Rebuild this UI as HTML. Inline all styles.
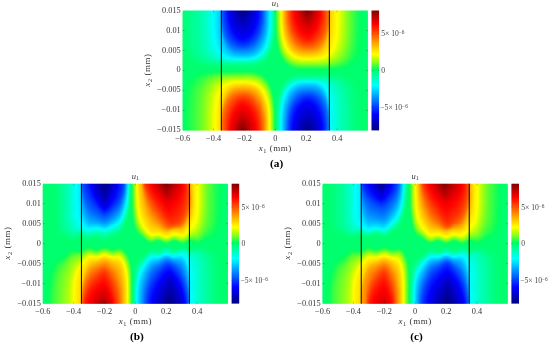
<!DOCTYPE html>
<html lang="en"><head><meta charset="utf-8"><title>u1 displacement field</title><style>
html,body{margin:0;padding:0;background:#fff}
body{width:550px;height:345px;position:relative;overflow:hidden;font-family:"Liberation Serif",serif;color:#333}
svg{position:absolute;left:0;top:0;display:block}
span{position:absolute;white-space:nowrap;line-height:10px}
.yt{width:40px;text-align:right;font-size:8.3px}
.xt{width:40px;text-align:center;font-size:8.3px}
.ti{width:40px;text-align:center;font-size:8.5px}
.xl{width:60px;text-align:center;font-size:9px;line-height:12px;letter-spacing:.55px}
.yl{width:60px;text-align:center;font-size:9px;line-height:12px;letter-spacing:.55px;transform:rotate(-90deg)}
.ct{font-size:7.6px;color:#444}
.cap{width:40px;text-align:center;font-size:11.3px;line-height:13px;font-weight:bold;color:#000}
sub{font-size:70%;vertical-align:-0.25em;line-height:0}
sup{font-size:70%;vertical-align:0.45em;line-height:0}
</style></head><body>
<svg width="550" height="345" viewBox="0 0 550 345"><defs><linearGradient id="cbg" x1="0" y1="0" x2="0" y2="1"><stop offset="0" stop-color="#800000"/><stop offset="0.115" stop-color="#f00"/><stop offset="0.36" stop-color="#ff0"/><stop offset="0.365" stop-color="#ff0"/><stop offset="0.39" stop-color="#d2ff00"/><stop offset="0.435" stop-color="#80ff1e"/><stop offset="0.49" stop-color="#00ff62"/><stop offset="0.5" stop-color="#00ff6e"/><stop offset="0.625" stop-color="#0ff"/><stop offset="0.865" stop-color="#00f"/><stop offset="1" stop-color="#000080"/></linearGradient></defs><defs><linearGradient id="a0"><stop offset="0" stop-color="#00ff76"/><stop offset=".046" stop-color="#00ff8c"/><stop offset=".1" stop-color="#00ffaf"/><stop offset=".132" stop-color="#00ffcf"/><stop offset=".165" stop-color="#00fffe"/><stop offset=".203" stop-color="#0cf"/><stop offset=".208" stop-color="#008fff"/><stop offset=".214" stop-color="#005cff"/><stop offset=".246" stop-color="#0003ff"/><stop offset=".268" stop-color="#0000d6"/><stop offset=".3" stop-color="#0000a4"/><stop offset=".316" stop-color="#00008d"/><stop offset=".327" stop-color="#000086"/><stop offset=".381" stop-color="#0000d2"/><stop offset=".408" stop-color="#0004ff"/><stop offset=".43" stop-color="#0047ff"/><stop offset=".468" stop-color="#00ebff"/><stop offset=".473" stop-color="#00fff9"/><stop offset=".5" stop-color="#00ff6e"/><stop offset=".505" stop-color="#21ff50"/><stop offset=".516" stop-color="#8eff19"/><stop offset=".527" stop-color="#e4ff00"/><stop offset=".532" stop-color="#fffb00"/><stop offset=".57" stop-color="#ff5a00"/><stop offset=".586" stop-color="#ff2600"/><stop offset=".603" stop-color="#ff0100"/><stop offset=".657" stop-color="#9e0000"/><stop offset=".673" stop-color="#870000"/><stop offset=".678" stop-color="#890000"/><stop offset=".695" stop-color="#a00000"/><stop offset=".743" stop-color="#fc0000"/><stop offset=".786" stop-color="#ff7000"/><stop offset=".797" stop-color="#ffd200"/><stop offset=".83" stop-color="#fffb00"/><stop offset=".841" stop-color="#f8ff00"/><stop offset=".857" stop-color="#cfff01"/><stop offset=".889" stop-color="#85ff1c"/><stop offset=".911" stop-color="#52ff36"/><stop offset=".943" stop-color="#15ff57"/><stop offset=".959" stop-color="#01ff61"/><stop offset="1" stop-color="#00ff6e"/></linearGradient><linearGradient id="a1"><stop offset="0" stop-color="#00ff76"/><stop offset=".046" stop-color="#00ff8c"/><stop offset=".1" stop-color="#00ffaf"/><stop offset=".132" stop-color="#00ffcf"/><stop offset=".165" stop-color="#00fffe"/><stop offset=".203" stop-color="#0cf"/><stop offset=".208" stop-color="#0090ff"/><stop offset=".214" stop-color="#005dff"/><stop offset=".246" stop-color="#0005ff"/><stop offset=".268" stop-color="#0000d8"/><stop offset=".3" stop-color="#0000ab"/><stop offset=".316" stop-color="#000095"/><stop offset=".327" stop-color="#00008f"/><stop offset=".381" stop-color="#0000d4"/><stop offset=".403" stop-color="#0000f9"/><stop offset=".408" stop-color="#0005ff"/><stop offset=".43" stop-color="#0048ff"/><stop offset=".468" stop-color="#00ecff"/><stop offset=".473" stop-color="#00fff9"/><stop offset=".5" stop-color="#00ff6e"/><stop offset=".505" stop-color="#21ff50"/><stop offset=".516" stop-color="#8eff19"/><stop offset=".527" stop-color="#e4ff00"/><stop offset=".532" stop-color="#fffc00"/><stop offset=".57" stop-color="#ff5b00"/><stop offset=".586" stop-color="#ff2800"/><stop offset=".603" stop-color="#ff0300"/><stop offset=".673" stop-color="#920000"/><stop offset=".678" stop-color="#930000"/><stop offset=".695" stop-color="#a90000"/><stop offset=".743" stop-color="#fe0000"/><stop offset=".786" stop-color="#ff7000"/><stop offset=".797" stop-color="#ffd200"/><stop offset=".83" stop-color="#fffb00"/><stop offset=".841" stop-color="#f8ff00"/><stop offset=".857" stop-color="#cfff01"/><stop offset=".889" stop-color="#85ff1c"/><stop offset=".911" stop-color="#52ff36"/><stop offset=".943" stop-color="#15ff57"/><stop offset=".959" stop-color="#01ff61"/><stop offset="1" stop-color="#00ff6e"/></linearGradient><linearGradient id="a2"><stop offset="0" stop-color="#00ff76"/><stop offset=".046" stop-color="#00ff8c"/><stop offset=".1" stop-color="#00ffaf"/><stop offset=".132" stop-color="#00ffcf"/><stop offset=".165" stop-color="#00fffd"/><stop offset=".203" stop-color="#0cf"/><stop offset=".214" stop-color="#005eff"/><stop offset=".246" stop-color="#0007ff"/><stop offset=".251" stop-color="#0000f9"/><stop offset=".268" stop-color="#0000dc"/><stop offset=".3" stop-color="#0000b2"/><stop offset=".316" stop-color="#00009e"/><stop offset=".327" stop-color="#000098"/><stop offset=".376" stop-color="#0000d1"/><stop offset=".403" stop-color="#0000fb"/><stop offset=".414" stop-color="#0015ff"/><stop offset=".43" stop-color="#0049ff"/><stop offset=".468" stop-color="#00ecff"/><stop offset=".473" stop-color="#00fff9"/><stop offset=".5" stop-color="#00ff6e"/><stop offset=".505" stop-color="#21ff50"/><stop offset=".516" stop-color="#8dff19"/><stop offset=".527" stop-color="#e3ff00"/><stop offset=".532" stop-color="#fffc00"/><stop offset=".57" stop-color="#ff5c00"/><stop offset=".586" stop-color="#ff2a00"/><stop offset=".603" stop-color="#ff0600"/><stop offset=".608" stop-color="#fa0000"/><stop offset=".673" stop-color="#9c0000"/><stop offset=".689" stop-color="#a00"/><stop offset=".738" stop-color="#f60000"/><stop offset=".743" stop-color="#ff0200"/><stop offset=".749" stop-color="#ff0f00"/><stop offset=".786" stop-color="#ff7100"/><stop offset=".797" stop-color="#ffd200"/><stop offset=".83" stop-color="#fffb00"/><stop offset=".841" stop-color="#f8ff00"/><stop offset=".857" stop-color="#cfff01"/><stop offset=".889" stop-color="#85ff1c"/><stop offset=".911" stop-color="#52ff36"/><stop offset=".943" stop-color="#15ff57"/><stop offset=".959" stop-color="#01ff61"/><stop offset="1" stop-color="#00ff6e"/></linearGradient><linearGradient id="a3"><stop offset="0" stop-color="#00ff76"/><stop offset=".046" stop-color="#00ff8c"/><stop offset=".1" stop-color="#00ffaf"/><stop offset=".132" stop-color="#00ffcf"/><stop offset=".165" stop-color="#00fffd"/><stop offset=".203" stop-color="#0cf"/><stop offset=".214" stop-color="#0060ff"/><stop offset=".224" stop-color="#0040ff"/><stop offset=".251" stop-color="#0000fd"/><stop offset=".273" stop-color="#0000d8"/><stop offset=".3" stop-color="#0000b9"/><stop offset=".327" stop-color="#0000a1"/><stop offset=".376" stop-color="#0000d5"/><stop offset=".403" stop-color="#0000fe"/><stop offset=".414" stop-color="#0018ff"/><stop offset=".43" stop-color="#004bff"/><stop offset=".468" stop-color="#00ecff"/><stop offset=".473" stop-color="#00fff8"/><stop offset=".5" stop-color="#00ff6e"/><stop offset=".505" stop-color="#21ff50"/><stop offset=".516" stop-color="#8dff19"/><stop offset=".527" stop-color="#e3ff00"/><stop offset=".532" stop-color="#fffc00"/><stop offset=".559" stop-color="#ff8900"/><stop offset=".576" stop-color="#ff4c00"/><stop offset=".592" stop-color="#ff1f00"/><stop offset=".608" stop-color="#fe0000"/><stop offset=".63" stop-color="#d00"/><stop offset=".673" stop-color="#a70000"/><stop offset=".689" stop-color="#b40000"/><stop offset=".738" stop-color="#fb0000"/><stop offset=".749" stop-color="#ff1200"/><stop offset=".786" stop-color="#ff7300"/><stop offset=".797" stop-color="#ffd200"/><stop offset=".83" stop-color="#fffb00"/><stop offset=".841" stop-color="#f8ff00"/><stop offset=".857" stop-color="#cfff01"/><stop offset=".889" stop-color="#85ff1c"/><stop offset=".911" stop-color="#52ff36"/><stop offset=".943" stop-color="#15ff57"/><stop offset=".959" stop-color="#01ff61"/><stop offset="1" stop-color="#00ff6e"/></linearGradient><linearGradient id="a4"><stop offset="0" stop-color="#00ff76"/><stop offset=".046" stop-color="#00ff8c"/><stop offset=".1" stop-color="#00ffaf"/><stop offset=".132" stop-color="#00ffcf"/><stop offset=".165" stop-color="#00fffd"/><stop offset=".203" stop-color="#0cf"/><stop offset=".208" stop-color="#009eff"/><stop offset=".214" stop-color="#0062ff"/><stop offset=".224" stop-color="#0042ff"/><stop offset=".251" stop-color="#0002ff"/><stop offset=".273" stop-color="#00d"/><stop offset=".3" stop-color="#0000c0"/><stop offset=".327" stop-color="#0000ab"/><stop offset=".37" stop-color="#0000d4"/><stop offset=".403" stop-color="#0003ff"/><stop offset=".419" stop-color="#002bff"/><stop offset=".43" stop-color="#004fff"/><stop offset=".468" stop-color="#00edff"/><stop offset=".473" stop-color="#00fff8"/><stop offset=".5" stop-color="#00ff6e"/><stop offset=".505" stop-color="#20ff51"/><stop offset=".516" stop-color="#8cff1a"/><stop offset=".527" stop-color="#e1ff00"/><stop offset=".532" stop-color="#fffd00"/><stop offset=".559" stop-color="#ff8b00"/><stop offset=".576" stop-color="#ff5000"/><stop offset=".592" stop-color="#ff2300"/><stop offset=".608" stop-color="#ff0400"/><stop offset=".673" stop-color="#b20000"/><stop offset=".689" stop-color="#be0000"/><stop offset=".732" stop-color="#f60000"/><stop offset=".738" stop-color="#ff0100"/><stop offset=".743" stop-color="#ff0b00"/><stop offset=".781" stop-color="#ff6400"/><stop offset=".786" stop-color="#ff7500"/><stop offset=".792" stop-color="#ffab00"/><stop offset=".797" stop-color="#ffd300"/><stop offset=".83" stop-color="#fffb00"/><stop offset=".841" stop-color="#f8ff00"/><stop offset=".857" stop-color="#cfff01"/><stop offset=".889" stop-color="#85ff1c"/><stop offset=".911" stop-color="#52ff36"/><stop offset=".943" stop-color="#15ff57"/><stop offset=".959" stop-color="#01ff61"/><stop offset="1" stop-color="#00ff6e"/></linearGradient><linearGradient id="a5"><stop offset="0" stop-color="#00ff76"/><stop offset=".046" stop-color="#00ff8c"/><stop offset=".1" stop-color="#00ffaf"/><stop offset=".132" stop-color="#00ffcf"/><stop offset=".165" stop-color="#00fffd"/><stop offset=".203" stop-color="#00cdff"/><stop offset=".208" stop-color="#00a5ff"/><stop offset=".214" stop-color="#06f"/><stop offset=".224" stop-color="#0045ff"/><stop offset=".251" stop-color="#0007ff"/><stop offset=".257" stop-color="#0000fb"/><stop offset=".278" stop-color="#0000dc"/><stop offset=".3" stop-color="#0000c7"/><stop offset=".327" stop-color="#0000b4"/><stop offset=".37" stop-color="#0000d9"/><stop offset=".397" stop-color="#0000fd"/><stop offset=".408" stop-color="#0014ff"/><stop offset=".424" stop-color="#0041ff"/><stop offset=".441" stop-color="#007cff"/><stop offset=".468" stop-color="#00efff"/><stop offset=".473" stop-color="#00fff6"/><stop offset=".5" stop-color="#00ff6e"/><stop offset=".505" stop-color="#1fff51"/><stop offset=".516" stop-color="#8bff1a"/><stop offset=".527" stop-color="#e0ff00"/><stop offset=".532" stop-color="#fffe00"/><stop offset=".559" stop-color="#ff8f00"/><stop offset=".576" stop-color="#ff5400"/><stop offset=".592" stop-color="#ff2800"/><stop offset=".614" stop-color="#f00"/><stop offset=".635" stop-color="#e20000"/><stop offset=".673" stop-color="#be0000"/><stop offset=".695" stop-color="#cd0000"/><stop offset=".732" stop-color="#fc0000"/><stop offset=".749" stop-color="#ff1c00"/><stop offset=".781" stop-color="#ff6700"/><stop offset=".786" stop-color="#ff7900"/><stop offset=".792" stop-color="#ffb100"/><stop offset=".797" stop-color="#ffd300"/><stop offset=".83" stop-color="#fffb00"/><stop offset=".841" stop-color="#f8ff00"/><stop offset=".857" stop-color="#cfff01"/><stop offset=".889" stop-color="#85ff1c"/><stop offset=".911" stop-color="#52ff36"/><stop offset=".943" stop-color="#15ff57"/><stop offset=".959" stop-color="#01ff61"/><stop offset="1" stop-color="#00ff6e"/></linearGradient><linearGradient id="a6"><stop offset="0" stop-color="#00ff76"/><stop offset=".046" stop-color="#00ff8c"/><stop offset=".1" stop-color="#00ffae"/><stop offset=".132" stop-color="#00ffcf"/><stop offset=".165" stop-color="#00fffd"/><stop offset=".203" stop-color="#00cdff"/><stop offset=".208" stop-color="#00adff"/><stop offset=".214" stop-color="#006bff"/><stop offset=".219" stop-color="#0057ff"/><stop offset=".257" stop-color="#0001ff"/><stop offset=".273" stop-color="#0000e8"/><stop offset=".3" stop-color="#0000cd"/><stop offset=".327" stop-color="#0000be"/><stop offset=".365" stop-color="#0000da"/><stop offset=".397" stop-color="#0003ff"/><stop offset=".414" stop-color="#0027ff"/><stop offset=".43" stop-color="#0058ff"/><stop offset=".468" stop-color="#00f0ff"/><stop offset=".473" stop-color="#00fff5"/><stop offset=".5" stop-color="#00ff6e"/><stop offset=".505" stop-color="#1eff52"/><stop offset=".516" stop-color="#89ff1b"/><stop offset=".527" stop-color="#df0"/><stop offset=".532" stop-color="#ff0"/><stop offset=".559" stop-color="#ff9300"/><stop offset=".576" stop-color="#ff5900"/><stop offset=".592" stop-color="#ff2e00"/><stop offset=".608" stop-color="#ff0e00"/><stop offset=".619" stop-color="#fd0000"/><stop offset=".651" stop-color="#d90000"/><stop offset=".678" stop-color="#c90000"/><stop offset=".705" stop-color="#e00000"/><stop offset=".732" stop-color="#ff0300"/><stop offset=".749" stop-color="#ff2100"/><stop offset=".781" stop-color="#ff6a00"/><stop offset=".786" stop-color="#ff7e00"/><stop offset=".792" stop-color="#ffb800"/><stop offset=".797" stop-color="#ffd400"/><stop offset=".835" stop-color="#ff0"/><stop offset=".841" stop-color="#f7ff00"/><stop offset=".857" stop-color="#cfff01"/><stop offset=".889" stop-color="#85ff1c"/><stop offset=".911" stop-color="#52ff36"/><stop offset=".943" stop-color="#15ff57"/><stop offset=".959" stop-color="#01ff61"/><stop offset="1" stop-color="#00ff6e"/></linearGradient><linearGradient id="a7"><stop offset="0" stop-color="#00ff76"/><stop offset=".046" stop-color="#00ff8c"/><stop offset=".1" stop-color="#00ffae"/><stop offset=".132" stop-color="#00ffcf"/><stop offset=".165" stop-color="#00fffc"/><stop offset=".203" stop-color="#00ceff"/><stop offset=".208" stop-color="#00b4ff"/><stop offset=".214" stop-color="#0074ff"/><stop offset=".219" stop-color="#005cff"/><stop offset=".257" stop-color="#0008ff"/><stop offset=".262" stop-color="#0000fd"/><stop offset=".278" stop-color="#0000e7"/><stop offset=".3" stop-color="#0000d4"/><stop offset=".322" stop-color="#0000c7"/><stop offset=".332" stop-color="#0000c9"/><stop offset=".365" stop-color="#0000e0"/><stop offset=".392" stop-color="#00f"/><stop offset=".408" stop-color="#0020ff"/><stop offset=".424" stop-color="#004cff"/><stop offset=".451" stop-color="#00afff"/><stop offset=".468" stop-color="#00f3ff"/><stop offset=".473" stop-color="#00fff2"/><stop offset=".5" stop-color="#00ff6e"/><stop offset=".505" stop-color="#1bff53"/><stop offset=".516" stop-color="#86ff1c"/><stop offset=".527" stop-color="#d9ff00"/><stop offset=".532" stop-color="#ff0"/><stop offset=".576" stop-color="#ff5f00"/><stop offset=".592" stop-color="#ff3400"/><stop offset=".608" stop-color="#ff1400"/><stop offset=".624" stop-color="#fc0000"/><stop offset=".657" stop-color="#d00"/><stop offset=".678" stop-color="#d40000"/><stop offset=".722" stop-color="#f90000"/><stop offset=".732" stop-color="#ff0900"/><stop offset=".77" stop-color="#ff5400"/><stop offset=".781" stop-color="#ff6f00"/><stop offset=".786" stop-color="#ff8600"/><stop offset=".792" stop-color="#ffbf00"/><stop offset=".797" stop-color="#ffd500"/><stop offset=".835" stop-color="#ff0"/><stop offset=".841" stop-color="#f7ff00"/><stop offset=".857" stop-color="#ceff01"/><stop offset=".889" stop-color="#85ff1c"/><stop offset=".911" stop-color="#52ff36"/><stop offset=".943" stop-color="#15ff57"/><stop offset=".959" stop-color="#01ff61"/><stop offset="1" stop-color="#00ff6e"/></linearGradient><linearGradient id="a8"><stop offset="0" stop-color="#00ff76"/><stop offset=".046" stop-color="#00ff8b"/><stop offset=".1" stop-color="#00ffae"/><stop offset=".132" stop-color="#00ffcf"/><stop offset=".165" stop-color="#00fffc"/><stop offset=".203" stop-color="#00cfff"/><stop offset=".208" stop-color="#0bf"/><stop offset=".214" stop-color="#007fff"/><stop offset=".219" stop-color="#0062ff"/><stop offset=".23" stop-color="#0046ff"/><stop offset=".262" stop-color="#0005ff"/><stop offset=".268" stop-color="#0000fb"/><stop offset=".3" stop-color="#0000db"/><stop offset=".322" stop-color="#0000cf"/><stop offset=".332" stop-color="#0000d1"/><stop offset=".365" stop-color="#0000e5"/><stop offset=".386" stop-color="#0000fd"/><stop offset=".392" stop-color="#0007ff"/><stop offset=".408" stop-color="#0027ff"/><stop offset=".424" stop-color="#0053ff"/><stop offset=".451" stop-color="#00b3ff"/><stop offset=".468" stop-color="#00f6ff"/><stop offset=".473" stop-color="#00ffef"/><stop offset=".5" stop-color="#00ff6e"/><stop offset=".505" stop-color="#18ff55"/><stop offset=".516" stop-color="#83ff1d"/><stop offset=".527" stop-color="#d5ff00"/><stop offset=".532" stop-color="#fdff00"/><stop offset=".538" stop-color="#ffef00"/><stop offset=".565" stop-color="#ff8a00"/><stop offset=".581" stop-color="#ff5700"/><stop offset=".597" stop-color="#ff2f00"/><stop offset=".619" stop-color="#ff0b00"/><stop offset=".63" stop-color="#fd0000"/><stop offset=".673" stop-color="#d00"/><stop offset=".689" stop-color="#e20000"/><stop offset=".716" stop-color="#fa0000"/><stop offset=".722" stop-color="#ff0100"/><stop offset=".732" stop-color="#ff1000"/><stop offset=".776" stop-color="#f60"/><stop offset=".781" stop-color="#ff7500"/><stop offset=".786" stop-color="#ff9100"/><stop offset=".792" stop-color="#ffc500"/><stop offset=".797" stop-color="#ffd600"/><stop offset=".83" stop-color="#fffd00"/><stop offset=".835" stop-color="#ff0"/><stop offset=".841" stop-color="#f6ff00"/><stop offset=".857" stop-color="#cdff02"/><stop offset=".889" stop-color="#84ff1c"/><stop offset=".911" stop-color="#52ff36"/><stop offset=".943" stop-color="#15ff57"/><stop offset=".959" stop-color="#01ff61"/><stop offset="1" stop-color="#00ff6e"/></linearGradient><linearGradient id="a9"><stop offset="0" stop-color="#00ff76"/><stop offset=".046" stop-color="#00ff8b"/><stop offset=".1" stop-color="#00ffae"/><stop offset=".127" stop-color="#00ffc8"/><stop offset=".17" stop-color="#00fbff"/><stop offset=".203" stop-color="#00d0ff"/><stop offset=".208" stop-color="#00c2ff"/><stop offset=".214" stop-color="#008eff"/><stop offset=".219" stop-color="#006aff"/><stop offset=".224" stop-color="#0059ff"/><stop offset=".241" stop-color="#0036ff"/><stop offset=".268" stop-color="#0003ff"/><stop offset=".3" stop-color="#0000e1"/><stop offset=".322" stop-color="#0000d7"/><stop offset=".332" stop-color="#0000d8"/><stop offset=".359" stop-color="#0000e7"/><stop offset=".381" stop-color="#0000fc"/><stop offset=".386" stop-color="#0005ff"/><stop offset=".408" stop-color="#002fff"/><stop offset=".424" stop-color="#005cff"/><stop offset=".451" stop-color="#00b8ff"/><stop offset=".468" stop-color="#00faff"/><stop offset=".473" stop-color="#00ffeb"/><stop offset=".495" stop-color="#00ff82"/><stop offset=".5" stop-color="#00ff6e"/><stop offset=".505" stop-color="#14ff57"/><stop offset=".516" stop-color="#7fff1f"/><stop offset=".527" stop-color="#cfff01"/><stop offset=".532" stop-color="#f6ff00"/><stop offset=".538" stop-color="#fff300"/><stop offset=".559" stop-color="#ffa400"/><stop offset=".581" stop-color="#ff5f00"/><stop offset=".597" stop-color="#ff3700"/><stop offset=".619" stop-color="#ff1200"/><stop offset=".635" stop-color="#fe0000"/><stop offset=".673" stop-color="#e60000"/><stop offset=".689" stop-color="#eb0000"/><stop offset=".711" stop-color="#fb0000"/><stop offset=".716" stop-color="#ff0200"/><stop offset=".732" stop-color="#ff1800"/><stop offset=".77" stop-color="#ff5f00"/><stop offset=".781" stop-color="#ff7d00"/><stop offset=".786" stop-color="#ff9e00"/><stop offset=".792" stop-color="#ffcb00"/><stop offset=".797" stop-color="#ffd700"/><stop offset=".83" stop-color="#fffd00"/><stop offset=".835" stop-color="#ff0"/><stop offset=".857" stop-color="#ccff02"/><stop offset=".889" stop-color="#84ff1d"/><stop offset=".916" stop-color="#46ff3d"/><stop offset=".943" stop-color="#15ff57"/><stop offset=".959" stop-color="#00ff61"/><stop offset="1" stop-color="#00ff6e"/></linearGradient><linearGradient id="a10"><stop offset="0" stop-color="#00ff76"/><stop offset=".041" stop-color="#0f8"/><stop offset=".1" stop-color="#00ffae"/><stop offset=".127" stop-color="#00ffc7"/><stop offset=".17" stop-color="#00fcff"/><stop offset=".208" stop-color="#00c7ff"/><stop offset=".219" stop-color="#0076ff"/><stop offset=".224" stop-color="#0061ff"/><stop offset=".241" stop-color="#003dff"/><stop offset=".273" stop-color="#0003ff"/><stop offset=".3" stop-color="#0000e8"/><stop offset=".332" stop-color="#0000df"/><stop offset=".359" stop-color="#0000ed"/><stop offset=".376" stop-color="#0000fd"/><stop offset=".381" stop-color="#0006ff"/><stop offset=".403" stop-color="#002cff"/><stop offset=".419" stop-color="#05f"/><stop offset=".446" stop-color="#00abff"/><stop offset=".468" stop-color="#0ff"/><stop offset=".495" stop-color="#00ff80"/><stop offset=".5" stop-color="#00ff6e"/><stop offset=".505" stop-color="#0fff59"/><stop offset=".516" stop-color="#78ff22"/><stop offset=".522" stop-color="#a1ff12"/><stop offset=".527" stop-color="#c9ff03"/><stop offset=".532" stop-color="#efff00"/><stop offset=".538" stop-color="#fff800"/><stop offset=".554" stop-color="#ffbd00"/><stop offset=".581" stop-color="#ff6800"/><stop offset=".597" stop-color="#ff4000"/><stop offset=".619" stop-color="#ff1a00"/><stop offset=".641" stop-color="#ff0100"/><stop offset=".673" stop-color="#ef0000"/><stop offset=".705" stop-color="#fe0000"/><stop offset=".727" stop-color="#ff1800"/><stop offset=".765" stop-color="#ff5b00"/><stop offset=".776" stop-color="#ff7400"/><stop offset=".781" stop-color="#f80"/><stop offset=".792" stop-color="#ffcf00"/><stop offset=".83" stop-color="#fffe00"/><stop offset=".835" stop-color="#ff0"/><stop offset=".857" stop-color="#cbff02"/><stop offset=".889" stop-color="#83ff1d"/><stop offset=".916" stop-color="#45ff3d"/><stop offset=".943" stop-color="#14ff57"/><stop offset=".959" stop-color="#00ff62"/><stop offset="1" stop-color="#00ff6e"/></linearGradient><linearGradient id="a11"><stop offset="0" stop-color="#00ff76"/><stop offset=".041" stop-color="#0f8"/><stop offset=".1" stop-color="#00ffad"/><stop offset=".127" stop-color="#00ffc7"/><stop offset=".17" stop-color="#00fdff"/><stop offset=".208" stop-color="#00caff"/><stop offset=".214" stop-color="#00acff"/><stop offset=".219" stop-color="#0084ff"/><stop offset=".224" stop-color="#006bff"/><stop offset=".241" stop-color="#04f"/><stop offset=".278" stop-color="#0005ff"/><stop offset=".3" stop-color="#00e"/><stop offset=".332" stop-color="#0000e7"/><stop offset=".354" stop-color="#0000f0"/><stop offset=".37" stop-color="#00f"/><stop offset=".381" stop-color="#000fff"/><stop offset=".403" stop-color="#0037ff"/><stop offset=".419" stop-color="#005fff"/><stop offset=".446" stop-color="#00b2ff"/><stop offset=".462" stop-color="#0ef"/><stop offset=".468" stop-color="#00fff9"/><stop offset=".495" stop-color="#00ff7c"/><stop offset=".5" stop-color="#00ff6e"/><stop offset=".505" stop-color="#0aff5d"/><stop offset=".516" stop-color="#70ff26"/><stop offset=".522" stop-color="#9aff14"/><stop offset=".532" stop-color="#e6ff00"/><stop offset=".538" stop-color="#fffd00"/><stop offset=".554" stop-color="#ffc400"/><stop offset=".581" stop-color="#ff7200"/><stop offset=".597" stop-color="#ff4a00"/><stop offset=".614" stop-color="#ff2c00"/><stop offset=".635" stop-color="#ff0f00"/><stop offset=".651" stop-color="#ff0100"/><stop offset=".673" stop-color="#f70000"/><stop offset=".695" stop-color="#fe0000"/><stop offset=".722" stop-color="#ff1a00"/><stop offset=".759" stop-color="#ff5800"/><stop offset=".776" stop-color="#ff7e00"/><stop offset=".781" stop-color="#ff9600"/><stop offset=".786" stop-color="#ffba00"/><stop offset=".792" stop-color="#ffd200"/><stop offset=".83" stop-color="#ff0"/><stop offset=".835" stop-color="#fdff00"/><stop offset=".857" stop-color="#c9ff03"/><stop offset=".889" stop-color="#82ff1d"/><stop offset=".916" stop-color="#45ff3d"/><stop offset=".943" stop-color="#14ff57"/><stop offset=".959" stop-color="#00ff62"/><stop offset="1" stop-color="#00ff6e"/></linearGradient><linearGradient id="a12"><stop offset="0" stop-color="#00ff76"/><stop offset=".046" stop-color="#00ff8b"/><stop offset=".105" stop-color="#00ffb1"/><stop offset=".132" stop-color="#0fc"/><stop offset=".17" stop-color="#0ff"/><stop offset=".208" stop-color="#00cdff"/><stop offset=".214" stop-color="#00b9ff"/><stop offset=".224" stop-color="#0079ff"/><stop offset=".23" stop-color="#0065ff"/><stop offset=".241" stop-color="#004dff"/><stop offset=".284" stop-color="#0008ff"/><stop offset=".3" stop-color="#0000f7"/><stop offset=".327" stop-color="#0000ed"/><stop offset=".359" stop-color="#0000fe"/><stop offset=".381" stop-color="#001aff"/><stop offset=".403" stop-color="#0042ff"/><stop offset=".419" stop-color="#006aff"/><stop offset=".446" stop-color="#00baff"/><stop offset=".462" stop-color="#00f5ff"/><stop offset=".468" stop-color="#00fff2"/><stop offset=".495" stop-color="#00ff78"/><stop offset=".505" stop-color="#03ff60"/><stop offset=".516" stop-color="#67ff2b"/><stop offset=".522" stop-color="#92ff17"/><stop offset=".532" stop-color="#dcff00"/><stop offset=".538" stop-color="#ff0"/><stop offset=".581" stop-color="#ff7d00"/><stop offset=".608" stop-color="#ff4000"/><stop offset=".641" stop-color="#ff1300"/><stop offset=".673" stop-color="#ff0100"/><stop offset=".689" stop-color="#ff0400"/><stop offset=".705" stop-color="#f10"/><stop offset=".749" stop-color="#ff4e00"/><stop offset=".77" stop-color="#ff7800"/><stop offset=".776" stop-color="#ff8b00"/><stop offset=".786" stop-color="#ffc500"/><stop offset=".792" stop-color="#ffd500"/><stop offset=".824" stop-color="#fffb00"/><stop offset=".835" stop-color="#faff00"/><stop offset=".857" stop-color="#c7ff04"/><stop offset=".889" stop-color="#81ff1e"/><stop offset=".916" stop-color="#44ff3e"/><stop offset=".943" stop-color="#13ff57"/><stop offset=".959" stop-color="#00ff62"/><stop offset="1" stop-color="#00ff6e"/></linearGradient><linearGradient id="a13"><stop offset="0" stop-color="#00ff75"/><stop offset=".046" stop-color="#00ff8a"/><stop offset=".105" stop-color="#00ffb0"/><stop offset=".132" stop-color="#00ffcb"/><stop offset=".17" stop-color="#00fffd"/><stop offset=".208" stop-color="#00d0ff"/><stop offset=".214" stop-color="#00c4ff"/><stop offset=".224" stop-color="#0089ff"/><stop offset=".23" stop-color="#0073ff"/><stop offset=".241" stop-color="#0057ff"/><stop offset=".257" stop-color="#003bff"/><stop offset=".3" stop-color="#0002ff"/><stop offset=".332" stop-color="#0000f7"/><stop offset=".349" stop-color="#00f"/><stop offset=".359" stop-color="#000aff"/><stop offset=".381" stop-color="#0026ff"/><stop offset=".397" stop-color="#0043ff"/><stop offset=".435" stop-color="#00a2ff"/><stop offset=".462" stop-color="#00fdff"/><stop offset=".495" stop-color="#00ff74"/><stop offset=".505" stop-color="#00ff65"/><stop offset=".522" stop-color="#89ff1b"/><stop offset=".532" stop-color="#d1ff00"/><stop offset=".538" stop-color="#f3ff00"/><stop offset=".543" stop-color="#fff800"/><stop offset=".576" stop-color="#ff9700"/><stop offset=".608" stop-color="#ff4c00"/><stop offset=".641" stop-color="#ff1f00"/><stop offset=".673" stop-color="#ff0b00"/><stop offset=".689" stop-color="#ff0f00"/><stop offset=".705" stop-color="#ff1c00"/><stop offset=".749" stop-color="#ff5800"/><stop offset=".77" stop-color="#ff8500"/><stop offset=".786" stop-color="#ffce00"/><stop offset=".824" stop-color="#fffd00"/><stop offset=".83" stop-color="#ff0"/><stop offset=".835" stop-color="#f7ff00"/><stop offset=".851" stop-color="#d1ff00"/><stop offset=".889" stop-color="#7fff1e"/><stop offset=".911" stop-color="#4eff38"/><stop offset=".943" stop-color="#13ff58"/><stop offset=".959" stop-color="#00ff62"/><stop offset="1" stop-color="#00ff6e"/></linearGradient><linearGradient id="a14"><stop offset="0" stop-color="#00ff75"/><stop offset=".046" stop-color="#00ff8a"/><stop offset=".105" stop-color="#00ffb0"/><stop offset=".132" stop-color="#00ffc9"/><stop offset=".176" stop-color="#00fcff"/><stop offset=".214" stop-color="#00cbff"/><stop offset=".23" stop-color="#0084ff"/><stop offset=".235" stop-color="#0072ff"/><stop offset=".251" stop-color="#004fff"/><stop offset=".295" stop-color="#0015ff"/><stop offset=".311" stop-color="#0008ff"/><stop offset=".327" stop-color="#0003ff"/><stop offset=".359" stop-color="#0018ff"/><stop offset=".392" stop-color="#0047ff"/><stop offset=".43" stop-color="#009eff"/><stop offset=".457" stop-color="#00f2ff"/><stop offset=".462" stop-color="#00fff8"/><stop offset=".495" stop-color="#00ff6f"/><stop offset=".505" stop-color="#00ff6a"/><stop offset=".511" stop-color="#21ff50"/><stop offset=".522" stop-color="#7eff1f"/><stop offset=".532" stop-color="#c4ff05"/><stop offset=".543" stop-color="#ff0"/><stop offset=".57" stop-color="#ffb000"/><stop offset=".608" stop-color="#ff5a00"/><stop offset=".641" stop-color="#ff2c00"/><stop offset=".673" stop-color="#ff1800"/><stop offset=".7" stop-color="#ff2400"/><stop offset=".743" stop-color="#ff5a00"/><stop offset=".765" stop-color="#ff8400"/><stop offset=".786" stop-color="#ffd300"/><stop offset=".824" stop-color="#ff0"/><stop offset=".83" stop-color="#feff00"/><stop offset=".851" stop-color="#cdff02"/><stop offset=".889" stop-color="#7dff20"/><stop offset=".916" stop-color="#41ff3f"/><stop offset=".943" stop-color="#12ff58"/><stop offset=".959" stop-color="#00ff62"/><stop offset="1" stop-color="#00ff6e"/></linearGradient><linearGradient id="a15"><stop offset="0" stop-color="#00ff75"/><stop offset=".046" stop-color="#00ff89"/><stop offset=".105" stop-color="#00ffae"/><stop offset=".138" stop-color="#00ffce"/><stop offset=".176" stop-color="#0ff"/><stop offset=".214" stop-color="#00cfff"/><stop offset=".219" stop-color="#00c3ff"/><stop offset=".235" stop-color="#0083ff"/><stop offset=".246" stop-color="#0067ff"/><stop offset=".257" stop-color="#0054ff"/><stop offset=".3" stop-color="#0020ff"/><stop offset=".327" stop-color="#0014ff"/><stop offset=".354" stop-color="#02f"/><stop offset=".386" stop-color="#004cff"/><stop offset=".43" stop-color="#0af"/><stop offset=".457" stop-color="#00fcff"/><stop offset=".489" stop-color="#00ff7e"/><stop offset=".495" stop-color="#00ff6e"/><stop offset=".505" stop-color="#00ff6e"/><stop offset=".511" stop-color="#15ff57"/><stop offset=".522" stop-color="#6fff27"/><stop offset=".527" stop-color="#95ff16"/><stop offset=".538" stop-color="#d6ff00"/><stop offset=".543" stop-color="#f6ff00"/><stop offset=".549" stop-color="#fff800"/><stop offset=".576" stop-color="#ffae00"/><stop offset=".614" stop-color="#ff6000"/><stop offset=".646" stop-color="#ff3700"/><stop offset=".673" stop-color="#ff2900"/><stop offset=".7" stop-color="#ff3400"/><stop offset=".738" stop-color="#ff5f00"/><stop offset=".759" stop-color="#ff8600"/><stop offset=".781" stop-color="#ffce00"/><stop offset=".824" stop-color="#ff0"/><stop offset=".83" stop-color="#f9ff00"/><stop offset=".851" stop-color="#c9ff03"/><stop offset=".884" stop-color="#86ff1c"/><stop offset=".916" stop-color="#3fff40"/><stop offset=".943" stop-color="#11ff59"/><stop offset=".959" stop-color="#00ff63"/><stop offset="1" stop-color="#00ff6e"/></linearGradient><linearGradient id="a16"><stop offset="0" stop-color="#00ff74"/><stop offset=".046" stop-color="#0f8"/><stop offset=".105" stop-color="#00ffad"/><stop offset=".138" stop-color="#00ffcb"/><stop offset=".176" stop-color="#00fffc"/><stop offset=".219" stop-color="#00cbff"/><stop offset=".241" stop-color="#0086ff"/><stop offset=".262" stop-color="#005bff"/><stop offset=".295" stop-color="#0036ff"/><stop offset=".327" stop-color="#0028ff"/><stop offset=".354" stop-color="#0035ff"/><stop offset=".386" stop-color="#005eff"/><stop offset=".424" stop-color="#00a9ff"/><stop offset=".451" stop-color="#00f5ff"/><stop offset=".457" stop-color="#00fff6"/><stop offset=".489" stop-color="#0f7"/><stop offset=".495" stop-color="#00ff6e"/><stop offset=".505" stop-color="#00ff6e"/><stop offset=".511" stop-color="#08ff5e"/><stop offset=".527" stop-color="#87ff1c"/><stop offset=".538" stop-color="#c6ff04"/><stop offset=".549" stop-color="#ff0"/><stop offset=".581" stop-color="#ffaf00"/><stop offset=".619" stop-color="#ff6800"/><stop offset=".646" stop-color="#ff4800"/><stop offset=".673" stop-color="#ff3c00"/><stop offset=".7" stop-color="#ff4600"/><stop offset=".732" stop-color="#f60"/><stop offset=".754" stop-color="#ff8a00"/><stop offset=".781" stop-color="#ffd400"/><stop offset=".819" stop-color="#ff0"/><stop offset=".824" stop-color="#feff00"/><stop offset=".846" stop-color="#d0ff01"/><stop offset=".884" stop-color="#82ff1d"/><stop offset=".916" stop-color="#3dff42"/><stop offset=".938" stop-color="#17ff55"/><stop offset=".959" stop-color="#00ff63"/><stop offset="1" stop-color="#00ff6e"/></linearGradient><linearGradient id="a17"><stop offset="0" stop-color="#00ff73"/><stop offset=".051" stop-color="#00ff8a"/><stop offset=".111" stop-color="#00ffaf"/><stop offset=".143" stop-color="#00ffce"/><stop offset=".181" stop-color="#0ff"/><stop offset=".224" stop-color="#00c9ff"/><stop offset=".246" stop-color="#008bff"/><stop offset=".268" stop-color="#0065ff"/><stop offset=".3" stop-color="#0045ff"/><stop offset=".327" stop-color="#003eff"/><stop offset=".354" stop-color="#0049ff"/><stop offset=".386" stop-color="#0070ff"/><stop offset=".424" stop-color="#00b7ff"/><stop offset=".451" stop-color="#00fffb"/><stop offset=".489" stop-color="#00ff70"/><stop offset=".505" stop-color="#00ff6e"/><stop offset=".511" stop-color="#00ff65"/><stop offset=".527" stop-color="#75ff24"/><stop offset=".532" stop-color="#96ff16"/><stop offset=".543" stop-color="#d1ff00"/><stop offset=".549" stop-color="#edff00"/><stop offset=".554" stop-color="#ff0"/><stop offset=".581" stop-color="#ffbd00"/><stop offset=".619" stop-color="#ff7b00"/><stop offset=".646" stop-color="#ff5c00"/><stop offset=".673" stop-color="#ff5200"/><stop offset=".7" stop-color="#ff5900"/><stop offset=".727" stop-color="#ff7100"/><stop offset=".749" stop-color="#ff9200"/><stop offset=".776" stop-color="#ffd300"/><stop offset=".819" stop-color="#ff0"/><stop offset=".846" stop-color="#caff03"/><stop offset=".884" stop-color="#7eff1f"/><stop offset=".916" stop-color="#3aff43"/><stop offset=".938" stop-color="#15ff56"/><stop offset=".954" stop-color="#01ff61"/><stop offset="1" stop-color="#00ff6e"/></linearGradient><linearGradient id="a18"><stop offset="0" stop-color="#00ff73"/><stop offset=".051" stop-color="#00ff89"/><stop offset=".111" stop-color="#00ffad"/><stop offset=".143" stop-color="#00ffca"/><stop offset=".186" stop-color="#00feff"/><stop offset=".224" stop-color="#00d1ff"/><stop offset=".251" stop-color="#0094ff"/><stop offset=".273" stop-color="#0073ff"/><stop offset=".3" stop-color="#005dff"/><stop offset=".327" stop-color="#0057ff"/><stop offset=".354" stop-color="#0061ff"/><stop offset=".386" stop-color="#0084ff"/><stop offset=".419" stop-color="#00baff"/><stop offset=".446" stop-color="#00fffe"/><stop offset=".484" stop-color="#00ff79"/><stop offset=".489" stop-color="#00ff6e"/><stop offset=".511" stop-color="#00ff6d"/><stop offset=".516" stop-color="#12ff58"/><stop offset=".532" stop-color="#85ff1c"/><stop offset=".549" stop-color="#d8ff00"/><stop offset=".554" stop-color="#f2ff00"/><stop offset=".559" stop-color="#fffd00"/><stop offset=".586" stop-color="#ffc100"/><stop offset=".619" stop-color="#ff8f00"/><stop offset=".646" stop-color="#ff7300"/><stop offset=".673" stop-color="#ff6a00"/><stop offset=".7" stop-color="#ff6f00"/><stop offset=".722" stop-color="#ff8000"/><stop offset=".743" stop-color="#ff9c00"/><stop offset=".77" stop-color="#ffd300"/><stop offset=".814" stop-color="#ff0"/><stop offset=".819" stop-color="#faff00"/><stop offset=".841" stop-color="#ceff01"/><stop offset=".878" stop-color="#84ff1d"/><stop offset=".916" stop-color="#36ff45"/><stop offset=".938" stop-color="#13ff58"/><stop offset=".954" stop-color="#00ff62"/><stop offset="1" stop-color="#00ff6e"/></linearGradient><linearGradient id="a19"><stop offset="0" stop-color="#00ff71"/><stop offset=".046" stop-color="#00ff84"/><stop offset=".111" stop-color="#0fa"/><stop offset=".143" stop-color="#00ffc6"/><stop offset=".192" stop-color="#00fdff"/><stop offset=".23" stop-color="#00d2ff"/><stop offset=".251" stop-color="#00a7ff"/><stop offset=".273" stop-color="#0089ff"/><stop offset=".295" stop-color="#0079ff"/><stop offset=".322" stop-color="#0072ff"/><stop offset=".349" stop-color="#07f"/><stop offset=".381" stop-color="#0091ff"/><stop offset=".408" stop-color="#00b6ff"/><stop offset=".435" stop-color="#00f2ff"/><stop offset=".441" stop-color="#00fffd"/><stop offset=".484" stop-color="#00ff70"/><stop offset=".511" stop-color="#00ff6e"/><stop offset=".516" stop-color="#00ff62"/><stop offset=".532" stop-color="#6eff27"/><stop offset=".538" stop-color="#8dff19"/><stop offset=".554" stop-color="#daff00"/><stop offset=".559" stop-color="#f2ff00"/><stop offset=".565" stop-color="#ff0"/><stop offset=".592" stop-color="#ffc800"/><stop offset=".619" stop-color="#ffa300"/><stop offset=".646" stop-color="#ff8c00"/><stop offset=".673" stop-color="#ff8500"/><stop offset=".7" stop-color="#f80"/><stop offset=".722" stop-color="#ff9600"/><stop offset=".743" stop-color="#ffb000"/><stop offset=".765" stop-color="#ffd500"/><stop offset=".808" stop-color="#ff0"/><stop offset=".814" stop-color="#faff00"/><stop offset=".835" stop-color="#d0ff01"/><stop offset=".878" stop-color="#7eff1f"/><stop offset=".916" stop-color="#32ff47"/><stop offset=".938" stop-color="#10ff59"/><stop offset=".954" stop-color="#00ff63"/><stop offset="1" stop-color="#00ff6e"/></linearGradient><linearGradient id="a20"><stop offset="0" stop-color="#00ff70"/><stop offset=".051" stop-color="#00ff85"/><stop offset=".116" stop-color="#00ffab"/><stop offset=".149" stop-color="#00ffc6"/><stop offset=".197" stop-color="#0ff"/><stop offset=".241" stop-color="#00ceff"/><stop offset=".273" stop-color="#009fff"/><stop offset=".295" stop-color="#0091ff"/><stop offset=".322" stop-color="#008dff"/><stop offset=".354" stop-color="#0092ff"/><stop offset=".381" stop-color="#00a5ff"/><stop offset=".408" stop-color="#00c9ff"/><stop offset=".43" stop-color="#00f7ff"/><stop offset=".435" stop-color="#00fff8"/><stop offset=".478" stop-color="#00ff76"/><stop offset=".484" stop-color="#00ff6e"/><stop offset=".516" stop-color="#00ff6c"/><stop offset=".522" stop-color="#10ff59"/><stop offset=".538" stop-color="#76ff23"/><stop offset=".543" stop-color="#91ff18"/><stop offset=".559" stop-color="#d7ff00"/><stop offset=".57" stop-color="#ff0"/><stop offset=".597" stop-color="#ffd100"/><stop offset=".619" stop-color="#ffb700"/><stop offset=".646" stop-color="#ffa400"/><stop offset=".673" stop-color="#ff9f00"/><stop offset=".7" stop-color="#ffa100"/><stop offset=".722" stop-color="#ffac00"/><stop offset=".765" stop-color="#ffdf00"/><stop offset=".803" stop-color="#ff0"/><stop offset=".83" stop-color="#d0ff01"/><stop offset=".873" stop-color="#81ff1e"/><stop offset=".911" stop-color="#36ff45"/><stop offset=".938" stop-color="#0dff5b"/><stop offset=".949" stop-color="#01ff61"/><stop offset="1" stop-color="#00ff6e"/></linearGradient><linearGradient id="a21"><stop offset="0" stop-color="#00ff6e"/><stop offset=".057" stop-color="#00ff85"/><stop offset=".122" stop-color="#0fa"/><stop offset=".154" stop-color="#00ffc5"/><stop offset=".203" stop-color="#00fffb"/><stop offset=".278" stop-color="#00b1ff"/><stop offset=".316" stop-color="#00a5ff"/><stop offset=".349" stop-color="#00a7ff"/><stop offset=".376" stop-color="#00b6ff"/><stop offset=".397" stop-color="#00ceff"/><stop offset=".419" stop-color="#00f5ff"/><stop offset=".424" stop-color="#00fffd"/><stop offset=".462" stop-color="#00ff92"/><stop offset=".478" stop-color="#00ff6e"/><stop offset=".516" stop-color="#00ff6e"/><stop offset=".522" stop-color="#00ff65"/><stop offset=".543" stop-color="#78ff22"/><stop offset=".549" stop-color="#91ff18"/><stop offset=".565" stop-color="#d0ff01"/><stop offset=".576" stop-color="#f6ff00"/><stop offset=".581" stop-color="#ff0"/><stop offset=".603" stop-color="#ffde00"/><stop offset=".624" stop-color="#ffc700"/><stop offset=".646" stop-color="#fb0"/><stop offset=".673" stop-color="#ffb700"/><stop offset=".716" stop-color="#ffbf00"/><stop offset=".792" stop-color="#ff0"/><stop offset=".797" stop-color="#fbff00"/><stop offset=".824" stop-color="#ccff02"/><stop offset=".868" stop-color="#82ff1d"/><stop offset=".911" stop-color="#30ff48"/><stop offset=".938" stop-color="#09ff5d"/><stop offset=".949" stop-color="#00ff63"/><stop offset="1" stop-color="#00ff6e"/></linearGradient><linearGradient id="a22"><stop offset="0" stop-color="#00ff6e"/><stop offset=".051" stop-color="#00ff80"/><stop offset=".127" stop-color="#00ffa8"/><stop offset=".165" stop-color="#00ffc6"/><stop offset=".219" stop-color="#00feff"/><stop offset=".278" stop-color="#00cbff"/><stop offset=".316" stop-color="#00c0ff"/><stop offset=".365" stop-color="#00c8ff"/><stop offset=".386" stop-color="#00daff"/><stop offset=".408" stop-color="#00f9ff"/><stop offset=".419" stop-color="#0fe"/><stop offset=".451" stop-color="#00ff9c"/><stop offset=".473" stop-color="#00ff6f"/><stop offset=".522" stop-color="#00ff6e"/><stop offset=".527" stop-color="#02ff61"/><stop offset=".543" stop-color="#59ff33"/><stop offset=".554" stop-color="#8cff1a"/><stop offset=".576" stop-color="#d5ff00"/><stop offset=".592" stop-color="#ff0"/><stop offset=".63" stop-color="#ffdb00"/><stop offset=".673" stop-color="#ffd000"/><stop offset=".716" stop-color="#ffd700"/><stop offset=".781" stop-color="#ff0"/><stop offset=".814" stop-color="#cfff01"/><stop offset=".862" stop-color="#81ff1e"/><stop offset=".905" stop-color="#31ff48"/><stop offset=".932" stop-color="#0bff5c"/><stop offset=".943" stop-color="#00ff62"/><stop offset=".981" stop-color="#00ff6e"/><stop offset="1" stop-color="#00ff6e"/></linearGradient><linearGradient id="a23"><stop offset="0" stop-color="#00ff6e"/><stop offset=".014" stop-color="#00ff6e"/><stop offset=".046" stop-color="#00ff7a"/><stop offset=".127" stop-color="#00ffa1"/><stop offset=".17" stop-color="#00ffbf"/><stop offset=".241" stop-color="#00feff"/><stop offset=".278" stop-color="#00e7ff"/><stop offset=".311" stop-color="#00e1ff"/><stop offset=".354" stop-color="#00e4ff"/><stop offset=".386" stop-color="#00f9ff"/><stop offset=".392" stop-color="#0ff"/><stop offset=".403" stop-color="#0fe"/><stop offset=".446" stop-color="#00ff94"/><stop offset=".468" stop-color="#00ff6f"/><stop offset=".527" stop-color="#00ff6c"/><stop offset=".532" stop-color="#04ff60"/><stop offset=".559" stop-color="#82ff1d"/><stop offset=".576" stop-color="#b3ff0b"/><stop offset=".592" stop-color="#dcff00"/><stop offset=".608" stop-color="#fcff00"/><stop offset=".614" stop-color="#ff0"/><stop offset=".646" stop-color="#fff000"/><stop offset=".678" stop-color="#ffed00"/><stop offset=".716" stop-color="#fff000"/><stop offset=".759" stop-color="#ff0"/><stop offset=".797" stop-color="#d3ff00"/><stop offset=".851" stop-color="#84ff1c"/><stop offset=".9" stop-color="#30ff48"/><stop offset=".932" stop-color="#05ff5f"/><stop offset=".938" stop-color="#00ff62"/><stop offset=".976" stop-color="#00ff6e"/><stop offset="1" stop-color="#00ff6e"/></linearGradient><linearGradient id="a24"><stop offset="0" stop-color="#00ff6e"/><stop offset=".024" stop-color="#00ff6f"/><stop offset=".122" stop-color="#00ff96"/><stop offset=".262" stop-color="#0fe"/><stop offset=".332" stop-color="#00fff5"/><stop offset=".359" stop-color="#00fff1"/><stop offset=".381" stop-color="#00ffe2"/><stop offset=".462" stop-color="#00ff6e"/><stop offset=".527" stop-color="#00ff6e"/><stop offset=".532" stop-color="#00ff6c"/><stop offset=".538" stop-color="#02ff61"/><stop offset=".554" stop-color="#47ff3c"/><stop offset=".57" stop-color="#83ff1d"/><stop offset=".597" stop-color="#c0ff06"/><stop offset=".614" stop-color="#d9ff00"/><stop offset=".635" stop-color="#edff00"/><stop offset=".678" stop-color="#f5ff00"/><stop offset=".732" stop-color="#ef0"/><stop offset=".776" stop-color="#d0ff01"/><stop offset=".841" stop-color="#83ff1d"/><stop offset=".9" stop-color="#25ff4e"/><stop offset=".932" stop-color="#00ff62"/><stop offset=".97" stop-color="#00ff6e"/><stop offset="1" stop-color="#00ff6e"/></linearGradient><linearGradient id="a25"><stop offset="0" stop-color="#00ff6e"/><stop offset=".041" stop-color="#00ff70"/><stop offset=".241" stop-color="#00ffbc"/><stop offset=".332" stop-color="#00ffc2"/><stop offset=".359" stop-color="#00ffbf"/><stop offset=".381" stop-color="#00ffb5"/><stop offset=".451" stop-color="#00ff70"/><stop offset=".532" stop-color="#00ff6e"/><stop offset=".543" stop-color="#00ff65"/><stop offset=".581" stop-color="#79ff22"/><stop offset=".603" stop-color="#a1ff12"/><stop offset=".635" stop-color="#bfff07"/><stop offset=".678" stop-color="#c5ff05"/><stop offset=".738" stop-color="#c0ff06"/><stop offset=".786" stop-color="#a6ff10"/><stop offset=".824" stop-color="#82ff1d"/><stop offset=".889" stop-color="#27ff4d"/><stop offset=".922" stop-color="#01ff61"/><stop offset=".959" stop-color="#00ff6d"/><stop offset="1" stop-color="#00ff6e"/></linearGradient><linearGradient id="a26"><stop offset="0" stop-color="#00ff6e"/><stop offset=".057" stop-color="#00ff70"/><stop offset=".214" stop-color="#00ff96"/><stop offset=".338" stop-color="#00ff9a"/><stop offset=".386" stop-color="#00ff91"/><stop offset=".446" stop-color="#00ff6e"/><stop offset=".543" stop-color="#00ff6e"/><stop offset=".554" stop-color="#00ff62"/><stop offset=".581" stop-color="#4cff39"/><stop offset=".608" stop-color="#7eff1f"/><stop offset=".635" stop-color="#92ff18"/><stop offset=".678" stop-color="#97ff16"/><stop offset=".743" stop-color="#94ff17"/><stop offset=".792" stop-color="#81ff1e"/><stop offset=".824" stop-color="#63ff2e"/><stop offset=".911" stop-color="#01ff61"/><stop offset=".954" stop-color="#00ff6e"/><stop offset="1" stop-color="#00ff6e"/></linearGradient><linearGradient id="a27"><stop offset="0" stop-color="#00ff6e"/><stop offset=".073" stop-color="#00ff6e"/><stop offset=".203" stop-color="#00ff80"/><stop offset=".343" stop-color="#00ff81"/><stop offset=".381" stop-color="#00ff7d"/><stop offset=".43" stop-color="#00ff6e"/><stop offset=".554" stop-color="#00ff6e"/><stop offset=".565" stop-color="#00ff64"/><stop offset=".592" stop-color="#34ff46"/><stop offset=".614" stop-color="#51ff37"/><stop offset=".641" stop-color="#61ff2f"/><stop offset=".678" stop-color="#64ff2d"/><stop offset=".743" stop-color="#62ff2e"/><stop offset=".786" stop-color="#57ff34"/><stop offset=".824" stop-color="#3fff40"/><stop offset=".895" stop-color="#01ff61"/><stop offset=".938" stop-color="#00ff6e"/><stop offset="1" stop-color="#00ff6e"/></linearGradient><linearGradient id="a28"><stop offset="0" stop-color="#00ff6e"/><stop offset=".354" stop-color="#00ff71"/><stop offset=".565" stop-color="#00ff6e"/><stop offset=".581" stop-color="#0f6"/><stop offset=".624" stop-color="#27ff4d"/><stop offset=".678" stop-color="#2fff49"/><stop offset=".786" stop-color="#28ff4c"/><stop offset=".873" stop-color="#00ff63"/><stop offset=".922" stop-color="#00ff6e"/><stop offset="1" stop-color="#00ff6e"/></linearGradient><linearGradient id="a29"><stop offset="0" stop-color="#00ff6e"/><stop offset=".592" stop-color="#00ff6e"/><stop offset=".635" stop-color="#00ff64"/><stop offset=".678" stop-color="#00ff62"/><stop offset=".786" stop-color="#00ff64"/><stop offset=".884" stop-color="#00ff6e"/><stop offset="1" stop-color="#00ff6e"/></linearGradient><linearGradient id="a30"><stop offset="0" stop-color="#00ff6e"/><stop offset=".322" stop-color="#00ff62"/><stop offset=".365" stop-color="#00ff64"/><stop offset=".408" stop-color="#00ff6e"/><stop offset="1" stop-color="#00ff6e"/></linearGradient><linearGradient id="a31"><stop offset="0" stop-color="#00ff6e"/><stop offset=".068" stop-color="#00ff6e"/><stop offset=".111" stop-color="#00ff62"/><stop offset=".203" stop-color="#28ff4d"/><stop offset=".322" stop-color="#2fff49"/><stop offset=".376" stop-color="#27ff4d"/><stop offset=".419" stop-color="#0f6"/><stop offset=".435" stop-color="#00ff6e"/><stop offset=".646" stop-color="#00ff71"/><stop offset="1" stop-color="#00ff6e"/></linearGradient><linearGradient id="a32"><stop offset="0" stop-color="#00ff6e"/><stop offset=".046" stop-color="#00ff6e"/><stop offset=".078" stop-color="#00ff63"/><stop offset=".17" stop-color="#40ff40"/><stop offset=".214" stop-color="#58ff33"/><stop offset=".257" stop-color="#62ff2e"/><stop offset=".322" stop-color="#64ff2d"/><stop offset=".359" stop-color="#61ff2f"/><stop offset=".386" stop-color="#51ff37"/><stop offset=".408" stop-color="#34ff46"/><stop offset=".435" stop-color="#00ff64"/><stop offset=".446" stop-color="#00ff6e"/><stop offset=".57" stop-color="#00ff6e"/><stop offset=".619" stop-color="#00ff7d"/><stop offset=".657" stop-color="#00ff81"/><stop offset=".781" stop-color="#00ff7f"/><stop offset=".889" stop-color="#00ff6e"/><stop offset="1" stop-color="#00ff6e"/></linearGradient><linearGradient id="a33"><stop offset="0" stop-color="#00ff6e"/><stop offset=".03" stop-color="#00ff6e"/><stop offset=".068" stop-color="#03ff60"/><stop offset=".197" stop-color="#77ff23"/><stop offset=".224" stop-color="#88ff1b"/><stop offset=".262" stop-color="#94ff17"/><stop offset=".322" stop-color="#97ff16"/><stop offset=".365" stop-color="#92ff18"/><stop offset=".392" stop-color="#7eff1f"/><stop offset=".419" stop-color="#4cff39"/><stop offset=".446" stop-color="#00ff62"/><stop offset=".457" stop-color="#00ff6e"/><stop offset=".559" stop-color="#00ff6e"/><stop offset=".614" stop-color="#00ff90"/><stop offset=".662" stop-color="#00ff9a"/><stop offset=".776" stop-color="#00ff95"/><stop offset=".911" stop-color="#00ff6e"/><stop offset="1" stop-color="#00ff6e"/></linearGradient><linearGradient id="a34"><stop offset="0" stop-color="#00ff6e"/><stop offset=".024" stop-color="#00ff6d"/><stop offset=".051" stop-color="#00ff62"/><stop offset=".122" stop-color="#41ff3f"/><stop offset=".176" stop-color="#7fff1f"/><stop offset=".241" stop-color="#b6ff0a"/><stop offset=".273" stop-color="#c2ff06"/><stop offset=".322" stop-color="#c5ff05"/><stop offset=".365" stop-color="#bfff07"/><stop offset=".397" stop-color="#a1ff12"/><stop offset=".419" stop-color="#79ff22"/><stop offset=".457" stop-color="#00ff65"/><stop offset=".468" stop-color="#00ff6e"/><stop offset=".549" stop-color="#00ff6e"/><stop offset=".619" stop-color="#00ffb4"/><stop offset=".641" stop-color="#00ffbf"/><stop offset=".668" stop-color="#00ffc2"/><stop offset=".749" stop-color="#0fb"/><stop offset=".884" stop-color="#00ff7a"/><stop offset=".916" stop-color="#00ff70"/><stop offset="1" stop-color="#00ff6e"/></linearGradient><linearGradient id="a35"><stop offset="0" stop-color="#00ff6e"/><stop offset=".014" stop-color="#00ff6e"/><stop offset=".041" stop-color="#00ff62"/><stop offset=".057" stop-color="#0dff5b"/><stop offset=".116" stop-color="#48ff3b"/><stop offset=".159" stop-color="#7fff1f"/><stop offset=".23" stop-color="#d0ff01"/><stop offset=".251" stop-color="#e3ff00"/><stop offset=".284" stop-color="#f2ff00"/><stop offset=".322" stop-color="#f5ff00"/><stop offset=".365" stop-color="#edff00"/><stop offset=".386" stop-color="#d9ff00"/><stop offset=".403" stop-color="#c0ff06"/><stop offset=".43" stop-color="#83ff1d"/><stop offset=".446" stop-color="#47ff3c"/><stop offset=".462" stop-color="#02ff61"/><stop offset=".468" stop-color="#00ff6c"/><stop offset=".473" stop-color="#00ff6e"/><stop offset=".543" stop-color="#00ff70"/><stop offset=".619" stop-color="#00ffe1"/><stop offset=".641" stop-color="#00fff1"/><stop offset=".668" stop-color="#00fff5"/><stop offset=".705" stop-color="#00fff4"/><stop offset=".732" stop-color="#00ffea"/><stop offset=".803" stop-color="#00ffb4"/><stop offset=".9" stop-color="#00ff78"/><stop offset=".932" stop-color="#00ff6e"/><stop offset="1" stop-color="#00ff6e"/></linearGradient><linearGradient id="a36"><stop offset="0" stop-color="#00ff6e"/><stop offset=".035" stop-color="#00ff62"/><stop offset=".078" stop-color="#29ff4c"/><stop offset=".122" stop-color="#5aff32"/><stop offset=".149" stop-color="#7fff1e"/><stop offset=".208" stop-color="#d0ff01"/><stop offset=".246" stop-color="#ff0"/><stop offset=".289" stop-color="#fff000"/><stop offset=".327" stop-color="#ffed00"/><stop offset=".359" stop-color="#fff100"/><stop offset=".386" stop-color="#ff0"/><stop offset=".392" stop-color="#fcff00"/><stop offset=".414" stop-color="#cfff01"/><stop offset=".441" stop-color="#82ff1d"/><stop offset=".468" stop-color="#04ff60"/><stop offset=".473" stop-color="#00ff6c"/><stop offset=".478" stop-color="#00ff6e"/><stop offset=".538" stop-color="#00ff71"/><stop offset=".559" stop-color="#0f9"/><stop offset=".597" stop-color="#00ffeb"/><stop offset=".608" stop-color="#00fffd"/><stop offset=".614" stop-color="#00faff"/><stop offset=".646" stop-color="#00e4ff"/><stop offset=".689" stop-color="#00e1ff"/><stop offset=".716" stop-color="#00e8ff"/><stop offset=".743" stop-color="#0ff"/><stop offset=".808" stop-color="#00ffbc"/><stop offset=".9" stop-color="#00ff7c"/><stop offset=".938" stop-color="#00ff6f"/><stop offset="1" stop-color="#00ff6e"/></linearGradient><linearGradient id="a37"><stop offset="0" stop-color="#00ff6e"/><stop offset=".03" stop-color="#00ff62"/><stop offset=".089" stop-color="#3bff42"/><stop offset=".127" stop-color="#6bff29"/><stop offset=".192" stop-color="#cbff02"/><stop offset=".224" stop-color="#feff00"/><stop offset=".23" stop-color="#ff0"/><stop offset=".284" stop-color="#ffd700"/><stop offset=".327" stop-color="#ffd000"/><stop offset=".37" stop-color="#ffdb00"/><stop offset=".408" stop-color="#ff0"/><stop offset=".424" stop-color="#d5ff00"/><stop offset=".441" stop-color="#9fff13"/><stop offset=".451" stop-color="#74ff24"/><stop offset=".473" stop-color="#02ff61"/><stop offset=".478" stop-color="#00ff6e"/><stop offset=".532" stop-color="#00ff72"/><stop offset=".554" stop-color="#00ffa1"/><stop offset=".581" stop-color="#00ffea"/><stop offset=".592" stop-color="#00fcff"/><stop offset=".608" stop-color="#00e2ff"/><stop offset=".63" stop-color="#0cf"/><stop offset=".651" stop-color="#00c2ff"/><stop offset=".678" stop-color="#00c0ff"/><stop offset=".705" stop-color="#00c3ff"/><stop offset=".722" stop-color="#0cf"/><stop offset=".759" stop-color="#00fffe"/><stop offset=".814" stop-color="#00ffc0"/><stop offset=".905" stop-color="#00ff7d"/><stop offset=".943" stop-color="#00ff6f"/><stop offset="1" stop-color="#00ff6e"/></linearGradient><linearGradient id="a38"><stop offset="0" stop-color="#00ff6c"/><stop offset=".03" stop-color="#04ff60"/><stop offset=".095" stop-color="#47ff3c"/><stop offset=".149" stop-color="#93ff17"/><stop offset=".186" stop-color="#d1ff00"/><stop offset=".214" stop-color="#ff0"/><stop offset=".219" stop-color="#fffe00"/><stop offset=".284" stop-color="#ffbf00"/><stop offset=".327" stop-color="#ffb700"/><stop offset=".354" stop-color="#fb0"/><stop offset=".376" stop-color="#ffc700"/><stop offset=".397" stop-color="#ffde00"/><stop offset=".419" stop-color="#ff0"/><stop offset=".424" stop-color="#f6ff00"/><stop offset=".435" stop-color="#d0ff01"/><stop offset=".457" stop-color="#78ff22"/><stop offset=".478" stop-color="#00ff65"/><stop offset=".484" stop-color="#00ff6e"/><stop offset=".527" stop-color="#00ff70"/><stop offset=".543" stop-color="#00ff97"/><stop offset=".576" stop-color="#00fff9"/><stop offset=".581" stop-color="#00f8ff"/><stop offset=".603" stop-color="#00d0ff"/><stop offset=".624" stop-color="#00b6ff"/><stop offset=".651" stop-color="#00a7ff"/><stop offset=".678" stop-color="#00a5ff"/><stop offset=".705" stop-color="#00a9ff"/><stop offset=".727" stop-color="#00b6ff"/><stop offset=".743" stop-color="#0cf"/><stop offset=".759" stop-color="#00f0ff"/><stop offset=".77" stop-color="#00fffd"/><stop offset=".824" stop-color="#00ffbd"/><stop offset=".911" stop-color="#00ff7d"/><stop offset=".949" stop-color="#00ff6e"/><stop offset="1" stop-color="#00ff6e"/></linearGradient><linearGradient id="a39"><stop offset="0" stop-color="#00ff6a"/><stop offset=".024" stop-color="#02ff61"/><stop offset=".089" stop-color="#46ff3d"/><stop offset=".143" stop-color="#93ff17"/><stop offset=".181" stop-color="#d3ff00"/><stop offset=".203" stop-color="#fcff00"/><stop offset=".208" stop-color="#ff0"/><stop offset=".235" stop-color="#ffe400"/><stop offset=".262" stop-color="#ffbd00"/><stop offset=".278" stop-color="#ffac00"/><stop offset=".3" stop-color="#ffa100"/><stop offset=".327" stop-color="#ff9f00"/><stop offset=".354" stop-color="#ffa400"/><stop offset=".381" stop-color="#ffb700"/><stop offset=".403" stop-color="#ffd100"/><stop offset=".43" stop-color="#ff0"/><stop offset=".441" stop-color="#d7ff00"/><stop offset=".462" stop-color="#76ff23"/><stop offset=".478" stop-color="#10ff59"/><stop offset=".484" stop-color="#00ff6c"/><stop offset=".522" stop-color="#00ff6e"/><stop offset=".538" stop-color="#00ff98"/><stop offset=".565" stop-color="#00fff2"/><stop offset=".57" stop-color="#00fcff"/><stop offset=".592" stop-color="#0cf"/><stop offset=".619" stop-color="#00a6ff"/><stop offset=".646" stop-color="#0092ff"/><stop offset=".678" stop-color="#008dff"/><stop offset=".705" stop-color="#0091ff"/><stop offset=".732" stop-color="#00a5ff"/><stop offset=".749" stop-color="#00beff"/><stop offset=".77" stop-color="#00f7ff"/><stop offset=".776" stop-color="#0ff"/><stop offset=".824" stop-color="#00ffc2"/><stop offset=".916" stop-color="#00ff7c"/><stop offset=".954" stop-color="#00ff6e"/><stop offset="1" stop-color="#00ff6e"/></linearGradient><linearGradient id="a40"><stop offset="0" stop-color="#00ff69"/><stop offset=".019" stop-color="#00ff62"/><stop offset=".089" stop-color="#4aff3b"/><stop offset=".138" stop-color="#91ff18"/><stop offset=".176" stop-color="#d3ff00"/><stop offset=".197" stop-color="#fdff00"/><stop offset=".203" stop-color="#ff0"/><stop offset=".23" stop-color="#ffe200"/><stop offset=".257" stop-color="#ffb000"/><stop offset=".273" stop-color="#ff9b00"/><stop offset=".3" stop-color="#f80"/><stop offset=".327" stop-color="#ff8500"/><stop offset=".354" stop-color="#ff8c00"/><stop offset=".381" stop-color="#ffa300"/><stop offset=".408" stop-color="#ffc800"/><stop offset=".435" stop-color="#ff0"/><stop offset=".441" stop-color="#f2ff00"/><stop offset=".446" stop-color="#daff00"/><stop offset=".462" stop-color="#8dff19"/><stop offset=".468" stop-color="#6eff27"/><stop offset=".484" stop-color="#00ff62"/><stop offset=".489" stop-color="#00ff6e"/><stop offset=".516" stop-color="#00ff6e"/><stop offset=".522" stop-color="#00ff75"/><stop offset=".538" stop-color="#00ffa7"/><stop offset=".559" stop-color="#00fff7"/><stop offset=".565" stop-color="#00f7ff"/><stop offset=".592" stop-color="#00b9ff"/><stop offset=".619" stop-color="#0092ff"/><stop offset=".651" stop-color="#07f"/><stop offset=".678" stop-color="#0072ff"/><stop offset=".711" stop-color="#007cff"/><stop offset=".738" stop-color="#0097ff"/><stop offset=".754" stop-color="#00b4ff"/><stop offset=".776" stop-color="#00f8ff"/><stop offset=".781" stop-color="#00fffe"/><stop offset=".83" stop-color="#00ffc1"/><stop offset=".922" stop-color="#00ff7b"/><stop offset=".954" stop-color="#00ff6f"/><stop offset="1" stop-color="#00ff6e"/></linearGradient><linearGradient id="a41"><stop offset="0" stop-color="#00ff68"/><stop offset=".019" stop-color="#01ff61"/><stop offset=".089" stop-color="#4dff39"/><stop offset=".138" stop-color="#96ff16"/><stop offset=".17" stop-color="#d1ff00"/><stop offset=".192" stop-color="#fdff00"/><stop offset=".197" stop-color="#ff0"/><stop offset=".224" stop-color="#ffe100"/><stop offset=".251" stop-color="#ffa500"/><stop offset=".273" stop-color="#ff8500"/><stop offset=".3" stop-color="#ff6f00"/><stop offset=".327" stop-color="#ff6a00"/><stop offset=".354" stop-color="#ff7300"/><stop offset=".381" stop-color="#ff8f00"/><stop offset=".414" stop-color="#ffc100"/><stop offset=".441" stop-color="#fffd00"/><stop offset=".446" stop-color="#f2ff00"/><stop offset=".451" stop-color="#d8ff00"/><stop offset=".468" stop-color="#85ff1c"/><stop offset=".484" stop-color="#12ff58"/><stop offset=".489" stop-color="#00ff6d"/><stop offset=".516" stop-color="#00ff6f"/><stop offset=".532" stop-color="#00ffa2"/><stop offset=".554" stop-color="#00fff7"/><stop offset=".559" stop-color="#00f6ff"/><stop offset=".586" stop-color="#00b3ff"/><stop offset=".619" stop-color="#007eff"/><stop offset=".651" stop-color="#005dff"/><stop offset=".678" stop-color="#0057ff"/><stop offset=".705" stop-color="#0061ff"/><stop offset=".738" stop-color="#0084ff"/><stop offset=".759" stop-color="#00aeff"/><stop offset=".776" stop-color="#00eaff"/><stop offset=".781" stop-color="#00faff"/><stop offset=".786" stop-color="#00fffc"/><stop offset=".835" stop-color="#00ffc0"/><stop offset=".922" stop-color="#00ff7c"/><stop offset=".959" stop-color="#00ff6e"/><stop offset="1" stop-color="#00ff6e"/></linearGradient><linearGradient id="a42"><stop offset="0" stop-color="#00ff68"/><stop offset=".019" stop-color="#03ff60"/><stop offset=".089" stop-color="#50ff37"/><stop offset=".132" stop-color="#92ff18"/><stop offset=".165" stop-color="#cdff02"/><stop offset=".186" stop-color="#faff00"/><stop offset=".192" stop-color="#ff0"/><stop offset=".224" stop-color="#ffd900"/><stop offset=".246" stop-color="#ff9d00"/><stop offset=".268" stop-color="#ff7800"/><stop offset=".3" stop-color="#ff5900"/><stop offset=".327" stop-color="#ff5200"/><stop offset=".354" stop-color="#ff5c00"/><stop offset=".381" stop-color="#ff7b00"/><stop offset=".419" stop-color="#ffbd00"/><stop offset=".446" stop-color="#ff0"/><stop offset=".451" stop-color="#edff00"/><stop offset=".457" stop-color="#d1ff00"/><stop offset=".473" stop-color="#75ff24"/><stop offset=".489" stop-color="#00ff65"/><stop offset=".495" stop-color="#00ff6e"/><stop offset=".511" stop-color="#00ff6e"/><stop offset=".516" stop-color="#00ff75"/><stop offset=".532" stop-color="#00ffb0"/><stop offset=".549" stop-color="#00fff3"/><stop offset=".554" stop-color="#00f7ff"/><stop offset=".581" stop-color="#00afff"/><stop offset=".619" stop-color="#006aff"/><stop offset=".651" stop-color="#0046ff"/><stop offset=".678" stop-color="#003eff"/><stop offset=".711" stop-color="#004fff"/><stop offset=".743" stop-color="#007aff"/><stop offset=".765" stop-color="#0af"/><stop offset=".781" stop-color="#00f2ff"/><stop offset=".786" stop-color="#00fdff"/><stop offset=".835" stop-color="#00ffc2"/><stop offset=".922" stop-color="#00ff7e"/><stop offset=".959" stop-color="#00ff6e"/><stop offset="1" stop-color="#00ff6e"/></linearGradient><linearGradient id="a43"><stop offset="0" stop-color="#00ff67"/><stop offset=".019" stop-color="#04ff5f"/><stop offset=".089" stop-color="#52ff36"/><stop offset=".132" stop-color="#95ff16"/><stop offset=".165" stop-color="#d2ff00"/><stop offset=".186" stop-color="#ff0"/><stop offset=".219" stop-color="#ffdc00"/><stop offset=".241" stop-color="#ff9800"/><stop offset=".262" stop-color="#ff6e00"/><stop offset=".295" stop-color="#ff4a00"/><stop offset=".327" stop-color="#ff3c00"/><stop offset=".354" stop-color="#ff4800"/><stop offset=".381" stop-color="#ff6800"/><stop offset=".419" stop-color="#ffaf00"/><stop offset=".451" stop-color="#ff0"/><stop offset=".462" stop-color="#c6ff04"/><stop offset=".473" stop-color="#87ff1c"/><stop offset=".489" stop-color="#08ff5e"/><stop offset=".495" stop-color="#00ff6e"/><stop offset=".511" stop-color="#00ff6e"/><stop offset=".516" stop-color="#00ff7c"/><stop offset=".543" stop-color="#00ffec"/><stop offset=".549" stop-color="#00fcff"/><stop offset=".576" stop-color="#00aeff"/><stop offset=".619" stop-color="#0056ff"/><stop offset=".646" stop-color="#0035ff"/><stop offset=".673" stop-color="#0028ff"/><stop offset=".705" stop-color="#0037ff"/><stop offset=".727" stop-color="#004fff"/><stop offset=".743" stop-color="#0068ff"/><stop offset=".765" stop-color="#09f"/><stop offset=".77" stop-color="#00abff"/><stop offset=".781" stop-color="#00e4ff"/><stop offset=".786" stop-color="#00f9ff"/><stop offset=".792" stop-color="#00fffd"/><stop offset=".841" stop-color="#00ffbf"/><stop offset=".927" stop-color="#00ff7b"/><stop offset=".959" stop-color="#00ff6e"/><stop offset="1" stop-color="#00ff6e"/></linearGradient><linearGradient id="a44"><stop offset="0" stop-color="#00ff67"/><stop offset=".014" stop-color="#00ff62"/><stop offset=".084" stop-color="#4dff39"/><stop offset=".127" stop-color="#8fff19"/><stop offset=".159" stop-color="#ccff02"/><stop offset=".181" stop-color="#fbff00"/><stop offset=".186" stop-color="#ff0"/><stop offset=".214" stop-color="#ffe000"/><stop offset=".219" stop-color="#ffd300"/><stop offset=".235" stop-color="#ff9500"/><stop offset=".246" stop-color="#ff7a00"/><stop offset=".257" stop-color="#ff6700"/><stop offset=".3" stop-color="#ff3400"/><stop offset=".327" stop-color="#ff2900"/><stop offset=".354" stop-color="#ff3700"/><stop offset=".381" stop-color="#ff5700"/><stop offset=".419" stop-color="#ffa200"/><stop offset=".451" stop-color="#fff800"/><stop offset=".457" stop-color="#f6ff00"/><stop offset=".462" stop-color="#d6ff00"/><stop offset=".478" stop-color="#6fff27"/><stop offset=".489" stop-color="#15ff57"/><stop offset=".495" stop-color="#00ff6e"/><stop offset=".511" stop-color="#00ff6f"/><stop offset=".522" stop-color="#0f9"/><stop offset=".543" stop-color="#00fff9"/><stop offset=".549" stop-color="#00f0ff"/><stop offset=".576" stop-color="#00a1ff"/><stop offset=".614" stop-color="#004eff"/><stop offset=".646" stop-color="#0023ff"/><stop offset=".673" stop-color="#0014ff"/><stop offset=".689" stop-color="#0018ff"/><stop offset=".705" stop-color="#0025ff"/><stop offset=".727" stop-color="#003fff"/><stop offset=".749" stop-color="#0063ff"/><stop offset=".759" stop-color="#007aff"/><stop offset=".77" stop-color="#009aff"/><stop offset=".776" stop-color="#00b1ff"/><stop offset=".786" stop-color="#00f3ff"/><stop offset=".792" stop-color="#00feff"/><stop offset=".841" stop-color="#00ffc1"/><stop offset=".927" stop-color="#00ff7c"/><stop offset=".965" stop-color="#00ff6e"/><stop offset="1" stop-color="#00ff6e"/></linearGradient><linearGradient id="a45"><stop offset="0" stop-color="#0f6"/><stop offset=".014" stop-color="#01ff61"/><stop offset=".089" stop-color="#55ff34"/><stop offset=".132" stop-color="#9aff14"/><stop offset=".159" stop-color="#d0ff01"/><stop offset=".181" stop-color="#ff0"/><stop offset=".214" stop-color="#ffdb00"/><stop offset=".23" stop-color="#ff9600"/><stop offset=".235" stop-color="#ff8400"/><stop offset=".251" stop-color="#ff6200"/><stop offset=".295" stop-color="#ff2a00"/><stop offset=".311" stop-color="#ff1d00"/><stop offset=".327" stop-color="#ff1800"/><stop offset=".359" stop-color="#ff2c00"/><stop offset=".392" stop-color="#ff5a00"/><stop offset=".43" stop-color="#ffb000"/><stop offset=".457" stop-color="#ff0"/><stop offset=".468" stop-color="#c4ff05"/><stop offset=".478" stop-color="#7eff1f"/><stop offset=".489" stop-color="#21ff50"/><stop offset=".495" stop-color="#00ff6a"/><stop offset=".511" stop-color="#00ff74"/><stop offset=".538" stop-color="#00ffed"/><stop offset=".543" stop-color="#00faff"/><stop offset=".57" stop-color="#00a4ff"/><stop offset=".597" stop-color="#005fff"/><stop offset=".614" stop-color="#003eff"/><stop offset=".646" stop-color="#0013ff"/><stop offset=".673" stop-color="#0003ff"/><stop offset=".689" stop-color="#0008ff"/><stop offset=".711" stop-color="#001bff"/><stop offset=".732" stop-color="#0039ff"/><stop offset=".754" stop-color="#0060ff"/><stop offset=".765" stop-color="#007aff"/><stop offset=".776" stop-color="#00a0ff"/><stop offset=".781" stop-color="#00c0ff"/><stop offset=".786" stop-color="#00e9ff"/><stop offset=".792" stop-color="#00fbff"/><stop offset=".841" stop-color="#00ffc2"/><stop offset=".927" stop-color="#00ff7c"/><stop offset=".965" stop-color="#00ff6e"/><stop offset="1" stop-color="#00ff6e"/></linearGradient><linearGradient id="a46"><stop offset="0" stop-color="#0f6"/><stop offset=".014" stop-color="#01ff61"/><stop offset=".084" stop-color="#4fff38"/><stop offset=".127" stop-color="#93ff17"/><stop offset=".159" stop-color="#d3ff00"/><stop offset=".181" stop-color="#ff0"/><stop offset=".208" stop-color="#ffe000"/><stop offset=".214" stop-color="#ffd500"/><stop offset=".224" stop-color="#ff9b00"/><stop offset=".23" stop-color="#ff8500"/><stop offset=".251" stop-color="#ff5700"/><stop offset=".295" stop-color="#ff1c00"/><stop offset=".311" stop-color="#ff0f00"/><stop offset=".327" stop-color="#ff0b00"/><stop offset=".354" stop-color="#ff1a00"/><stop offset=".386" stop-color="#ff4300"/><stop offset=".419" stop-color="#f80"/><stop offset=".441" stop-color="#ffc300"/><stop offset=".457" stop-color="#fff800"/><stop offset=".462" stop-color="#f3ff00"/><stop offset=".468" stop-color="#d1ff00"/><stop offset=".478" stop-color="#89ff1b"/><stop offset=".495" stop-color="#00ff65"/><stop offset=".5" stop-color="#00ff6e"/><stop offset=".505" stop-color="#00ff6e"/><stop offset=".511" stop-color="#00ff79"/><stop offset=".538" stop-color="#00fff7"/><stop offset=".543" stop-color="#00f1ff"/><stop offset=".57" stop-color="#09f"/><stop offset=".603" stop-color="#0045ff"/><stop offset=".63" stop-color="#0017ff"/><stop offset=".651" stop-color="#00f"/><stop offset=".657" stop-color="#0000fc"/><stop offset=".678" stop-color="#0000f6"/><stop offset=".7" stop-color="#0002ff"/><stop offset=".722" stop-color="#001cff"/><stop offset=".743" stop-color="#003fff"/><stop offset=".759" stop-color="#0060ff"/><stop offset=".77" stop-color="#007dff"/><stop offset=".776" stop-color="#0091ff"/><stop offset=".781" stop-color="#00aeff"/><stop offset=".786" stop-color="#00dcff"/><stop offset=".792" stop-color="#00f9ff"/><stop offset=".797" stop-color="#00fffc"/><stop offset=".841" stop-color="#00ffc3"/><stop offset=".927" stop-color="#00ff7d"/><stop offset=".965" stop-color="#00ff6e"/><stop offset="1" stop-color="#00ff6e"/></linearGradient><linearGradient id="a47"><stop offset="0" stop-color="#0f6"/><stop offset=".014" stop-color="#02ff61"/><stop offset=".084" stop-color="#50ff37"/><stop offset=".127" stop-color="#94ff17"/><stop offset=".154" stop-color="#c9ff03"/><stop offset=".176" stop-color="#fbff00"/><stop offset=".181" stop-color="#ff0"/><stop offset=".208" stop-color="#ffde00"/><stop offset=".214" stop-color="#ffca00"/><stop offset=".224" stop-color="#ff8b00"/><stop offset=".23" stop-color="#ff7800"/><stop offset=".246" stop-color="#ff5700"/><stop offset=".295" stop-color="#f10"/><stop offset=".311" stop-color="#ff0400"/><stop offset=".327" stop-color="#ff0100"/><stop offset=".359" stop-color="#ff1300"/><stop offset=".392" stop-color="#ff4000"/><stop offset=".419" stop-color="#ff7d00"/><stop offset=".462" stop-color="#ff0"/><stop offset=".468" stop-color="#dcff00"/><stop offset=".478" stop-color="#92ff17"/><stop offset=".484" stop-color="#67ff2b"/><stop offset=".495" stop-color="#03ff60"/><stop offset=".5" stop-color="#00ff6e"/><stop offset=".505" stop-color="#00ff6e"/><stop offset=".511" stop-color="#00ff7d"/><stop offset=".538" stop-color="#00feff"/><stop offset=".559" stop-color="#00b0ff"/><stop offset=".592" stop-color="#0051ff"/><stop offset=".614" stop-color="#0024ff"/><stop offset=".641" stop-color="#0000fe"/><stop offset=".673" stop-color="#0000ed"/><stop offset=".689" stop-color="#0000f0"/><stop offset=".711" stop-color="#0001ff"/><stop offset=".727" stop-color="#0017ff"/><stop offset=".754" stop-color="#0049ff"/><stop offset=".77" stop-color="#0071ff"/><stop offset=".781" stop-color="#009eff"/><stop offset=".792" stop-color="#00f7ff"/><stop offset=".797" stop-color="#00fffe"/><stop offset=".841" stop-color="#00ffc4"/><stop offset=".927" stop-color="#00ff7d"/><stop offset=".965" stop-color="#00ff6e"/><stop offset="1" stop-color="#00ff6e"/></linearGradient><linearGradient id="a48"><stop offset="0" stop-color="#0f6"/><stop offset=".014" stop-color="#02ff61"/><stop offset=".084" stop-color="#51ff37"/><stop offset=".127" stop-color="#95ff16"/><stop offset=".154" stop-color="#cbff02"/><stop offset=".176" stop-color="#feff00"/><stop offset=".181" stop-color="#fffe00"/><stop offset=".208" stop-color="#ffdb00"/><stop offset=".214" stop-color="#ffbd00"/><stop offset=".219" stop-color="#ff9700"/><stop offset=".224" stop-color="#ff7d00"/><stop offset=".235" stop-color="#ff6200"/><stop offset=".262" stop-color="#f30"/><stop offset=".284" stop-color="#ff1300"/><stop offset=".3" stop-color="#ff0300"/><stop offset=".332" stop-color="#f80000"/><stop offset=".349" stop-color="#ff0100"/><stop offset=".359" stop-color="#ff0900"/><stop offset=".381" stop-color="#ff2400"/><stop offset=".397" stop-color="#ff3f00"/><stop offset=".424" stop-color="#ff8100"/><stop offset=".446" stop-color="#ffc400"/><stop offset=".462" stop-color="#fffd00"/><stop offset=".468" stop-color="#e6ff00"/><stop offset=".473" stop-color="#c1ff06"/><stop offset=".484" stop-color="#70ff26"/><stop offset=".495" stop-color="#0aff5d"/><stop offset=".5" stop-color="#00ff6e"/><stop offset=".505" stop-color="#00ff6e"/><stop offset=".511" stop-color="#00ff82"/><stop offset=".532" stop-color="#0fe"/><stop offset=".538" stop-color="#00f7ff"/><stop offset=".554" stop-color="#00baff"/><stop offset=".586" stop-color="#0054ff"/><stop offset=".603" stop-color="#002dff"/><stop offset=".624" stop-color="#0008ff"/><stop offset=".63" stop-color="#0001ff"/><stop offset=".651" stop-color="#0000ed"/><stop offset=".673" stop-color="#0000e6"/><stop offset=".695" stop-color="#0000eb"/><stop offset=".716" stop-color="#0000fd"/><stop offset=".738" stop-color="#001fff"/><stop offset=".77" stop-color="#0067ff"/><stop offset=".781" stop-color="#0090ff"/><stop offset=".786" stop-color="#0bf"/><stop offset=".792" stop-color="#00f2ff"/><stop offset=".797" stop-color="#0ff"/><stop offset=".846" stop-color="#00ffbf"/><stop offset=".927" stop-color="#00ff7d"/><stop offset=".965" stop-color="#00ff6e"/><stop offset="1" stop-color="#00ff6e"/></linearGradient><linearGradient id="a49"><stop offset="0" stop-color="#0f6"/><stop offset=".014" stop-color="#02ff60"/><stop offset=".084" stop-color="#51ff37"/><stop offset=".127" stop-color="#96ff16"/><stop offset=".154" stop-color="#cdff02"/><stop offset=".176" stop-color="#ff0"/><stop offset=".181" stop-color="#fffc00"/><stop offset=".208" stop-color="#ffd800"/><stop offset=".219" stop-color="#f80"/><stop offset=".23" stop-color="#f60"/><stop offset=".273" stop-color="#ff1800"/><stop offset=".289" stop-color="#ff0400"/><stop offset=".3" stop-color="#fa0000"/><stop offset=".327" stop-color="#ef0000"/><stop offset=".359" stop-color="#ff0100"/><stop offset=".381" stop-color="#ff1a00"/><stop offset=".403" stop-color="#ff4000"/><stop offset=".419" stop-color="#ff6800"/><stop offset=".446" stop-color="#ffbd00"/><stop offset=".462" stop-color="#fff800"/><stop offset=".468" stop-color="#efff00"/><stop offset=".473" stop-color="#c9ff03"/><stop offset=".484" stop-color="#78ff22"/><stop offset=".495" stop-color="#0fff59"/><stop offset=".5" stop-color="#00ff6e"/><stop offset=".505" stop-color="#00ff6e"/><stop offset=".516" stop-color="#00ff9f"/><stop offset=".532" stop-color="#00fff4"/><stop offset=".538" stop-color="#00f2ff"/><stop offset=".554" stop-color="#00b4ff"/><stop offset=".581" stop-color="#0059ff"/><stop offset=".597" stop-color="#002eff"/><stop offset=".619" stop-color="#0006ff"/><stop offset=".624" stop-color="#0000fe"/><stop offset=".646" stop-color="#0000ea"/><stop offset=".673" stop-color="#0000de"/><stop offset=".7" stop-color="#0000e8"/><stop offset=".722" stop-color="#0000fb"/><stop offset=".727" stop-color="#0003ff"/><stop offset=".743" stop-color="#0020ff"/><stop offset=".765" stop-color="#0050ff"/><stop offset=".776" stop-color="#006fff"/><stop offset=".781" stop-color="#0085ff"/><stop offset=".786" stop-color="#0af"/><stop offset=".792" stop-color="#00ecff"/><stop offset=".797" stop-color="#00fdff"/><stop offset=".846" stop-color="#00ffc0"/><stop offset=".927" stop-color="#00ff7e"/><stop offset=".965" stop-color="#00ff6e"/><stop offset="1" stop-color="#00ff6e"/></linearGradient><linearGradient id="a50"><stop offset="0" stop-color="#00ff65"/><stop offset=".014" stop-color="#03ff60"/><stop offset=".084" stop-color="#51ff37"/><stop offset=".127" stop-color="#97ff16"/><stop offset=".154" stop-color="#ceff01"/><stop offset=".176" stop-color="#ff0"/><stop offset=".181" stop-color="#fffb00"/><stop offset=".203" stop-color="#ffe100"/><stop offset=".208" stop-color="#ffd300"/><stop offset=".214" stop-color="#ffa000"/><stop offset=".219" stop-color="#ff7d00"/><stop offset=".23" stop-color="#ff5f00"/><stop offset=".278" stop-color="#ff0800"/><stop offset=".284" stop-color="#ff0200"/><stop offset=".3" stop-color="#f20000"/><stop offset=".327" stop-color="#e60000"/><stop offset=".365" stop-color="#fe0000"/><stop offset=".381" stop-color="#ff1200"/><stop offset=".403" stop-color="#ff3700"/><stop offset=".419" stop-color="#ff5f00"/><stop offset=".441" stop-color="#ffa400"/><stop offset=".462" stop-color="#fff300"/><stop offset=".468" stop-color="#f6ff00"/><stop offset=".473" stop-color="#cfff01"/><stop offset=".484" stop-color="#7fff1f"/><stop offset=".495" stop-color="#14ff57"/><stop offset=".5" stop-color="#00ff6e"/><stop offset=".505" stop-color="#00ff6e"/><stop offset=".532" stop-color="#00fff9"/><stop offset=".538" stop-color="#00edff"/><stop offset=".554" stop-color="#00aeff"/><stop offset=".581" stop-color="#004fff"/><stop offset=".597" stop-color="#0025ff"/><stop offset=".614" stop-color="#0006ff"/><stop offset=".619" stop-color="#0000fd"/><stop offset=".646" stop-color="#0000e3"/><stop offset=".673" stop-color="#0000d7"/><stop offset=".7" stop-color="#0000e1"/><stop offset=".727" stop-color="#0000fa"/><stop offset=".732" stop-color="#0003ff"/><stop offset=".743" stop-color="#0017ff"/><stop offset=".765" stop-color="#0048ff"/><stop offset=".776" stop-color="#0067ff"/><stop offset=".781" stop-color="#007bff"/><stop offset=".786" stop-color="#009dff"/><stop offset=".792" stop-color="#00e6ff"/><stop offset=".797" stop-color="#00fdff"/><stop offset=".846" stop-color="#00ffc0"/><stop offset=".927" stop-color="#00ff7e"/><stop offset=".965" stop-color="#00ff6e"/><stop offset="1" stop-color="#00ff6e"/></linearGradient><linearGradient id="a51"><stop offset="0" stop-color="#00ff65"/><stop offset=".019" stop-color="#08ff5e"/><stop offset=".089" stop-color="#59ff32"/><stop offset=".127" stop-color="#97ff15"/><stop offset=".154" stop-color="#cfff01"/><stop offset=".176" stop-color="#ff0"/><stop offset=".203" stop-color="#ffe000"/><stop offset=".208" stop-color="#fc0"/><stop offset=".214" stop-color="#ff9200"/><stop offset=".219" stop-color="#ff7500"/><stop offset=".235" stop-color="#ff4e00"/><stop offset=".262" stop-color="#ff1900"/><stop offset=".278" stop-color="#ff0100"/><stop offset=".3" stop-color="#ea0000"/><stop offset=".327" stop-color="#d00"/><stop offset=".37" stop-color="#fd0000"/><stop offset=".386" stop-color="#ff1300"/><stop offset=".403" stop-color="#ff2f00"/><stop offset=".419" stop-color="#ff5700"/><stop offset=".435" stop-color="#ff8a00"/><stop offset=".468" stop-color="#fdff00"/><stop offset=".473" stop-color="#d5ff00"/><stop offset=".484" stop-color="#83ff1d"/><stop offset=".495" stop-color="#18ff55"/><stop offset=".5" stop-color="#00ff6e"/><stop offset=".505" stop-color="#00ff70"/><stop offset=".532" stop-color="#00fffd"/><stop offset=".538" stop-color="#00e9ff"/><stop offset=".565" stop-color="#007fff"/><stop offset=".581" stop-color="#0047ff"/><stop offset=".597" stop-color="#001dff"/><stop offset=".614" stop-color="#0000fd"/><stop offset=".641" stop-color="#0000e1"/><stop offset=".673" stop-color="#0000cf"/><stop offset=".7" stop-color="#0000db"/><stop offset=".732" stop-color="#0000fa"/><stop offset=".738" stop-color="#0004ff"/><stop offset=".754" stop-color="#0026ff"/><stop offset=".77" stop-color="#0050ff"/><stop offset=".781" stop-color="#0074ff"/><stop offset=".786" stop-color="#0091ff"/><stop offset=".792" stop-color="#00e0ff"/><stop offset=".797" stop-color="#00fcff"/><stop offset=".846" stop-color="#00ffc0"/><stop offset=".927" stop-color="#00ff7e"/><stop offset=".965" stop-color="#00ff6e"/><stop offset="1" stop-color="#00ff6e"/></linearGradient><linearGradient id="a52"><stop offset="0" stop-color="#00ff65"/><stop offset=".019" stop-color="#08ff5e"/><stop offset=".089" stop-color="#5aff32"/><stop offset=".127" stop-color="#98ff15"/><stop offset=".154" stop-color="#d0ff01"/><stop offset=".176" stop-color="#ff0"/><stop offset=".203" stop-color="#ffdf00"/><stop offset=".208" stop-color="#ffc500"/><stop offset=".214" stop-color="#ff8600"/><stop offset=".219" stop-color="#ff6f00"/><stop offset=".251" stop-color="#ff2700"/><stop offset=".273" stop-color="#ff0100"/><stop offset=".3" stop-color="#e30000"/><stop offset=".327" stop-color="#d30000"/><stop offset=".349" stop-color="#e10000"/><stop offset=".376" stop-color="#fc0000"/><stop offset=".386" stop-color="#ff0c00"/><stop offset=".408" stop-color="#ff3400"/><stop offset=".424" stop-color="#ff5f00"/><stop offset=".468" stop-color="#ff0"/><stop offset=".473" stop-color="#d9ff00"/><stop offset=".484" stop-color="#86ff1c"/><stop offset=".495" stop-color="#1bff53"/><stop offset=".5" stop-color="#00ff6e"/><stop offset=".505" stop-color="#00ff71"/><stop offset=".532" stop-color="#00feff"/><stop offset=".549" stop-color="#00b9ff"/><stop offset=".576" stop-color="#0051ff"/><stop offset=".592" stop-color="#02f"/><stop offset=".608" stop-color="#00f"/><stop offset=".641" stop-color="#0000db"/><stop offset=".673" stop-color="#0000c7"/><stop offset=".705" stop-color="#0000d8"/><stop offset=".738" stop-color="#0000fc"/><stop offset=".743" stop-color="#0007ff"/><stop offset=".759" stop-color="#002dff"/><stop offset=".781" stop-color="#006eff"/><stop offset=".786" stop-color="#0089ff"/><stop offset=".792" stop-color="#00d9ff"/><stop offset=".797" stop-color="#00fbff"/><stop offset=".846" stop-color="#00ffc0"/><stop offset=".932" stop-color="#00ff7a"/><stop offset=".965" stop-color="#00ff6e"/><stop offset="1" stop-color="#00ff6e"/></linearGradient><linearGradient id="a53"><stop offset="0" stop-color="#00ff65"/><stop offset=".014" stop-color="#03ff60"/><stop offset=".084" stop-color="#52ff36"/><stop offset=".127" stop-color="#98ff15"/><stop offset=".154" stop-color="#d0ff01"/><stop offset=".176" stop-color="#ff0"/><stop offset=".203" stop-color="#ffde00"/><stop offset=".208" stop-color="#ffbe00"/><stop offset=".214" stop-color="#ff7e00"/><stop offset=".219" stop-color="#ff6a00"/><stop offset=".257" stop-color="#ff1600"/><stop offset=".268" stop-color="#ff0300"/><stop offset=".273" stop-color="#fa0000"/><stop offset=".3" stop-color="#db0000"/><stop offset=".327" stop-color="#c90000"/><stop offset=".354" stop-color="#de0000"/><stop offset=".381" stop-color="#fd0000"/><stop offset=".386" stop-color="#ff0600"/><stop offset=".408" stop-color="#ff2e00"/><stop offset=".424" stop-color="#ff5900"/><stop offset=".441" stop-color="#ff9300"/><stop offset=".468" stop-color="#ff0"/><stop offset=".473" stop-color="#df0"/><stop offset=".484" stop-color="#89ff1b"/><stop offset=".495" stop-color="#1eff52"/><stop offset=".5" stop-color="#00ff6e"/><stop offset=".505" stop-color="#00ff72"/><stop offset=".532" stop-color="#00fbff"/><stop offset=".576" stop-color="#004aff"/><stop offset=".586" stop-color="#0029ff"/><stop offset=".603" stop-color="#0004ff"/><stop offset=".635" stop-color="#0000da"/><stop offset=".673" stop-color="#0000be"/><stop offset=".705" stop-color="#0000d2"/><stop offset=".738" stop-color="#0000f6"/><stop offset=".743" stop-color="#00f"/><stop offset=".754" stop-color="#0018ff"/><stop offset=".77" stop-color="#04f"/><stop offset=".781" stop-color="#0068ff"/><stop offset=".786" stop-color="#0082ff"/><stop offset=".792" stop-color="#00d2ff"/><stop offset=".797" stop-color="#00fbff"/><stop offset=".846" stop-color="#00ffc0"/><stop offset=".932" stop-color="#00ff7a"/><stop offset=".965" stop-color="#00ff6e"/><stop offset="1" stop-color="#00ff6e"/></linearGradient><linearGradient id="a54"><stop offset="0" stop-color="#00ff65"/><stop offset=".014" stop-color="#03ff60"/><stop offset=".084" stop-color="#52ff36"/><stop offset=".127" stop-color="#98ff15"/><stop offset=".154" stop-color="#d0ff00"/><stop offset=".17" stop-color="#f8ff00"/><stop offset=".176" stop-color="#ff0"/><stop offset=".203" stop-color="#fd0"/><stop offset=".208" stop-color="#ffb700"/><stop offset=".214" stop-color="#ff7900"/><stop offset=".224" stop-color="#ff5800"/><stop offset=".257" stop-color="#ff1000"/><stop offset=".268" stop-color="#fc0000"/><stop offset=".3" stop-color="#d30000"/><stop offset=".327" stop-color="#be0000"/><stop offset=".365" stop-color="#e20000"/><stop offset=".386" stop-color="#f00"/><stop offset=".408" stop-color="#ff2800"/><stop offset=".424" stop-color="#ff5400"/><stop offset=".441" stop-color="#ff8f00"/><stop offset=".468" stop-color="#fffe00"/><stop offset=".473" stop-color="#e0ff00"/><stop offset=".484" stop-color="#8bff1a"/><stop offset=".495" stop-color="#1fff51"/><stop offset=".5" stop-color="#00ff6e"/><stop offset=".505" stop-color="#00ff73"/><stop offset=".527" stop-color="#00ffe8"/><stop offset=".532" stop-color="#00f9ff"/><stop offset=".576" stop-color="#0045ff"/><stop offset=".592" stop-color="#0015ff"/><stop offset=".603" stop-color="#0000fd"/><stop offset=".63" stop-color="#0000d9"/><stop offset=".673" stop-color="#0000b4"/><stop offset=".716" stop-color="#0000d6"/><stop offset=".743" stop-color="#0000fa"/><stop offset=".754" stop-color="#0013ff"/><stop offset=".781" stop-color="#0064ff"/><stop offset=".786" stop-color="#007eff"/><stop offset=".792" stop-color="#00cbff"/><stop offset=".797" stop-color="#00fbff"/><stop offset=".846" stop-color="#00ffc0"/><stop offset=".932" stop-color="#00ff7a"/><stop offset=".965" stop-color="#00ff6e"/><stop offset="1" stop-color="#00ff6e"/></linearGradient><linearGradient id="a55"><stop offset="0" stop-color="#00ff65"/><stop offset=".014" stop-color="#03ff60"/><stop offset=".084" stop-color="#52ff36"/><stop offset=".127" stop-color="#98ff15"/><stop offset=".154" stop-color="#d1ff00"/><stop offset=".17" stop-color="#f8ff00"/><stop offset=".176" stop-color="#ff0"/><stop offset=".203" stop-color="#fd0"/><stop offset=".208" stop-color="#ffb000"/><stop offset=".214" stop-color="#ff7500"/><stop offset=".224" stop-color="#f50"/><stop offset=".257" stop-color="#ff0b00"/><stop offset=".262" stop-color="#ff0100"/><stop offset=".3" stop-color="#cb0000"/><stop offset=".322" stop-color="#b30000"/><stop offset=".327" stop-color="#b20000"/><stop offset=".392" stop-color="#ff0400"/><stop offset=".408" stop-color="#ff2300"/><stop offset=".424" stop-color="#ff5000"/><stop offset=".441" stop-color="#ff8b00"/><stop offset=".468" stop-color="#fffd00"/><stop offset=".473" stop-color="#e1ff00"/><stop offset=".484" stop-color="#8cff1a"/><stop offset=".495" stop-color="#20ff51"/><stop offset=".5" stop-color="#00ff6e"/><stop offset=".505" stop-color="#00ff74"/><stop offset=".527" stop-color="#00ffe9"/><stop offset=".532" stop-color="#00f8ff"/><stop offset=".57" stop-color="#0054ff"/><stop offset=".581" stop-color="#002eff"/><stop offset=".597" stop-color="#0004ff"/><stop offset=".63" stop-color="#0000d4"/><stop offset=".673" stop-color="#0000ab"/><stop offset=".684" stop-color="#0000b0"/><stop offset=".716" stop-color="#0000d1"/><stop offset=".743" stop-color="#0000f5"/><stop offset=".749" stop-color="#0001ff"/><stop offset=".754" stop-color="#000dff"/><stop offset=".781" stop-color="#0061ff"/><stop offset=".786" stop-color="#007aff"/><stop offset=".792" stop-color="#00c5ff"/><stop offset=".797" stop-color="#00fbff"/><stop offset=".846" stop-color="#00ffc0"/><stop offset=".932" stop-color="#00ff7a"/><stop offset=".965" stop-color="#00ff6e"/><stop offset="1" stop-color="#00ff6e"/></linearGradient><linearGradient id="a56"><stop offset="0" stop-color="#00ff65"/><stop offset=".014" stop-color="#03ff60"/><stop offset=".084" stop-color="#52ff36"/><stop offset=".127" stop-color="#98ff15"/><stop offset=".154" stop-color="#d1ff00"/><stop offset=".17" stop-color="#f8ff00"/><stop offset=".176" stop-color="#ff0"/><stop offset=".203" stop-color="#fd0"/><stop offset=".214" stop-color="#ff7200"/><stop offset=".224" stop-color="#ff5300"/><stop offset=".257" stop-color="#ff0600"/><stop offset=".262" stop-color="#fb0000"/><stop offset=".3" stop-color="#c30000"/><stop offset=".322" stop-color="#a80000"/><stop offset=".327" stop-color="#a70000"/><stop offset=".37" stop-color="#d00"/><stop offset=".392" stop-color="#fe0000"/><stop offset=".408" stop-color="#ff1f00"/><stop offset=".424" stop-color="#ff4c00"/><stop offset=".441" stop-color="#ff8900"/><stop offset=".468" stop-color="#fffc00"/><stop offset=".473" stop-color="#e3ff00"/><stop offset=".484" stop-color="#8dff19"/><stop offset=".495" stop-color="#21ff50"/><stop offset=".5" stop-color="#00ff6e"/><stop offset=".505" stop-color="#00ff74"/><stop offset=".527" stop-color="#00ffea"/><stop offset=".532" stop-color="#00f7ff"/><stop offset=".57" stop-color="#0051ff"/><stop offset=".581" stop-color="#002aff"/><stop offset=".597" stop-color="#00f"/><stop offset=".624" stop-color="#0000d5"/><stop offset=".673" stop-color="#0000a1"/><stop offset=".684" stop-color="#0000a7"/><stop offset=".722" stop-color="#0000d2"/><stop offset=".749" stop-color="#0000fc"/><stop offset=".754" stop-color="#0009ff"/><stop offset=".77" stop-color="#0039ff"/><stop offset=".781" stop-color="#005eff"/><stop offset=".786" stop-color="#0078ff"/><stop offset=".792" stop-color="#00c0ff"/><stop offset=".797" stop-color="#00faff"/><stop offset=".803" stop-color="#00fffa"/><stop offset=".846" stop-color="#00ffc1"/><stop offset=".932" stop-color="#00ff7a"/><stop offset=".965" stop-color="#00ff6e"/><stop offset="1" stop-color="#00ff6e"/></linearGradient><linearGradient id="a57"><stop offset="0" stop-color="#00ff65"/><stop offset=".014" stop-color="#03ff60"/><stop offset=".084" stop-color="#52ff36"/><stop offset=".127" stop-color="#98ff15"/><stop offset=".154" stop-color="#d1ff00"/><stop offset=".17" stop-color="#f8ff00"/><stop offset=".176" stop-color="#ff0"/><stop offset=".203" stop-color="#fd0"/><stop offset=".214" stop-color="#ff7100"/><stop offset=".257" stop-color="#ff0200"/><stop offset=".3" stop-color="#ba0000"/><stop offset=".316" stop-color="#a30000"/><stop offset=".327" stop-color="#9c0000"/><stop offset=".392" stop-color="#fa0000"/><stop offset=".397" stop-color="#ff0600"/><stop offset=".414" stop-color="#ff2a00"/><stop offset=".43" stop-color="#ff5c00"/><stop offset=".468" stop-color="#fffc00"/><stop offset=".473" stop-color="#e3ff00"/><stop offset=".484" stop-color="#8dff19"/><stop offset=".495" stop-color="#21ff50"/><stop offset=".5" stop-color="#00ff6e"/><stop offset=".505" stop-color="#00ff74"/><stop offset=".527" stop-color="#00ffeb"/><stop offset=".532" stop-color="#00f7ff"/><stop offset=".576" stop-color="#003aff"/><stop offset=".586" stop-color="#0017ff"/><stop offset=".597" stop-color="#0000fc"/><stop offset=".624" stop-color="#0000d1"/><stop offset=".673" stop-color="#000098"/><stop offset=".684" stop-color="#00009e"/><stop offset=".722" stop-color="#0000cd"/><stop offset=".749" stop-color="#0000f9"/><stop offset=".754" stop-color="#0006ff"/><stop offset=".765" stop-color="#0025ff"/><stop offset=".776" stop-color="#0049ff"/><stop offset=".786" stop-color="#0076ff"/><stop offset=".792" stop-color="#00bdff"/><stop offset=".797" stop-color="#00faff"/><stop offset=".803" stop-color="#00fffa"/><stop offset=".846" stop-color="#00ffc1"/><stop offset=".932" stop-color="#00ff7a"/><stop offset=".965" stop-color="#00ff6e"/><stop offset="1" stop-color="#00ff6e"/></linearGradient><linearGradient id="a58"><stop offset="0" stop-color="#00ff65"/><stop offset=".014" stop-color="#03ff60"/><stop offset=".084" stop-color="#52ff36"/><stop offset=".127" stop-color="#98ff15"/><stop offset=".154" stop-color="#d1ff00"/><stop offset=".17" stop-color="#f8ff00"/><stop offset=".176" stop-color="#ff0"/><stop offset=".203" stop-color="#fd0"/><stop offset=".208" stop-color="#ffa200"/><stop offset=".214" stop-color="#ff7000"/><stop offset=".257" stop-color="#fe0000"/><stop offset=".3" stop-color="#b20000"/><stop offset=".316" stop-color="#900"/><stop offset=".327" stop-color="#920000"/><stop offset=".397" stop-color="#ff0300"/><stop offset=".414" stop-color="#ff2800"/><stop offset=".43" stop-color="#ff5b00"/><stop offset=".468" stop-color="#fffc00"/><stop offset=".473" stop-color="#e4ff00"/><stop offset=".484" stop-color="#8eff19"/><stop offset=".495" stop-color="#21ff50"/><stop offset=".5" stop-color="#00ff6e"/><stop offset=".505" stop-color="#00ff74"/><stop offset=".527" stop-color="#00ffeb"/><stop offset=".532" stop-color="#00f7ff"/><stop offset=".576" stop-color="#0038ff"/><stop offset=".592" stop-color="#0007ff"/><stop offset=".597" stop-color="#0000fa"/><stop offset=".619" stop-color="#0000d4"/><stop offset=".673" stop-color="#00008f"/><stop offset=".695" stop-color="#0000a3"/><stop offset=".732" stop-color="#0000d8"/><stop offset=".749" stop-color="#0000f6"/><stop offset=".754" stop-color="#0003ff"/><stop offset=".759" stop-color="#0012ff"/><stop offset=".776" stop-color="#0047ff"/><stop offset=".786" stop-color="#0075ff"/><stop offset=".797" stop-color="#00faff"/><stop offset=".803" stop-color="#00fffa"/><stop offset=".846" stop-color="#00ffc1"/><stop offset=".932" stop-color="#00ff7a"/><stop offset=".965" stop-color="#00ff6e"/><stop offset="1" stop-color="#00ff6e"/></linearGradient><linearGradient id="a59"><stop offset="0" stop-color="#00ff65"/><stop offset=".014" stop-color="#03ff60"/><stop offset=".084" stop-color="#52ff36"/><stop offset=".127" stop-color="#98ff15"/><stop offset=".154" stop-color="#d1ff00"/><stop offset=".17" stop-color="#f8ff00"/><stop offset=".176" stop-color="#ff0"/><stop offset=".203" stop-color="#fd0"/><stop offset=".208" stop-color="#ffa100"/><stop offset=".214" stop-color="#ff6f00"/><stop offset=".251" stop-color="#ff0a00"/><stop offset=".257" stop-color="#fc0000"/><stop offset=".3" stop-color="#a00"/><stop offset=".316" stop-color="#8f0000"/><stop offset=".327" stop-color="#870000"/><stop offset=".343" stop-color="#9e0000"/><stop offset=".397" stop-color="#ff0100"/><stop offset=".414" stop-color="#ff2600"/><stop offset=".43" stop-color="#ff5a00"/><stop offset=".468" stop-color="#fffb00"/><stop offset=".473" stop-color="#e4ff00"/><stop offset=".484" stop-color="#8eff19"/><stop offset=".495" stop-color="#21ff50"/><stop offset=".5" stop-color="#00ff6e"/><stop offset=".505" stop-color="#00ff74"/><stop offset=".527" stop-color="#00ffeb"/><stop offset=".532" stop-color="#00f6ff"/><stop offset=".57" stop-color="#004dff"/><stop offset=".581" stop-color="#0025ff"/><stop offset=".592" stop-color="#0005ff"/><stop offset=".597" stop-color="#0000f8"/><stop offset=".619" stop-color="#0000d2"/><stop offset=".673" stop-color="#000086"/><stop offset=".678" stop-color="#000087"/><stop offset=".695" stop-color="#00009b"/><stop offset=".749" stop-color="#0000f5"/><stop offset=".754" stop-color="#0002ff"/><stop offset=".759" stop-color="#01f"/><stop offset=".776" stop-color="#0047ff"/><stop offset=".786" stop-color="#0075ff"/><stop offset=".797" stop-color="#00faff"/><stop offset=".803" stop-color="#00fffa"/><stop offset=".846" stop-color="#00ffc1"/><stop offset=".932" stop-color="#00ff7a"/><stop offset=".965" stop-color="#00ff6e"/><stop offset="1" stop-color="#00ff6e"/></linearGradient></defs><g transform="translate(182.70 10.50) scale(1.00054 0.99917)"><rect y="0" width="185" height="4" fill="url(#a0)"/><rect y="2" width="185" height="4" fill="url(#a1)"/><rect y="4" width="185" height="4" fill="url(#a2)"/><rect y="6" width="185" height="4" fill="url(#a3)"/><rect y="8" width="185" height="4" fill="url(#a4)"/><rect y="10" width="185" height="4" fill="url(#a5)"/><rect y="12" width="185" height="4" fill="url(#a6)"/><rect y="14" width="185" height="4" fill="url(#a7)"/><rect y="16" width="185" height="4" fill="url(#a8)"/><rect y="18" width="185" height="4" fill="url(#a9)"/><rect y="20" width="185" height="4" fill="url(#a10)"/><rect y="22" width="185" height="4" fill="url(#a11)"/><rect y="24" width="185" height="4" fill="url(#a12)"/><rect y="26" width="185" height="4" fill="url(#a13)"/><rect y="28" width="185" height="4" fill="url(#a14)"/><rect y="30" width="185" height="4" fill="url(#a15)"/><rect y="32" width="185" height="4" fill="url(#a16)"/><rect y="34" width="185" height="4" fill="url(#a17)"/><rect y="36" width="185" height="4" fill="url(#a18)"/><rect y="38" width="185" height="4" fill="url(#a19)"/><rect y="40" width="185" height="4" fill="url(#a20)"/><rect y="42" width="185" height="4" fill="url(#a21)"/><rect y="44" width="185" height="4" fill="url(#a22)"/><rect y="46" width="185" height="4" fill="url(#a23)"/><rect y="48" width="185" height="4" fill="url(#a24)"/><rect y="50" width="185" height="4" fill="url(#a25)"/><rect y="52" width="185" height="4" fill="url(#a26)"/><rect y="54" width="185" height="4" fill="url(#a27)"/><rect y="56" width="185" height="4" fill="url(#a28)"/><rect y="58" width="185" height="4" fill="url(#a29)"/><rect y="60" width="185" height="4" fill="url(#a30)"/><rect y="62" width="185" height="4" fill="url(#a31)"/><rect y="64" width="185" height="4" fill="url(#a32)"/><rect y="66" width="185" height="4" fill="url(#a33)"/><rect y="68" width="185" height="4" fill="url(#a34)"/><rect y="70" width="185" height="4" fill="url(#a35)"/><rect y="72" width="185" height="4" fill="url(#a36)"/><rect y="74" width="185" height="4" fill="url(#a37)"/><rect y="76" width="185" height="4" fill="url(#a38)"/><rect y="78" width="185" height="4" fill="url(#a39)"/><rect y="80" width="185" height="4" fill="url(#a40)"/><rect y="82" width="185" height="4" fill="url(#a41)"/><rect y="84" width="185" height="4" fill="url(#a42)"/><rect y="86" width="185" height="4" fill="url(#a43)"/><rect y="88" width="185" height="4" fill="url(#a44)"/><rect y="90" width="185" height="4" fill="url(#a45)"/><rect y="92" width="185" height="4" fill="url(#a46)"/><rect y="94" width="185" height="4" fill="url(#a47)"/><rect y="96" width="185" height="4" fill="url(#a48)"/><rect y="98" width="185" height="4" fill="url(#a49)"/><rect y="100" width="185" height="4" fill="url(#a50)"/><rect y="102" width="185" height="4" fill="url(#a51)"/><rect y="104" width="185" height="4" fill="url(#a52)"/><rect y="106" width="185" height="4" fill="url(#a53)"/><rect y="108" width="185" height="4" fill="url(#a54)"/><rect y="110" width="185" height="4" fill="url(#a55)"/><rect y="112" width="185" height="4" fill="url(#a56)"/><rect y="114" width="185" height="4" fill="url(#a57)"/><rect y="116" width="185" height="4" fill="url(#a58)"/><rect y="118" width="185" height="2" fill="url(#a59)"/><rect x="38.09" y="0" width="1.1" height="120" fill="#000" fill-opacity=".9"/><rect x="146.01" y="0" width="1.1" height="120" fill="#000" fill-opacity=".9"/></g><rect x="371.50" y="10.50" width="7.6" height="119.90" fill="url(#cbg)"/><path d="M182.70 30.48h1.8M367.80 30.48h-1.8M182.70 50.47h1.8M367.80 50.47h-1.8M182.70 70.45h1.8M367.80 70.45h-1.8M182.70 90.43h1.8M367.80 90.43h-1.8M182.70 110.42h1.8M367.80 110.42h-1.8M213.55 130.40v-1.8M213.55 10.50v1.8M244.40 130.40v-1.8M244.40 10.50v1.8M275.25 130.40v-1.8M275.25 10.50v1.8M306.10 130.40v-1.8M306.10 10.50v1.8M336.95 130.40v-1.8M336.95 10.50v1.8M371.50 107.14h1M379.10 107.14h-1M371.50 70.45h1M379.10 70.45h-1M371.50 33.76h1M379.10 33.76h-1" stroke="#262626" stroke-opacity=".55" stroke-width=".5" fill="none"/>
<defs><linearGradient id="b0"><stop offset="0" stop-color="#00ff6e"/><stop offset=".057" stop-color="#00ff6e"/><stop offset=".084" stop-color="#00ff7f"/><stop offset=".127" stop-color="#0fa"/><stop offset=".181" stop-color="#00fffc"/><stop offset=".186" stop-color="#00fbff"/><stop offset=".203" stop-color="#00eaff"/><stop offset=".208" stop-color="#008bff"/><stop offset=".214" stop-color="#0052ff"/><stop offset=".246" stop-color="#001dff"/><stop offset=".257" stop-color="#0003ff"/><stop offset=".273" stop-color="#00d"/><stop offset=".3" stop-color="#0000b4"/><stop offset=".327" stop-color="#00008b"/><stop offset=".338" stop-color="#000087"/><stop offset=".349" stop-color="#000095"/><stop offset=".403" stop-color="#0000fa"/><stop offset=".408" stop-color="#0007ff"/><stop offset=".435" stop-color="#0042ff"/><stop offset=".441" stop-color="#005cff"/><stop offset=".457" stop-color="#0df"/><stop offset=".462" stop-color="#00fff2"/><stop offset=".473" stop-color="#00ff86"/><stop offset=".478" stop-color="#01ff61"/><stop offset=".484" stop-color="#2bff4b"/><stop offset=".495" stop-color="#8eff19"/><stop offset=".5" stop-color="#c2ff06"/><stop offset=".505" stop-color="#f7ff00"/><stop offset=".511" stop-color="#fff400"/><stop offset=".532" stop-color="#ffb400"/><stop offset=".538" stop-color="#f90"/><stop offset=".543" stop-color="#ff6b00"/><stop offset=".549" stop-color="#ff4700"/><stop offset=".554" stop-color="#f30"/><stop offset=".581" stop-color="#ff0200"/><stop offset=".624" stop-color="#c60000"/><stop offset=".657" stop-color="#910000"/><stop offset=".668" stop-color="#860000"/><stop offset=".689" stop-color="#9d0000"/><stop offset=".743" stop-color="#e50000"/><stop offset=".754" stop-color="#f90000"/><stop offset=".759" stop-color="#ff0500"/><stop offset=".77" stop-color="#ff1c00"/><stop offset=".786" stop-color="#ff4b00"/><stop offset=".792" stop-color="#ff7100"/><stop offset=".797" stop-color="#ffb400"/><stop offset=".814" stop-color="#ffe300"/><stop offset=".83" stop-color="#fffc00"/><stop offset=".835" stop-color="#ff0"/><stop offset=".841" stop-color="#f2ff00"/><stop offset=".851" stop-color="#ceff01"/><stop offset=".868" stop-color="#9bff14"/><stop offset=".889" stop-color="#67ff2b"/><stop offset=".932" stop-color="#20ff51"/><stop offset=".959" stop-color="#00ff63"/><stop offset=".981" stop-color="#00ff6e"/><stop offset="1" stop-color="#00ff6e"/></linearGradient><linearGradient id="b1"><stop offset="0" stop-color="#00ff6e"/><stop offset=".057" stop-color="#00ff6e"/><stop offset=".084" stop-color="#00ff7f"/><stop offset=".127" stop-color="#0fa"/><stop offset=".181" stop-color="#00fffc"/><stop offset=".186" stop-color="#00fbff"/><stop offset=".203" stop-color="#00eaff"/><stop offset=".208" stop-color="#0090ff"/><stop offset=".214" stop-color="#05f"/><stop offset=".246" stop-color="#0021ff"/><stop offset=".262" stop-color="#0000fa"/><stop offset=".278" stop-color="#0000d9"/><stop offset=".3" stop-color="#0000ba"/><stop offset=".327" stop-color="#000092"/><stop offset=".338" stop-color="#00008e"/><stop offset=".349" stop-color="#00009c"/><stop offset=".403" stop-color="#0000fd"/><stop offset=".435" stop-color="#0045ff"/><stop offset=".441" stop-color="#0061ff"/><stop offset=".457" stop-color="#00dfff"/><stop offset=".462" stop-color="#00fff1"/><stop offset=".473" stop-color="#00ff86"/><stop offset=".478" stop-color="#01ff61"/><stop offset=".484" stop-color="#2bff4b"/><stop offset=".495" stop-color="#8dff19"/><stop offset=".5" stop-color="#c0ff06"/><stop offset=".505" stop-color="#f5ff00"/><stop offset=".511" stop-color="#fff500"/><stop offset=".532" stop-color="#ffb700"/><stop offset=".538" stop-color="#ffa000"/><stop offset=".549" stop-color="#ff5600"/><stop offset=".554" stop-color="#ff3f00"/><stop offset=".565" stop-color="#ff2300"/><stop offset=".586" stop-color="#ff0100"/><stop offset=".668" stop-color="#900000"/><stop offset=".738" stop-color="#e20000"/><stop offset=".754" stop-color="#fb0000"/><stop offset=".77" stop-color="#ff1b00"/><stop offset=".786" stop-color="#ff4600"/><stop offset=".792" stop-color="#ff6200"/><stop offset=".797" stop-color="#ffb100"/><stop offset=".814" stop-color="#ffe200"/><stop offset=".83" stop-color="#fffc00"/><stop offset=".835" stop-color="#ff0"/><stop offset=".841" stop-color="#f3ff00"/><stop offset=".851" stop-color="#cfff01"/><stop offset=".868" stop-color="#9cff14"/><stop offset=".889" stop-color="#67ff2b"/><stop offset=".932" stop-color="#20ff51"/><stop offset=".959" stop-color="#00ff63"/><stop offset=".981" stop-color="#00ff6e"/><stop offset="1" stop-color="#00ff6e"/></linearGradient><linearGradient id="b2"><stop offset="0" stop-color="#00ff6e"/><stop offset=".057" stop-color="#00ff6e"/><stop offset=".084" stop-color="#00ff7f"/><stop offset=".127" stop-color="#0fa"/><stop offset=".181" stop-color="#00fffc"/><stop offset=".186" stop-color="#00fbff"/><stop offset=".203" stop-color="#00eaff"/><stop offset=".208" stop-color="#0098ff"/><stop offset=".214" stop-color="#005aff"/><stop offset=".251" stop-color="#001cff"/><stop offset=".262" stop-color="#0003ff"/><stop offset=".278" stop-color="#0000df"/><stop offset=".3" stop-color="#0000c0"/><stop offset=".327" stop-color="#009"/><stop offset=".338" stop-color="#000095"/><stop offset=".403" stop-color="#0003ff"/><stop offset=".43" stop-color="#003aff"/><stop offset=".435" stop-color="#004cff"/><stop offset=".441" stop-color="#0068ff"/><stop offset=".457" stop-color="#00e1ff"/><stop offset=".462" stop-color="#0fe"/><stop offset=".473" stop-color="#00ff85"/><stop offset=".478" stop-color="#01ff61"/><stop offset=".484" stop-color="#2aff4b"/><stop offset=".495" stop-color="#8cff1a"/><stop offset=".5" stop-color="#beff07"/><stop offset=".505" stop-color="#f3ff00"/><stop offset=".511" stop-color="#fff600"/><stop offset=".538" stop-color="#ffa600"/><stop offset=".549" stop-color="#ff6500"/><stop offset=".559" stop-color="#ff3b00"/><stop offset=".57" stop-color="#f20"/><stop offset=".592" stop-color="#ff0200"/><stop offset=".668" stop-color="#9a0000"/><stop offset=".732" stop-color="#e00000"/><stop offset=".754" stop-color="#f00"/><stop offset=".77" stop-color="#ff1c00"/><stop offset=".786" stop-color="#f40"/><stop offset=".792" stop-color="#ff5c00"/><stop offset=".797" stop-color="#ffad00"/><stop offset=".814" stop-color="#ffe100"/><stop offset=".83" stop-color="#fffc00"/><stop offset=".835" stop-color="#ff0"/><stop offset=".841" stop-color="#f4ff00"/><stop offset=".851" stop-color="#cfff01"/><stop offset=".868" stop-color="#9cff14"/><stop offset=".889" stop-color="#67ff2b"/><stop offset=".932" stop-color="#20ff51"/><stop offset=".959" stop-color="#00ff63"/><stop offset=".981" stop-color="#00ff6e"/><stop offset="1" stop-color="#00ff6e"/></linearGradient><linearGradient id="b3"><stop offset="0" stop-color="#00ff6e"/><stop offset=".057" stop-color="#00ff6e"/><stop offset=".084" stop-color="#00ff7f"/><stop offset=".127" stop-color="#0fa"/><stop offset=".181" stop-color="#00fffc"/><stop offset=".186" stop-color="#00fbff"/><stop offset=".203" stop-color="#00eaff"/><stop offset=".208" stop-color="#009fff"/><stop offset=".214" stop-color="#0062ff"/><stop offset=".219" stop-color="#0053ff"/><stop offset=".251" stop-color="#02f"/><stop offset=".268" stop-color="#0000fe"/><stop offset=".284" stop-color="#00d"/><stop offset=".3" stop-color="#0000c6"/><stop offset=".327" stop-color="#0000a1"/><stop offset=".338" stop-color="#00009d"/><stop offset=".397" stop-color="#0000fd"/><stop offset=".424" stop-color="#0034ff"/><stop offset=".43" stop-color="#0040ff"/><stop offset=".435" stop-color="#05f"/><stop offset=".441" stop-color="#0071ff"/><stop offset=".457" stop-color="#00e6ff"/><stop offset=".462" stop-color="#00ffea"/><stop offset=".473" stop-color="#00ff83"/><stop offset=".478" stop-color="#00ff61"/><stop offset=".484" stop-color="#2aff4c"/><stop offset=".495" stop-color="#8bff1a"/><stop offset=".5" stop-color="#bcff08"/><stop offset=".505" stop-color="#f1ff00"/><stop offset=".511" stop-color="#fff700"/><stop offset=".538" stop-color="#ffab00"/><stop offset=".554" stop-color="#ff5a00"/><stop offset=".565" stop-color="#ff3900"/><stop offset=".576" stop-color="#ff2100"/><stop offset=".597" stop-color="#ff0300"/><stop offset=".624" stop-color="#e20000"/><stop offset=".668" stop-color="#a50000"/><stop offset=".749" stop-color="#fb0000"/><stop offset=".765" stop-color="#ff1400"/><stop offset=".786" stop-color="#f40"/><stop offset=".792" stop-color="#ff5800"/><stop offset=".797" stop-color="#ffa500"/><stop offset=".803" stop-color="#ffbd00"/><stop offset=".819" stop-color="#ffec00"/><stop offset=".83" stop-color="#fffc00"/><stop offset=".835" stop-color="#ff0"/><stop offset=".841" stop-color="#f4ff00"/><stop offset=".851" stop-color="#d0ff01"/><stop offset=".868" stop-color="#9cff14"/><stop offset=".889" stop-color="#67ff2b"/><stop offset=".905" stop-color="#49ff3b"/><stop offset=".938" stop-color="#18ff55"/><stop offset=".959" stop-color="#00ff63"/><stop offset=".981" stop-color="#00ff6e"/><stop offset="1" stop-color="#00ff6e"/></linearGradient><linearGradient id="b4"><stop offset="0" stop-color="#00ff6e"/><stop offset=".057" stop-color="#00ff6e"/><stop offset=".084" stop-color="#00ff7f"/><stop offset=".127" stop-color="#0fa"/><stop offset=".181" stop-color="#00fffc"/><stop offset=".186" stop-color="#00fbff"/><stop offset=".203" stop-color="#00eaff"/><stop offset=".208" stop-color="#00a7ff"/><stop offset=".214" stop-color="#006dff"/><stop offset=".219" stop-color="#0059ff"/><stop offset=".257" stop-color="#0020ff"/><stop offset=".273" stop-color="#0000fc"/><stop offset=".3" stop-color="#0000cd"/><stop offset=".332" stop-color="#0000a3"/><stop offset=".338" stop-color="#0000a5"/><stop offset=".392" stop-color="#0000fa"/><stop offset=".397" stop-color="#0005ff"/><stop offset=".43" stop-color="#0049ff"/><stop offset=".441" stop-color="#007cff"/><stop offset=".457" stop-color="#00ebff"/><stop offset=".462" stop-color="#00ffe4"/><stop offset=".473" stop-color="#00ff81"/><stop offset=".478" stop-color="#00ff62"/><stop offset=".484" stop-color="#29ff4c"/><stop offset=".495" stop-color="#8aff1a"/><stop offset=".5" stop-color="#baff09"/><stop offset=".505" stop-color="#efff00"/><stop offset=".511" stop-color="#fff800"/><stop offset=".538" stop-color="#ffb000"/><stop offset=".554" stop-color="#ff6800"/><stop offset=".57" stop-color="#ff3700"/><stop offset=".581" stop-color="#ff2100"/><stop offset=".603" stop-color="#ff0500"/><stop offset=".624" stop-color="#ec0000"/><stop offset=".668" stop-color="#b00000"/><stop offset=".743" stop-color="#f90000"/><stop offset=".749" stop-color="#ff0100"/><stop offset=".765" stop-color="#ff1700"/><stop offset=".786" stop-color="#f40"/><stop offset=".792" stop-color="#ff5700"/><stop offset=".797" stop-color="#ff9c00"/><stop offset=".803" stop-color="#fb0"/><stop offset=".819" stop-color="#ffec00"/><stop offset=".83" stop-color="#fffb00"/><stop offset=".835" stop-color="#ff0"/><stop offset=".841" stop-color="#f5ff00"/><stop offset=".851" stop-color="#d0ff00"/><stop offset=".868" stop-color="#9dff13"/><stop offset=".889" stop-color="#67ff2b"/><stop offset=".905" stop-color="#49ff3b"/><stop offset=".938" stop-color="#18ff55"/><stop offset=".959" stop-color="#00ff63"/><stop offset=".981" stop-color="#00ff6e"/><stop offset="1" stop-color="#00ff6e"/></linearGradient><linearGradient id="b5"><stop offset="0" stop-color="#00ff6e"/><stop offset=".057" stop-color="#00ff6e"/><stop offset=".084" stop-color="#00ff7f"/><stop offset=".127" stop-color="#0fa"/><stop offset=".181" stop-color="#00fffc"/><stop offset=".186" stop-color="#00fbff"/><stop offset=".203" stop-color="#00eaff"/><stop offset=".214" stop-color="#0079ff"/><stop offset=".219" stop-color="#0061ff"/><stop offset=".224" stop-color="#05f"/><stop offset=".257" stop-color="#0027ff"/><stop offset=".273" stop-color="#0008ff"/><stop offset=".278" stop-color="#0000fb"/><stop offset=".3" stop-color="#0000d4"/><stop offset=".332" stop-color="#0000ab"/><stop offset=".338" stop-color="#0000ad"/><stop offset=".392" stop-color="#0003ff"/><stop offset=".419" stop-color="#0036ff"/><stop offset=".43" stop-color="#0054ff"/><stop offset=".441" stop-color="#08f"/><stop offset=".457" stop-color="#00f3ff"/><stop offset=".462" stop-color="#0fd"/><stop offset=".473" stop-color="#00ff7e"/><stop offset=".478" stop-color="#00ff62"/><stop offset=".484" stop-color="#28ff4c"/><stop offset=".495" stop-color="#88ff1b"/><stop offset=".5" stop-color="#b8ff0a"/><stop offset=".505" stop-color="#ecff00"/><stop offset=".511" stop-color="#fff900"/><stop offset=".538" stop-color="#ffb500"/><stop offset=".559" stop-color="#ff6100"/><stop offset=".565" stop-color="#ff5100"/><stop offset=".581" stop-color="#ff2a00"/><stop offset=".603" stop-color="#ff0c00"/><stop offset=".614" stop-color="#ff0100"/><stop offset=".624" stop-color="#f60000"/><stop offset=".668" stop-color="#bd0000"/><stop offset=".684" stop-color="#c60000"/><stop offset=".743" stop-color="#fe0000"/><stop offset=".765" stop-color="#ff1b00"/><stop offset=".786" stop-color="#ff4600"/><stop offset=".792" stop-color="#ff5800"/><stop offset=".797" stop-color="#ff9100"/><stop offset=".803" stop-color="#ffba00"/><stop offset=".819" stop-color="#ffeb00"/><stop offset=".83" stop-color="#fffb00"/><stop offset=".835" stop-color="#ff0"/><stop offset=".841" stop-color="#f5ff00"/><stop offset=".851" stop-color="#d1ff00"/><stop offset=".868" stop-color="#9dff13"/><stop offset=".889" stop-color="#68ff2b"/><stop offset=".905" stop-color="#49ff3b"/><stop offset=".938" stop-color="#18ff55"/><stop offset=".959" stop-color="#00ff63"/><stop offset=".981" stop-color="#00ff6e"/><stop offset="1" stop-color="#00ff6e"/></linearGradient><linearGradient id="b6"><stop offset="0" stop-color="#00ff6e"/><stop offset=".057" stop-color="#00ff6e"/><stop offset=".084" stop-color="#00ff7f"/><stop offset=".127" stop-color="#0fa"/><stop offset=".181" stop-color="#00fffc"/><stop offset=".186" stop-color="#00fbff"/><stop offset=".203" stop-color="#00eaff"/><stop offset=".214" stop-color="#0085ff"/><stop offset=".219" stop-color="#006bff"/><stop offset=".224" stop-color="#005cff"/><stop offset=".262" stop-color="#0027ff"/><stop offset=".278" stop-color="#0008ff"/><stop offset=".284" stop-color="#0000fb"/><stop offset=".3" stop-color="#00d"/><stop offset=".327" stop-color="#0000b9"/><stop offset=".338" stop-color="#0000b5"/><stop offset=".386" stop-color="#0001ff"/><stop offset=".419" stop-color="#003eff"/><stop offset=".43" stop-color="#0060ff"/><stop offset=".441" stop-color="#0095ff"/><stop offset=".457" stop-color="#00fbff"/><stop offset=".473" stop-color="#00ff7a"/><stop offset=".478" stop-color="#00ff62"/><stop offset=".484" stop-color="#27ff4d"/><stop offset=".495" stop-color="#86ff1c"/><stop offset=".5" stop-color="#b5ff0b"/><stop offset=".505" stop-color="#e9ff00"/><stop offset=".511" stop-color="#fffb00"/><stop offset=".543" stop-color="#fa0"/><stop offset=".559" stop-color="#ff6d00"/><stop offset=".57" stop-color="#ff4f00"/><stop offset=".586" stop-color="#ff2b00"/><stop offset=".608" stop-color="#ff0f00"/><stop offset=".624" stop-color="#fe0000"/><stop offset=".668" stop-color="#c90000"/><stop offset=".673" stop-color="#c80000"/><stop offset=".738" stop-color="#fe0000"/><stop offset=".765" stop-color="#ff1e00"/><stop offset=".786" stop-color="#ff4800"/><stop offset=".792" stop-color="#ff5900"/><stop offset=".803" stop-color="#ffb900"/><stop offset=".819" stop-color="#ffeb00"/><stop offset=".83" stop-color="#fffb00"/><stop offset=".835" stop-color="#ff0"/><stop offset=".841" stop-color="#f6ff00"/><stop offset=".851" stop-color="#d1ff00"/><stop offset=".868" stop-color="#9dff13"/><stop offset=".889" stop-color="#68ff2b"/><stop offset=".905" stop-color="#49ff3b"/><stop offset=".938" stop-color="#18ff55"/><stop offset=".959" stop-color="#00ff63"/><stop offset=".981" stop-color="#00ff6e"/><stop offset="1" stop-color="#00ff6e"/></linearGradient><linearGradient id="b7"><stop offset="0" stop-color="#00ff6e"/><stop offset=".057" stop-color="#00ff6e"/><stop offset=".084" stop-color="#00ff7f"/><stop offset=".127" stop-color="#0fa"/><stop offset=".181" stop-color="#00fffc"/><stop offset=".186" stop-color="#00fbff"/><stop offset=".203" stop-color="#00ebff"/><stop offset=".214" stop-color="#0091ff"/><stop offset=".219" stop-color="#0076ff"/><stop offset=".224" stop-color="#0065ff"/><stop offset=".235" stop-color="#0052ff"/><stop offset=".268" stop-color="#0028ff"/><stop offset=".284" stop-color="#000aff"/><stop offset=".289" stop-color="#0000fd"/><stop offset=".3" stop-color="#0000e7"/><stop offset=".332" stop-color="#0000bc"/><stop offset=".349" stop-color="#0000ca"/><stop offset=".381" stop-color="#0001ff"/><stop offset=".414" stop-color="#003cff"/><stop offset=".424" stop-color="#0059ff"/><stop offset=".435" stop-color="#0085ff"/><stop offset=".451" stop-color="#00e1ff"/><stop offset=".457" stop-color="#00fff9"/><stop offset=".473" stop-color="#00ff75"/><stop offset=".478" stop-color="#00ff63"/><stop offset=".484" stop-color="#26ff4e"/><stop offset=".495" stop-color="#84ff1c"/><stop offset=".5" stop-color="#b2ff0c"/><stop offset=".505" stop-color="#e5ff00"/><stop offset=".511" stop-color="#fffc00"/><stop offset=".543" stop-color="#ffb000"/><stop offset=".57" stop-color="#ff5900"/><stop offset=".592" stop-color="#ff2d00"/><stop offset=".608" stop-color="#ff1700"/><stop offset=".635" stop-color="#fc0000"/><stop offset=".673" stop-color="#d30000"/><stop offset=".732" stop-color="#f00"/><stop offset=".765" stop-color="#f20"/><stop offset=".786" stop-color="#ff4b00"/><stop offset=".792" stop-color="#ff5c00"/><stop offset=".803" stop-color="#ffb800"/><stop offset=".819" stop-color="#ffeb00"/><stop offset=".83" stop-color="#fffb00"/><stop offset=".835" stop-color="#ff0"/><stop offset=".841" stop-color="#f6ff00"/><stop offset=".851" stop-color="#d2ff00"/><stop offset=".868" stop-color="#9eff13"/><stop offset=".889" stop-color="#68ff2b"/><stop offset=".905" stop-color="#49ff3b"/><stop offset=".938" stop-color="#18ff55"/><stop offset=".959" stop-color="#00ff63"/><stop offset=".981" stop-color="#00ff6e"/><stop offset="1" stop-color="#00ff6e"/></linearGradient><linearGradient id="b8"><stop offset="0" stop-color="#00ff6e"/><stop offset=".057" stop-color="#00ff6e"/><stop offset=".084" stop-color="#00ff7f"/><stop offset=".127" stop-color="#0fa"/><stop offset=".181" stop-color="#00fffb"/><stop offset=".186" stop-color="#00fbff"/><stop offset=".203" stop-color="#00ebff"/><stop offset=".214" stop-color="#009aff"/><stop offset=".219" stop-color="#0081ff"/><stop offset=".23" stop-color="#0062ff"/><stop offset=".273" stop-color="#002aff"/><stop offset=".295" stop-color="#00f"/><stop offset=".3" stop-color="#0000f4"/><stop offset=".316" stop-color="#0000d7"/><stop offset=".332" stop-color="#0000c4"/><stop offset=".349" stop-color="#0000d3"/><stop offset=".376" stop-color="#0003ff"/><stop offset=".408" stop-color="#003cff"/><stop offset=".419" stop-color="#0056ff"/><stop offset=".43" stop-color="#007bff"/><stop offset=".435" stop-color="#0094ff"/><stop offset=".451" stop-color="#00ecff"/><stop offset=".457" stop-color="#00ffec"/><stop offset=".473" stop-color="#00ff6f"/><stop offset=".478" stop-color="#00ff63"/><stop offset=".484" stop-color="#25ff4e"/><stop offset=".495" stop-color="#82ff1d"/><stop offset=".505" stop-color="#e1ff00"/><stop offset=".511" stop-color="#fffe00"/><stop offset=".549" stop-color="#ffa800"/><stop offset=".565" stop-color="#ff7400"/><stop offset=".576" stop-color="#ff5800"/><stop offset=".608" stop-color="#ff2000"/><stop offset=".641" stop-color="#fe0000"/><stop offset=".673" stop-color="#e10000"/><stop offset=".722" stop-color="#fd0000"/><stop offset=".754" stop-color="#ff1800"/><stop offset=".781" stop-color="#ff4200"/><stop offset=".792" stop-color="#ff6000"/><stop offset=".797" stop-color="#ff9100"/><stop offset=".803" stop-color="#ffb900"/><stop offset=".819" stop-color="#ffeb00"/><stop offset=".83" stop-color="#fffb00"/><stop offset=".835" stop-color="#ff0"/><stop offset=".841" stop-color="#f6ff00"/><stop offset=".851" stop-color="#d2ff00"/><stop offset=".868" stop-color="#9eff13"/><stop offset=".889" stop-color="#68ff2b"/><stop offset=".905" stop-color="#49ff3b"/><stop offset=".938" stop-color="#18ff55"/><stop offset=".959" stop-color="#00ff63"/><stop offset=".981" stop-color="#00ff6e"/><stop offset="1" stop-color="#00ff6e"/></linearGradient><linearGradient id="b9"><stop offset="0" stop-color="#00ff6e"/><stop offset=".057" stop-color="#00ff6e"/><stop offset=".084" stop-color="#00ff7f"/><stop offset=".127" stop-color="#0fa"/><stop offset=".186" stop-color="#00fcff"/><stop offset=".203" stop-color="#00ebff"/><stop offset=".214" stop-color="#00a1ff"/><stop offset=".224" stop-color="#007aff"/><stop offset=".235" stop-color="#0061ff"/><stop offset=".278" stop-color="#002dff"/><stop offset=".3" stop-color="#0003ff"/><stop offset=".322" stop-color="#0000d9"/><stop offset=".332" stop-color="#0000ce"/><stop offset=".343" stop-color="#0000d5"/><stop offset=".365" stop-color="#0000fa"/><stop offset=".37" stop-color="#0005ff"/><stop offset=".408" stop-color="#0048ff"/><stop offset=".419" stop-color="#0063ff"/><stop offset=".43" stop-color="#0089ff"/><stop offset=".441" stop-color="#00bdff"/><stop offset=".451" stop-color="#00f9ff"/><stop offset=".457" stop-color="#00ffdf"/><stop offset=".468" stop-color="#00ff8e"/><stop offset=".473" stop-color="#00ff6e"/><stop offset=".478" stop-color="#00ff64"/><stop offset=".484" stop-color="#23ff4f"/><stop offset=".495" stop-color="#7fff1e"/><stop offset=".505" stop-color="#dcff00"/><stop offset=".511" stop-color="#ff0"/><stop offset=".549" stop-color="#ffae00"/><stop offset=".576" stop-color="#ff6200"/><stop offset=".608" stop-color="#ff2a00"/><stop offset=".646" stop-color="#ff0100"/><stop offset=".673" stop-color="#ed0000"/><stop offset=".705" stop-color="#f90000"/><stop offset=".716" stop-color="#f00"/><stop offset=".738" stop-color="#ff0d00"/><stop offset=".759" stop-color="#f20"/><stop offset=".776" stop-color="#ff3b00"/><stop offset=".786" stop-color="#ff5300"/><stop offset=".792" stop-color="#f60"/><stop offset=".797" stop-color="#f90"/><stop offset=".803" stop-color="#ffb900"/><stop offset=".819" stop-color="#ffeb00"/><stop offset=".83" stop-color="#fffb00"/><stop offset=".835" stop-color="#ff0"/><stop offset=".841" stop-color="#f5ff00"/><stop offset=".851" stop-color="#d1ff00"/><stop offset=".868" stop-color="#9dff13"/><stop offset=".889" stop-color="#68ff2b"/><stop offset=".905" stop-color="#49ff3b"/><stop offset=".938" stop-color="#18ff55"/><stop offset=".959" stop-color="#00ff63"/><stop offset=".981" stop-color="#00ff6e"/><stop offset="1" stop-color="#00ff6e"/></linearGradient><linearGradient id="b10"><stop offset="0" stop-color="#00ff6e"/><stop offset=".057" stop-color="#00ff6e"/><stop offset=".084" stop-color="#00ff7f"/><stop offset=".127" stop-color="#0fa"/><stop offset=".186" stop-color="#00fcff"/><stop offset=".203" stop-color="#00ebff"/><stop offset=".208" stop-color="#00cfff"/><stop offset=".214" stop-color="#00a9ff"/><stop offset=".23" stop-color="#0076ff"/><stop offset=".241" stop-color="#0061ff"/><stop offset=".284" stop-color="#0032ff"/><stop offset=".305" stop-color="#0008ff"/><stop offset=".311" stop-color="#0000fb"/><stop offset=".332" stop-color="#0000d8"/><stop offset=".343" stop-color="#0000e1"/><stop offset=".359" stop-color="#0000fd"/><stop offset=".403" stop-color="#004bff"/><stop offset=".414" stop-color="#0063ff"/><stop offset=".424" stop-color="#0083ff"/><stop offset=".446" stop-color="#00e7ff"/><stop offset=".451" stop-color="#00fff7"/><stop offset=".468" stop-color="#00ff85"/><stop offset=".473" stop-color="#00ff6e"/><stop offset=".478" stop-color="#00ff65"/><stop offset=".484" stop-color="#20ff51"/><stop offset=".495" stop-color="#7bff21"/><stop offset=".505" stop-color="#d5ff00"/><stop offset=".511" stop-color="#ff0"/><stop offset=".554" stop-color="#ffa800"/><stop offset=".581" stop-color="#ff6200"/><stop offset=".619" stop-color="#ff2600"/><stop offset=".657" stop-color="#f00"/><stop offset=".678" stop-color="#f40000"/><stop offset=".705" stop-color="#f00"/><stop offset=".749" stop-color="#ff1b00"/><stop offset=".765" stop-color="#ff2d00"/><stop offset=".781" stop-color="#ff4a00"/><stop offset=".792" stop-color="#ff6e00"/><stop offset=".797" stop-color="#ffa100"/><stop offset=".803" stop-color="#fb0"/><stop offset=".819" stop-color="#ffec00"/><stop offset=".83" stop-color="#fffb00"/><stop offset=".835" stop-color="#ff0"/><stop offset=".841" stop-color="#f5ff00"/><stop offset=".851" stop-color="#d1ff00"/><stop offset=".868" stop-color="#9dff13"/><stop offset=".889" stop-color="#67ff2b"/><stop offset=".905" stop-color="#49ff3b"/><stop offset=".938" stop-color="#18ff55"/><stop offset=".959" stop-color="#00ff63"/><stop offset=".981" stop-color="#00ff6e"/><stop offset="1" stop-color="#00ff6e"/></linearGradient><linearGradient id="b11"><stop offset="0" stop-color="#00ff6e"/><stop offset=".057" stop-color="#00ff6e"/><stop offset=".084" stop-color="#00ff7f"/><stop offset=".127" stop-color="#0fa"/><stop offset=".186" stop-color="#00fcff"/><stop offset=".203" stop-color="#00ecff"/><stop offset=".208" stop-color="#00d5ff"/><stop offset=".214" stop-color="#00b2ff"/><stop offset=".219" stop-color="#009fff"/><stop offset=".241" stop-color="#006bff"/><stop offset=".289" stop-color="#0038ff"/><stop offset=".316" stop-color="#0001ff"/><stop offset=".332" stop-color="#0000e6"/><stop offset=".338" stop-color="#0000e8"/><stop offset=".354" stop-color="#0003ff"/><stop offset=".37" stop-color="#0024ff"/><stop offset=".408" stop-color="#0065ff"/><stop offset=".424" stop-color="#0093ff"/><stop offset=".435" stop-color="#00c0ff"/><stop offset=".446" stop-color="#00f5ff"/><stop offset=".451" stop-color="#00ffe7"/><stop offset=".468" stop-color="#00ff7c"/><stop offset=".478" stop-color="#0f6"/><stop offset=".484" stop-color="#1dff52"/><stop offset=".495" stop-color="#76ff23"/><stop offset=".505" stop-color="#ceff01"/><stop offset=".511" stop-color="#f9ff00"/><stop offset=".516" stop-color="#fff700"/><stop offset=".554" stop-color="#ffaf00"/><stop offset=".586" stop-color="#ff6200"/><stop offset=".624" stop-color="#ff2900"/><stop offset=".662" stop-color="#ff0300"/><stop offset=".678" stop-color="#fa0000"/><stop offset=".695" stop-color="#f00"/><stop offset=".738" stop-color="#ff1600"/><stop offset=".77" stop-color="#ff3a00"/><stop offset=".786" stop-color="#ff5f00"/><stop offset=".792" stop-color="#ff7800"/><stop offset=".797" stop-color="#fa0"/><stop offset=".803" stop-color="#ffbd00"/><stop offset=".819" stop-color="#ffed00"/><stop offset=".83" stop-color="#fffc00"/><stop offset=".835" stop-color="#ff0"/><stop offset=".841" stop-color="#f4ff00"/><stop offset=".851" stop-color="#d0ff01"/><stop offset=".868" stop-color="#9cff14"/><stop offset=".889" stop-color="#67ff2b"/><stop offset=".905" stop-color="#48ff3b"/><stop offset=".938" stop-color="#17ff55"/><stop offset=".959" stop-color="#00ff63"/><stop offset=".981" stop-color="#00ff6e"/><stop offset="1" stop-color="#00ff6e"/></linearGradient><linearGradient id="b12"><stop offset="0" stop-color="#00ff6e"/><stop offset=".057" stop-color="#00ff6e"/><stop offset=".084" stop-color="#00ff7f"/><stop offset=".127" stop-color="#0fa"/><stop offset=".186" stop-color="#00fdff"/><stop offset=".203" stop-color="#00edff"/><stop offset=".208" stop-color="#00dcff"/><stop offset=".214" stop-color="#0bf"/><stop offset=".219" stop-color="#00a7ff"/><stop offset=".241" stop-color="#0075ff"/><stop offset=".257" stop-color="#005fff"/><stop offset=".295" stop-color="#003fff"/><stop offset=".327" stop-color="#00f"/><stop offset=".332" stop-color="#0000f8"/><stop offset=".343" stop-color="#0002ff"/><stop offset=".365" stop-color="#002cff"/><stop offset=".408" stop-color="#0074ff"/><stop offset=".424" stop-color="#00a3ff"/><stop offset=".441" stop-color="#00e9ff"/><stop offset=".446" stop-color="#00fff8"/><stop offset=".468" stop-color="#00ff73"/><stop offset=".478" stop-color="#00ff68"/><stop offset=".484" stop-color="#19ff55"/><stop offset=".495" stop-color="#70ff27"/><stop offset=".505" stop-color="#c6ff04"/><stop offset=".511" stop-color="#f1ff00"/><stop offset=".516" stop-color="#fffa00"/><stop offset=".559" stop-color="#ffab00"/><stop offset=".592" stop-color="#ff6400"/><stop offset=".641" stop-color="#ff1e00"/><stop offset=".662" stop-color="#ff0900"/><stop offset=".678" stop-color="#ff0100"/><stop offset=".732" stop-color="#ff1700"/><stop offset=".765" stop-color="#ff3600"/><stop offset=".776" stop-color="#ff4a00"/><stop offset=".786" stop-color="#ff6700"/><stop offset=".792" stop-color="#ff8700"/><stop offset=".797" stop-color="#ffb100"/><stop offset=".808" stop-color="#ffd200"/><stop offset=".819" stop-color="#fe0"/><stop offset=".83" stop-color="#fffd00"/><stop offset=".835" stop-color="#ff0"/><stop offset=".841" stop-color="#f2ff00"/><stop offset=".851" stop-color="#ceff01"/><stop offset=".868" stop-color="#9bff14"/><stop offset=".889" stop-color="#66ff2c"/><stop offset=".938" stop-color="#17ff56"/><stop offset=".959" stop-color="#00ff63"/><stop offset=".981" stop-color="#00ff6e"/><stop offset="1" stop-color="#00ff6e"/></linearGradient><linearGradient id="b13"><stop offset="0" stop-color="#00ff6e"/><stop offset=".057" stop-color="#00ff6e"/><stop offset=".084" stop-color="#00ff7f"/><stop offset=".127" stop-color="#0fa"/><stop offset=".186" stop-color="#00fdff"/><stop offset=".203" stop-color="#00edff"/><stop offset=".208" stop-color="#00e2ff"/><stop offset=".214" stop-color="#00c4ff"/><stop offset=".219" stop-color="#00afff"/><stop offset=".246" stop-color="#07f"/><stop offset=".3" stop-color="#0046ff"/><stop offset=".332" stop-color="#0010ff"/><stop offset=".343" stop-color="#0019ff"/><stop offset=".408" stop-color="#0083ff"/><stop offset=".424" stop-color="#00b4ff"/><stop offset=".441" stop-color="#00f9ff"/><stop offset=".446" stop-color="#00ffe6"/><stop offset=".462" stop-color="#00ff86"/><stop offset=".468" stop-color="#00ff6e"/><stop offset=".478" stop-color="#00ff6a"/><stop offset=".484" stop-color="#14ff57"/><stop offset=".495" stop-color="#69ff2a"/><stop offset=".505" stop-color="#bdff08"/><stop offset=".511" stop-color="#e7ff00"/><stop offset=".516" stop-color="#fffe00"/><stop offset=".559" stop-color="#ffb200"/><stop offset=".597" stop-color="#f60"/><stop offset=".651" stop-color="#ff1a00"/><stop offset=".668" stop-color="#ff0c00"/><stop offset=".684" stop-color="#ff0600"/><stop offset=".738" stop-color="#ff2000"/><stop offset=".765" stop-color="#ff3c00"/><stop offset=".781" stop-color="#ff5e00"/><stop offset=".786" stop-color="#ff7300"/><stop offset=".797" stop-color="#ffb600"/><stop offset=".814" stop-color="#ffe500"/><stop offset=".83" stop-color="#fffe00"/><stop offset=".835" stop-color="#feff00"/><stop offset=".851" stop-color="#ccff02"/><stop offset=".868" stop-color="#99ff15"/><stop offset=".884" stop-color="#71ff26"/><stop offset=".9" stop-color="#50ff37"/><stop offset=".932" stop-color="#1eff52"/><stop offset=".954" stop-color="#02ff61"/><stop offset=".981" stop-color="#00ff6e"/><stop offset="1" stop-color="#00ff6e"/></linearGradient><linearGradient id="b14"><stop offset="0" stop-color="#00ff6e"/><stop offset=".057" stop-color="#00ff6e"/><stop offset=".084" stop-color="#00ff7f"/><stop offset=".132" stop-color="#00ffb0"/><stop offset=".186" stop-color="#00feff"/><stop offset=".208" stop-color="#00e7ff"/><stop offset=".219" stop-color="#00b9ff"/><stop offset=".224" stop-color="#0af"/><stop offset=".246" stop-color="#0082ff"/><stop offset=".262" stop-color="#006fff"/><stop offset=".305" stop-color="#004dff"/><stop offset=".332" stop-color="#002aff"/><stop offset=".349" stop-color="#0038ff"/><stop offset=".403" stop-color="#0089ff"/><stop offset=".419" stop-color="#00b3ff"/><stop offset=".435" stop-color="#00f1ff"/><stop offset=".441" stop-color="#00fff2"/><stop offset=".462" stop-color="#00ff7a"/><stop offset=".468" stop-color="#00ff6e"/><stop offset=".478" stop-color="#00ff6d"/><stop offset=".484" stop-color="#0fff5a"/><stop offset=".5" stop-color="#8cff1a"/><stop offset=".511" stop-color="#dcff00"/><stop offset=".516" stop-color="#ff0"/><stop offset=".559" stop-color="#ffb900"/><stop offset=".592" stop-color="#ff7a00"/><stop offset=".63" stop-color="#ff4600"/><stop offset=".646" stop-color="#ff2a00"/><stop offset=".668" stop-color="#ff1400"/><stop offset=".684" stop-color="#ff0c00"/><stop offset=".738" stop-color="#ff2400"/><stop offset=".765" stop-color="#ff4200"/><stop offset=".781" stop-color="#ff6900"/><stop offset=".786" stop-color="#ff8300"/><stop offset=".792" stop-color="#ffa900"/><stop offset=".797" stop-color="#fb0"/><stop offset=".814" stop-color="#ffe800"/><stop offset=".83" stop-color="#ff0"/><stop offset=".835" stop-color="#fcff00"/><stop offset=".851" stop-color="#c9ff03"/><stop offset=".868" stop-color="#97ff15"/><stop offset=".884" stop-color="#6fff27"/><stop offset=".9" stop-color="#4fff38"/><stop offset=".932" stop-color="#1eff52"/><stop offset=".954" stop-color="#01ff61"/><stop offset=".981" stop-color="#00ff6e"/><stop offset="1" stop-color="#00ff6e"/></linearGradient><linearGradient id="b15"><stop offset="0" stop-color="#00ff6e"/><stop offset=".057" stop-color="#00ff6e"/><stop offset=".084" stop-color="#00ff7f"/><stop offset=".132" stop-color="#00ffb0"/><stop offset=".186" stop-color="#00fffe"/><stop offset=".208" stop-color="#00eaff"/><stop offset=".224" stop-color="#00b4ff"/><stop offset=".251" stop-color="#0087ff"/><stop offset=".332" stop-color="#0042ff"/><stop offset=".349" stop-color="#004dff"/><stop offset=".397" stop-color="#0091ff"/><stop offset=".414" stop-color="#00b5ff"/><stop offset=".43" stop-color="#00ecff"/><stop offset=".435" stop-color="#00fffb"/><stop offset=".451" stop-color="#00ffa3"/><stop offset=".462" stop-color="#00ff70"/><stop offset=".478" stop-color="#00ff6e"/><stop offset=".484" stop-color="#08ff5d"/><stop offset=".5" stop-color="#83ff1d"/><stop offset=".511" stop-color="#cfff01"/><stop offset=".516" stop-color="#f3ff00"/><stop offset=".522" stop-color="#fffb00"/><stop offset=".592" stop-color="#ff8600"/><stop offset=".641" stop-color="#ff4200"/><stop offset=".651" stop-color="#ff2d00"/><stop offset=".668" stop-color="#ff1c00"/><stop offset=".689" stop-color="#ff1300"/><stop offset=".738" stop-color="#ff2900"/><stop offset=".759" stop-color="#ff4000"/><stop offset=".776" stop-color="#ff6200"/><stop offset=".781" stop-color="#f70"/><stop offset=".792" stop-color="#ffb400"/><stop offset=".803" stop-color="#ffd200"/><stop offset=".814" stop-color="#ffec00"/><stop offset=".83" stop-color="#ff0"/><stop offset=".835" stop-color="#f9ff00"/><stop offset=".846" stop-color="#d8ff00"/><stop offset=".868" stop-color="#95ff16"/><stop offset=".884" stop-color="#6dff28"/><stop offset=".9" stop-color="#4dff39"/><stop offset=".932" stop-color="#1dff53"/><stop offset=".954" stop-color="#01ff61"/><stop offset=".981" stop-color="#00ff6e"/><stop offset="1" stop-color="#00ff6e"/></linearGradient><linearGradient id="b16"><stop offset="0" stop-color="#00ff6e"/><stop offset=".057" stop-color="#00ff6e"/><stop offset=".084" stop-color="#00ff7e"/><stop offset=".127" stop-color="#00ffa8"/><stop offset=".186" stop-color="#00fffc"/><stop offset=".208" stop-color="#00edff"/><stop offset=".23" stop-color="#00b2ff"/><stop offset=".246" stop-color="#009aff"/><stop offset=".262" stop-color="#0089ff"/><stop offset=".332" stop-color="#0056ff"/><stop offset=".354" stop-color="#06f"/><stop offset=".397" stop-color="#00a5ff"/><stop offset=".414" stop-color="#00c8ff"/><stop offset=".43" stop-color="#0ff"/><stop offset=".457" stop-color="#00ff7b"/><stop offset=".462" stop-color="#00ff6e"/><stop offset=".478" stop-color="#00ff6e"/><stop offset=".484" stop-color="#01ff61"/><stop offset=".5" stop-color="#78ff22"/><stop offset=".505" stop-color="#9bff14"/><stop offset=".511" stop-color="#c0ff06"/><stop offset=".516" stop-color="#e5ff00"/><stop offset=".522" stop-color="#ff0"/><stop offset=".657" stop-color="#ff3000"/><stop offset=".673" stop-color="#ff2000"/><stop offset=".689" stop-color="#ff1a00"/><stop offset=".738" stop-color="#ff2f00"/><stop offset=".759" stop-color="#ff4800"/><stop offset=".77" stop-color="#ff5f00"/><stop offset=".776" stop-color="#ff7100"/><stop offset=".786" stop-color="#ffab00"/><stop offset=".792" stop-color="#ffbc00"/><stop offset=".808" stop-color="#ffe600"/><stop offset=".824" stop-color="#fffd00"/><stop offset=".83" stop-color="#ff0"/><stop offset=".835" stop-color="#f4ff00"/><stop offset=".846" stop-color="#d3ff00"/><stop offset=".868" stop-color="#91ff18"/><stop offset=".884" stop-color="#6aff2a"/><stop offset=".9" stop-color="#4cff3a"/><stop offset=".938" stop-color="#14ff57"/><stop offset=".954" stop-color="#00ff62"/><stop offset=".981" stop-color="#00ff6e"/><stop offset="1" stop-color="#00ff6e"/></linearGradient><linearGradient id="b17"><stop offset="0" stop-color="#00ff6e"/><stop offset=".057" stop-color="#00ff6e"/><stop offset=".089" stop-color="#00ff82"/><stop offset=".132" stop-color="#00ffae"/><stop offset=".192" stop-color="#0ff"/><stop offset=".214" stop-color="#00eaff"/><stop offset=".23" stop-color="#00bdff"/><stop offset=".246" stop-color="#00a3ff"/><stop offset=".332" stop-color="#0069ff"/><stop offset=".354" stop-color="#0078ff"/><stop offset=".392" stop-color="#00b1ff"/><stop offset=".408" stop-color="#00cfff"/><stop offset=".424" stop-color="#00feff"/><stop offset=".457" stop-color="#00ff70"/><stop offset=".478" stop-color="#00ff6e"/><stop offset=".484" stop-color="#00ff65"/><stop offset=".489" stop-color="#1bff53"/><stop offset=".505" stop-color="#8fff19"/><stop offset=".516" stop-color="#d3ff00"/><stop offset=".522" stop-color="#f3ff00"/><stop offset=".527" stop-color="#fffd00"/><stop offset=".619" stop-color="#ff7900"/><stop offset=".662" stop-color="#ff3500"/><stop offset=".673" stop-color="#ff2900"/><stop offset=".689" stop-color="#ff2100"/><stop offset=".732" stop-color="#ff3100"/><stop offset=".754" stop-color="#ff4800"/><stop offset=".77" stop-color="#ff6e00"/><stop offset=".781" stop-color="#ffa300"/><stop offset=".786" stop-color="#ffb800"/><stop offset=".797" stop-color="#ffd400"/><stop offset=".808" stop-color="#ffec00"/><stop offset=".824" stop-color="#ff0"/><stop offset=".83" stop-color="#fcff00"/><stop offset=".846" stop-color="#cdff02"/><stop offset=".862" stop-color="#9cff14"/><stop offset=".884" stop-color="#67ff2b"/><stop offset=".932" stop-color="#1aff54"/><stop offset=".954" stop-color="#00ff63"/><stop offset=".976" stop-color="#00ff6d"/><stop offset="1" stop-color="#00ff6e"/></linearGradient><linearGradient id="b18"><stop offset="0" stop-color="#00ff6e"/><stop offset=".057" stop-color="#00ff6e"/><stop offset=".084" stop-color="#00ff7e"/><stop offset=".127" stop-color="#00ffa6"/><stop offset=".197" stop-color="#00fdff"/><stop offset=".219" stop-color="#00e6ff"/><stop offset=".235" stop-color="#00bfff"/><stop offset=".251" stop-color="#0af"/><stop offset=".289" stop-color="#009aff"/><stop offset=".332" stop-color="#007cff"/><stop offset=".343" stop-color="#0080ff"/><stop offset=".354" stop-color="#008cff"/><stop offset=".403" stop-color="#00daff"/><stop offset=".414" stop-color="#00f2ff"/><stop offset=".419" stop-color="#00fffd"/><stop offset=".451" stop-color="#0f7"/><stop offset=".457" stop-color="#00ff6e"/><stop offset=".484" stop-color="#00ff6a"/><stop offset=".489" stop-color="#10ff59"/><stop offset=".505" stop-color="#82ff1d"/><stop offset=".516" stop-color="#c0ff06"/><stop offset=".527" stop-color="#fbff00"/><stop offset=".532" stop-color="#fffa00"/><stop offset=".576" stop-color="#ffbd00"/><stop offset=".619" stop-color="#f80"/><stop offset=".673" stop-color="#ff3400"/><stop offset=".695" stop-color="#ff2800"/><stop offset=".732" stop-color="#ff3900"/><stop offset=".754" stop-color="#ff5300"/><stop offset=".765" stop-color="#ff6d00"/><stop offset=".781" stop-color="#ffb500"/><stop offset=".803" stop-color="#ffe900"/><stop offset=".819" stop-color="#fffd00"/><stop offset=".824" stop-color="#ff0"/><stop offset=".83" stop-color="#f6ff00"/><stop offset=".846" stop-color="#c7ff04"/><stop offset=".862" stop-color="#97ff16"/><stop offset=".884" stop-color="#63ff2d"/><stop offset=".938" stop-color="#10ff59"/><stop offset=".954" stop-color="#00ff63"/><stop offset=".976" stop-color="#00ff6e"/><stop offset="1" stop-color="#00ff6e"/></linearGradient><linearGradient id="b19"><stop offset="0" stop-color="#00ff6e"/><stop offset=".062" stop-color="#00ff6f"/><stop offset=".089" stop-color="#00ff81"/><stop offset=".127" stop-color="#00ffa4"/><stop offset=".203" stop-color="#00feff"/><stop offset=".219" stop-color="#0ef"/><stop offset=".241" stop-color="#00c5ff"/><stop offset=".251" stop-color="#00b8ff"/><stop offset=".295" stop-color="#00acff"/><stop offset=".332" stop-color="#0092ff"/><stop offset=".349" stop-color="#009cff"/><stop offset=".408" stop-color="#00fcff"/><stop offset=".419" stop-color="#00ffe5"/><stop offset=".446" stop-color="#00ff7e"/><stop offset=".451" stop-color="#00ff6e"/><stop offset=".484" stop-color="#00ff6e"/><stop offset=".489" stop-color="#04ff5f"/><stop offset=".511" stop-color="#8fff19"/><stop offset=".522" stop-color="#c9ff03"/><stop offset=".532" stop-color="#ff0"/><stop offset=".538" stop-color="#fff900"/><stop offset=".581" stop-color="#ffbf00"/><stop offset=".619" stop-color="#f90"/><stop offset=".662" stop-color="#ff5000"/><stop offset=".689" stop-color="#ff3500"/><stop offset=".7" stop-color="#ff3200"/><stop offset=".727" stop-color="#ff4000"/><stop offset=".749" stop-color="#ff5800"/><stop offset=".759" stop-color="#ff7100"/><stop offset=".776" stop-color="#ffb400"/><stop offset=".781" stop-color="#ffc300"/><stop offset=".797" stop-color="#ffe700"/><stop offset=".814" stop-color="#fffc00"/><stop offset=".824" stop-color="#faff00"/><stop offset=".83" stop-color="#ef0"/><stop offset=".841" stop-color="#cfff01"/><stop offset=".862" stop-color="#91ff18"/><stop offset=".884" stop-color="#5eff30"/><stop offset=".938" stop-color="#0eff5a"/><stop offset=".949" stop-color="#01ff61"/><stop offset=".976" stop-color="#00ff6e"/><stop offset="1" stop-color="#00ff6e"/></linearGradient><linearGradient id="b20"><stop offset="0" stop-color="#00ff6e"/><stop offset=".062" stop-color="#00ff6e"/><stop offset=".089" stop-color="#00ff80"/><stop offset=".122" stop-color="#00ff9b"/><stop offset=".208" stop-color="#00fffd"/><stop offset=".224" stop-color="#00f0ff"/><stop offset=".251" stop-color="#00caff"/><stop offset=".295" stop-color="#00c9ff"/><stop offset=".332" stop-color="#00acff"/><stop offset=".349" stop-color="#00b8ff"/><stop offset=".376" stop-color="#00e7ff"/><stop offset=".392" stop-color="#00fcff"/><stop offset=".403" stop-color="#00fff2"/><stop offset=".414" stop-color="#00ffdb"/><stop offset=".446" stop-color="#00ff70"/><stop offset=".484" stop-color="#00ff6e"/><stop offset=".489" stop-color="#0f6"/><stop offset=".495" stop-color="#17ff55"/><stop offset=".511" stop-color="#7cff20"/><stop offset=".527" stop-color="#ccff02"/><stop offset=".538" stop-color="#ff0"/><stop offset=".543" stop-color="#fff900"/><stop offset=".581" stop-color="#ffc800"/><stop offset=".624" stop-color="#ffa400"/><stop offset=".668" stop-color="#ff5800"/><stop offset=".7" stop-color="#ff4200"/><stop offset=".743" stop-color="#ff6400"/><stop offset=".754" stop-color="#ff7b00"/><stop offset=".77" stop-color="#ffb600"/><stop offset=".781" stop-color="#ffd100"/><stop offset=".792" stop-color="#ffe800"/><stop offset=".808" stop-color="#fffc00"/><stop offset=".819" stop-color="#fbff00"/><stop offset=".824" stop-color="#f0ff00"/><stop offset=".841" stop-color="#c5ff04"/><stop offset=".862" stop-color="#89ff1b"/><stop offset=".884" stop-color="#58ff33"/><stop offset=".938" stop-color="#0bff5c"/><stop offset=".949" stop-color="#00ff63"/><stop offset=".97" stop-color="#00ff6e"/><stop offset="1" stop-color="#00ff6e"/></linearGradient><linearGradient id="b21"><stop offset="0" stop-color="#00ff6e"/><stop offset=".062" stop-color="#00ff6e"/><stop offset=".089" stop-color="#00ff7f"/><stop offset=".122" stop-color="#00ff98"/><stop offset=".165" stop-color="#00ffc9"/><stop offset=".203" stop-color="#00ffea"/><stop offset=".219" stop-color="#00fffd"/><stop offset=".251" stop-color="#00dfff"/><stop offset=".295" stop-color="#00eaff"/><stop offset=".332" stop-color="#00cbff"/><stop offset=".349" stop-color="#00d7ff"/><stop offset=".37" stop-color="#00fdff"/><stop offset=".408" stop-color="#00ffcd"/><stop offset=".419" stop-color="#00ffb4"/><stop offset=".441" stop-color="#00ff73"/><stop offset=".446" stop-color="#00ff6e"/><stop offset=".489" stop-color="#00ff6d"/><stop offset=".495" stop-color="#07ff5e"/><stop offset=".516" stop-color="#81ff1e"/><stop offset=".532" stop-color="#c9ff03"/><stop offset=".543" stop-color="#fbff00"/><stop offset=".549" stop-color="#fffb00"/><stop offset=".581" stop-color="#ffd200"/><stop offset=".624" stop-color="#ffb600"/><stop offset=".635" stop-color="#ffa800"/><stop offset=".668" stop-color="#ff6b00"/><stop offset=".689" stop-color="#ff5e00"/><stop offset=".743" stop-color="#ff8600"/><stop offset=".781" stop-color="#ffe000"/><stop offset=".803" stop-color="#fffe00"/><stop offset=".814" stop-color="#f8ff00"/><stop offset=".835" stop-color="#c9ff03"/><stop offset=".868" stop-color="#73ff25"/><stop offset=".884" stop-color="#51ff37"/><stop offset=".932" stop-color="#0eff5a"/><stop offset=".949" stop-color="#00ff64"/><stop offset=".97" stop-color="#00ff6e"/><stop offset="1" stop-color="#00ff6e"/></linearGradient><linearGradient id="b22"><stop offset="0" stop-color="#00ff6e"/><stop offset=".062" stop-color="#00ff6e"/><stop offset=".095" stop-color="#00ff80"/><stop offset=".122" stop-color="#00ff93"/><stop offset=".17" stop-color="#00ffc6"/><stop offset=".208" stop-color="#00ffdc"/><stop offset=".235" stop-color="#0ff"/><stop offset=".251" stop-color="#00f6ff"/><stop offset=".268" stop-color="#00feff"/><stop offset=".289" stop-color="#00fff1"/><stop offset=".311" stop-color="#00fdff"/><stop offset=".332" stop-color="#00ecff"/><stop offset=".349" stop-color="#00f7ff"/><stop offset=".354" stop-color="#00fffe"/><stop offset=".376" stop-color="#00ffd8"/><stop offset=".408" stop-color="#00ffb4"/><stop offset=".419" stop-color="#00ff9f"/><stop offset=".435" stop-color="#00ff75"/><stop offset=".441" stop-color="#00ff6e"/><stop offset=".489" stop-color="#00ff6e"/><stop offset=".495" stop-color="#0f6"/><stop offset=".5" stop-color="#14ff57"/><stop offset=".522" stop-color="#7eff1f"/><stop offset=".538" stop-color="#c2ff06"/><stop offset=".549" stop-color="#f5ff00"/><stop offset=".554" stop-color="#fffd00"/><stop offset=".581" stop-color="#ffdc00"/><stop offset=".63" stop-color="#ffc300"/><stop offset=".662" stop-color="#ff8e00"/><stop offset=".678" stop-color="#ff8100"/><stop offset=".684" stop-color="#ff8500"/><stop offset=".7" stop-color="#ffa300"/><stop offset=".711" stop-color="#ffae00"/><stop offset=".743" stop-color="#ffaf00"/><stop offset=".759" stop-color="#ffc500"/><stop offset=".781" stop-color="#fe0"/><stop offset=".797" stop-color="#ff0"/><stop offset=".824" stop-color="#d3ff00"/><stop offset=".857" stop-color="#85ff1c"/><stop offset=".878" stop-color="#52ff36"/><stop offset=".932" stop-color="#0aff5c"/><stop offset=".943" stop-color="#00ff63"/><stop offset=".965" stop-color="#00ff6e"/><stop offset="1" stop-color="#00ff6e"/></linearGradient><linearGradient id="b23"><stop offset="0" stop-color="#00ff6e"/><stop offset=".068" stop-color="#00ff6e"/><stop offset=".116" stop-color="#00ff8a"/><stop offset=".165" stop-color="#00ffb8"/><stop offset=".208" stop-color="#00ffc4"/><stop offset=".235" stop-color="#00ffe5"/><stop offset=".246" stop-color="#00ffed"/><stop offset=".257" stop-color="#00ffea"/><stop offset=".278" stop-color="#00ffd2"/><stop offset=".289" stop-color="#00ffcd"/><stop offset=".3" stop-color="#00ffd2"/><stop offset=".322" stop-color="#00ffeb"/><stop offset=".332" stop-color="#00fff1"/><stop offset=".349" stop-color="#00ffe5"/><stop offset=".376" stop-color="#00ffb9"/><stop offset=".408" stop-color="#00ff9e"/><stop offset=".435" stop-color="#00ff6e"/><stop offset=".495" stop-color="#00ff6e"/><stop offset=".5" stop-color="#00ff62"/><stop offset=".532" stop-color="#89ff1b"/><stop offset=".549" stop-color="#d1ff00"/><stop offset=".559" stop-color="#ff0"/><stop offset=".586" stop-color="#ffe300"/><stop offset=".63" stop-color="#ffd800"/><stop offset=".662" stop-color="#ffb200"/><stop offset=".673" stop-color="#ffae00"/><stop offset=".705" stop-color="#ffd000"/><stop offset=".749" stop-color="#ffce00"/><stop offset=".786" stop-color="#ff0"/><stop offset=".814" stop-color="#d1ff00"/><stop offset=".83" stop-color="#b6ff0a"/><stop offset=".851" stop-color="#86ff1c"/><stop offset=".873" stop-color="#52ff36"/><stop offset=".895" stop-color="#30ff48"/><stop offset=".938" stop-color="#00ff62"/><stop offset=".959" stop-color="#00ff6e"/><stop offset="1" stop-color="#00ff6e"/></linearGradient><linearGradient id="b24"><stop offset="0" stop-color="#00ff6e"/><stop offset=".073" stop-color="#00ff6f"/><stop offset=".116" stop-color="#00ff83"/><stop offset=".165" stop-color="#00ffac"/><stop offset=".208" stop-color="#00ffab"/><stop offset=".246" stop-color="#00ffcd"/><stop offset=".289" stop-color="#00ffad"/><stop offset=".3" stop-color="#00ffb1"/><stop offset=".332" stop-color="#00ffcf"/><stop offset=".343" stop-color="#00ffca"/><stop offset=".376" stop-color="#00ff9e"/><stop offset=".408" stop-color="#00ff8b"/><stop offset=".43" stop-color="#00ff6e"/><stop offset=".495" stop-color="#00ff6e"/><stop offset=".505" stop-color="#00ff62"/><stop offset=".527" stop-color="#4aff3b"/><stop offset=".554" stop-color="#c3ff05"/><stop offset=".565" stop-color="#f5ff00"/><stop offset=".57" stop-color="#ff0"/><stop offset=".592" stop-color="#ffef00"/><stop offset=".624" stop-color="#ffef00"/><stop offset=".668" stop-color="#ffcf00"/><stop offset=".711" stop-color="#ffec00"/><stop offset=".749" stop-color="#ffe300"/><stop offset=".776" stop-color="#ff0"/><stop offset=".803" stop-color="#c6ff04"/><stop offset=".835" stop-color="#9aff14"/><stop offset=".873" stop-color="#45ff3d"/><stop offset=".895" stop-color="#25ff4e"/><stop offset=".932" stop-color="#00ff62"/><stop offset=".954" stop-color="#00ff6e"/><stop offset="1" stop-color="#00ff6e"/></linearGradient><linearGradient id="b25"><stop offset="0" stop-color="#00ff6e"/><stop offset=".078" stop-color="#00ff6f"/><stop offset=".122" stop-color="#00ff7e"/><stop offset=".159" stop-color="#00ff9c"/><stop offset=".17" stop-color="#00ff9d"/><stop offset=".203" stop-color="#00ff92"/><stop offset=".246" stop-color="#00ffaf"/><stop offset=".278" stop-color="#00ff97"/><stop offset=".295" stop-color="#00ff94"/><stop offset=".332" stop-color="#00ffaf"/><stop offset=".343" stop-color="#00ffab"/><stop offset=".376" stop-color="#00ff89"/><stop offset=".403" stop-color="#00ff7d"/><stop offset=".419" stop-color="#00ff6f"/><stop offset=".5" stop-color="#00ff6e"/><stop offset=".511" stop-color="#0f6"/><stop offset=".516" stop-color="#04ff5f"/><stop offset=".532" stop-color="#32ff47"/><stop offset=".538" stop-color="#48ff3c"/><stop offset=".549" stop-color="#7fff1f"/><stop offset=".565" stop-color="#caff03"/><stop offset=".576" stop-color="#f0ff00"/><stop offset=".581" stop-color="#fcff00"/><stop offset=".586" stop-color="#ff0"/><stop offset=".603" stop-color="#feff00"/><stop offset=".619" stop-color="#f1ff00"/><stop offset=".635" stop-color="#ff0"/><stop offset=".657" stop-color="#ffeb00"/><stop offset=".668" stop-color="#ffe800"/><stop offset=".7" stop-color="#ff0"/><stop offset=".711" stop-color="#f7ff00"/><stop offset=".722" stop-color="#feff00"/><stop offset=".743" stop-color="#fff700"/><stop offset=".765" stop-color="#ff0"/><stop offset=".781" stop-color="#d3ff00"/><stop offset=".797" stop-color="#abff0e"/><stop offset=".835" stop-color="#87ff1c"/><stop offset=".873" stop-color="#35ff46"/><stop offset=".889" stop-color="#1cff53"/><stop offset=".927" stop-color="#00ff63"/><stop offset=".949" stop-color="#00ff6e"/><stop offset="1" stop-color="#00ff6e"/></linearGradient><linearGradient id="b26"><stop offset="0" stop-color="#00ff6e"/><stop offset=".116" stop-color="#00ff71"/><stop offset=".165" stop-color="#00ff8e"/><stop offset=".203" stop-color="#00ff7d"/><stop offset=".246" stop-color="#00ff96"/><stop offset=".289" stop-color="#00ff7e"/><stop offset=".332" stop-color="#00ff97"/><stop offset=".343" stop-color="#00ff93"/><stop offset=".381" stop-color="#00ff72"/><stop offset=".511" stop-color="#00ff6e"/><stop offset=".527" stop-color="#00ff64"/><stop offset=".538" stop-color="#17ff55"/><stop offset=".543" stop-color="#2cff4b"/><stop offset=".559" stop-color="#83ff1d"/><stop offset=".565" stop-color="#9aff14"/><stop offset=".576" stop-color="#c0ff06"/><stop offset=".581" stop-color="#ccff02"/><stop offset=".592" stop-color="#d2ff00"/><stop offset=".614" stop-color="#b6ff0a"/><stop offset=".624" stop-color="#b3ff0b"/><stop offset=".63" stop-color="#b9ff09"/><stop offset=".641" stop-color="#d1ff00"/><stop offset=".651" stop-color="#ef0"/><stop offset=".662" stop-color="#ff0"/><stop offset=".673" stop-color="#feff00"/><stop offset=".678" stop-color="#f6ff00"/><stop offset=".7" stop-color="#c2ff06"/><stop offset=".711" stop-color="#b7ff0a"/><stop offset=".722" stop-color="#c1ff06"/><stop offset=".743" stop-color="#e9ff00"/><stop offset=".754" stop-color="#eaff00"/><stop offset=".765" stop-color="#d7ff00"/><stop offset=".792" stop-color="#8bff1a"/><stop offset=".803" stop-color="#7dff1f"/><stop offset=".824" stop-color="#78ff22"/><stop offset=".835" stop-color="#6eff27"/><stop offset=".873" stop-color="#21ff50"/><stop offset=".889" stop-color="#0aff5c"/><stop offset=".911" stop-color="#00ff62"/><stop offset=".943" stop-color="#00ff6e"/><stop offset="1" stop-color="#00ff6e"/></linearGradient><linearGradient id="b27"><stop offset="0" stop-color="#00ff6e"/><stop offset=".127" stop-color="#00ff6e"/><stop offset=".159" stop-color="#00ff7d"/><stop offset=".203" stop-color="#00ff6e"/><stop offset=".246" stop-color="#00ff82"/><stop offset=".289" stop-color="#00ff6e"/><stop offset=".332" stop-color="#00ff82"/><stop offset=".365" stop-color="#00ff6f"/><stop offset=".527" stop-color="#00ff6e"/><stop offset=".543" stop-color="#00ff63"/><stop offset=".554" stop-color="#28ff4c"/><stop offset=".57" stop-color="#7cff20"/><stop offset=".581" stop-color="#96ff16"/><stop offset=".592" stop-color="#98ff15"/><stop offset=".614" stop-color="#70ff26"/><stop offset=".624" stop-color="#69ff2a"/><stop offset=".63" stop-color="#71ff26"/><stop offset=".657" stop-color="#baff09"/><stop offset=".668" stop-color="#c4ff05"/><stop offset=".678" stop-color="#b6ff0a"/><stop offset=".7" stop-color="#7bff20"/><stop offset=".711" stop-color="#6cff28"/><stop offset=".716" stop-color="#71ff26"/><stop offset=".743" stop-color="#b0ff0c"/><stop offset=".754" stop-color="#b5ff0b"/><stop offset=".765" stop-color="#a3ff11"/><stop offset=".786" stop-color="#5fff30"/><stop offset=".797" stop-color="#49ff3b"/><stop offset=".808" stop-color="#48ff3c"/><stop offset=".824" stop-color="#53ff36"/><stop offset=".835" stop-color="#50ff37"/><stop offset=".846" stop-color="#42ff3f"/><stop offset=".878" stop-color="#01ff61"/><stop offset=".938" stop-color="#00ff6e"/><stop offset="1" stop-color="#00ff6e"/></linearGradient><linearGradient id="b28"><stop offset="0" stop-color="#00ff6e"/><stop offset=".543" stop-color="#00ff6e"/><stop offset=".554" stop-color="#0f6"/><stop offset=".559" stop-color="#0bff5c"/><stop offset=".576" stop-color="#49ff3b"/><stop offset=".581" stop-color="#54ff35"/><stop offset=".586" stop-color="#56ff34"/><stop offset=".592" stop-color="#50ff37"/><stop offset=".614" stop-color="#1bff54"/><stop offset=".624" stop-color="#14ff57"/><stop offset=".63" stop-color="#19ff54"/><stop offset=".641" stop-color="#37ff45"/><stop offset=".657" stop-color="#74ff24"/><stop offset=".662" stop-color="#7fff1f"/><stop offset=".668" stop-color="#81ff1d"/><stop offset=".673" stop-color="#7cff20"/><stop offset=".678" stop-color="#6fff27"/><stop offset=".7" stop-color="#21ff50"/><stop offset=".711" stop-color="#15ff56"/><stop offset=".722" stop-color="#23ff4f"/><stop offset=".743" stop-color="#6cff28"/><stop offset=".749" stop-color="#76ff23"/><stop offset=".754" stop-color="#78ff22"/><stop offset=".765" stop-color="#64ff2d"/><stop offset=".786" stop-color="#1aff54"/><stop offset=".797" stop-color="#0cff5c"/><stop offset=".808" stop-color="#10ff59"/><stop offset=".824" stop-color="#27ff4d"/><stop offset=".835" stop-color="#2cff4a"/><stop offset=".846" stop-color="#23ff4f"/><stop offset=".862" stop-color="#03ff60"/><stop offset=".868" stop-color="#00ff65"/><stop offset=".889" stop-color="#00ff6e"/><stop offset="1" stop-color="#00ff6e"/></linearGradient><linearGradient id="b29"><stop offset="0" stop-color="#00ff6e"/><stop offset=".554" stop-color="#00ff6e"/><stop offset=".57" stop-color="#00ff63"/><stop offset=".581" stop-color="#0fff5a"/><stop offset=".586" stop-color="#0fff5a"/><stop offset=".597" stop-color="#01ff61"/><stop offset=".619" stop-color="#00ff6d"/><stop offset=".641" stop-color="#00ff68"/><stop offset=".646" stop-color="#02ff61"/><stop offset=".657" stop-color="#1dff52"/><stop offset=".668" stop-color="#29ff4c"/><stop offset=".673" stop-color="#24ff4e"/><stop offset=".689" stop-color="#00ff63"/><stop offset=".711" stop-color="#00ff6d"/><stop offset=".732" stop-color="#00ff62"/><stop offset=".743" stop-color="#1aff54"/><stop offset=".754" stop-color="#27ff4d"/><stop offset=".759" stop-color="#22ff4f"/><stop offset=".776" stop-color="#00ff63"/><stop offset=".797" stop-color="#00ff6e"/><stop offset=".835" stop-color="#05ff5f"/><stop offset=".868" stop-color="#00ff6e"/><stop offset="1" stop-color="#00ff6e"/></linearGradient><linearGradient id="b30"><stop offset="0" stop-color="#00ff6e"/><stop offset="1" stop-color="#00ff6e"/></linearGradient><linearGradient id="b31"><stop offset="0" stop-color="#00ff6e"/><stop offset=".224" stop-color="#00ff6e"/><stop offset=".246" stop-color="#00ff67"/><stop offset=".305" stop-color="#00ff6e"/><stop offset=".332" stop-color="#00ff64"/><stop offset=".359" stop-color="#00ff6e"/><stop offset=".414" stop-color="#00ff6a"/><stop offset=".646" stop-color="#00ff6e"/><stop offset=".668" stop-color="#00ff74"/><stop offset=".689" stop-color="#00ff6e"/><stop offset=".754" stop-color="#00ff74"/><stop offset=".776" stop-color="#00ff6e"/><stop offset=".841" stop-color="#00ff72"/><stop offset="1" stop-color="#00ff6e"/></linearGradient><linearGradient id="b32"><stop offset="0" stop-color="#00ff6e"/><stop offset=".197" stop-color="#00ff6e"/><stop offset=".224" stop-color="#00ff64"/><stop offset=".246" stop-color="#1dff52"/><stop offset=".257" stop-color="#18ff55"/><stop offset=".273" stop-color="#00ff62"/><stop offset=".289" stop-color="#00ff68"/><stop offset=".305" stop-color="#00ff62"/><stop offset=".322" stop-color="#1fff51"/><stop offset=".332" stop-color="#2cff4b"/><stop offset=".343" stop-color="#23ff4f"/><stop offset=".359" stop-color="#03ff60"/><stop offset=".365" stop-color="#00ff64"/><stop offset=".376" stop-color="#00ff68"/><stop offset=".392" stop-color="#00ff63"/><stop offset=".414" stop-color="#14ff57"/><stop offset=".419" stop-color="#12ff58"/><stop offset=".43" stop-color="#02ff61"/><stop offset=".446" stop-color="#00ff6e"/><stop offset=".57" stop-color="#00ff6e"/><stop offset=".586" stop-color="#00ff73"/><stop offset=".624" stop-color="#00ff6f"/><stop offset=".635" stop-color="#00ff72"/><stop offset=".668" stop-color="#00ff8b"/><stop offset=".705" stop-color="#00ff71"/><stop offset=".722" stop-color="#00ff73"/><stop offset=".754" stop-color="#00ff8b"/><stop offset=".792" stop-color="#00ff72"/><stop offset=".808" stop-color="#00ff72"/><stop offset=".841" stop-color="#00ff86"/><stop offset=".878" stop-color="#00ff70"/><stop offset="1" stop-color="#00ff6e"/></linearGradient><linearGradient id="b33"><stop offset="0" stop-color="#00ff6e"/><stop offset=".132" stop-color="#00ff6e"/><stop offset=".165" stop-color="#04ff5f"/><stop offset=".203" stop-color="#00ff62"/><stop offset=".214" stop-color="#0bff5c"/><stop offset=".235" stop-color="#47ff3c"/><stop offset=".246" stop-color="#5aff32"/><stop offset=".257" stop-color="#57ff34"/><stop offset=".278" stop-color="#28ff4d"/><stop offset=".289" stop-color="#1fff52"/><stop offset=".3" stop-color="#29ff4c"/><stop offset=".322" stop-color="#67ff2b"/><stop offset=".332" stop-color="#76ff23"/><stop offset=".343" stop-color="#6bff29"/><stop offset=".365" stop-color="#2dff4a"/><stop offset=".376" stop-color="#1fff51"/><stop offset=".386" stop-color="#25ff4e"/><stop offset=".408" stop-color="#4bff3a"/><stop offset=".419" stop-color="#48ff3c"/><stop offset=".424" stop-color="#3cff42"/><stop offset=".441" stop-color="#05ff5f"/><stop offset=".446" stop-color="#00ff67"/><stop offset=".457" stop-color="#00ff6e"/><stop offset=".559" stop-color="#00ff6e"/><stop offset=".586" stop-color="#00ff87"/><stop offset=".624" stop-color="#00ff80"/><stop offset=".635" stop-color="#0f8"/><stop offset=".657" stop-color="#00ffa9"/><stop offset=".668" stop-color="#00ffaf"/><stop offset=".678" stop-color="#00ffa8"/><stop offset=".7" stop-color="#00ff8a"/><stop offset=".711" stop-color="#00ff86"/><stop offset=".722" stop-color="#00ff8b"/><stop offset=".743" stop-color="#00ffa9"/><stop offset=".754" stop-color="#00ffaf"/><stop offset=".765" stop-color="#00ffa8"/><stop offset=".786" stop-color="#00ff8b"/><stop offset=".797" stop-color="#00ff85"/><stop offset=".835" stop-color="#00ff9c"/><stop offset=".884" stop-color="#00ff78"/><stop offset=".943" stop-color="#00ff6e"/><stop offset="1" stop-color="#00ff6e"/></linearGradient><linearGradient id="b34"><stop offset="0" stop-color="#00ff6e"/><stop offset=".122" stop-color="#00ff6e"/><stop offset=".143" stop-color="#03ff60"/><stop offset=".165" stop-color="#26ff4e"/><stop offset=".176" stop-color="#29ff4c"/><stop offset=".192" stop-color="#23ff4f"/><stop offset=".203" stop-color="#29ff4c"/><stop offset=".214" stop-color="#3eff41"/><stop offset=".235" stop-color="#80ff1e"/><stop offset=".246" stop-color="#92ff17"/><stop offset=".257" stop-color="#94ff17"/><stop offset=".284" stop-color="#69ff2a"/><stop offset=".289" stop-color="#67ff2b"/><stop offset=".3" stop-color="#75ff24"/><stop offset=".322" stop-color="#abff0e"/><stop offset=".332" stop-color="#b8ff0a"/><stop offset=".343" stop-color="#afff0d"/><stop offset=".37" stop-color="#6fff27"/><stop offset=".376" stop-color="#69ff2a"/><stop offset=".386" stop-color="#6eff28"/><stop offset=".397" stop-color="#82ff1d"/><stop offset=".408" stop-color="#8dff19"/><stop offset=".419" stop-color="#86ff1c"/><stop offset=".424" stop-color="#77ff23"/><stop offset=".446" stop-color="#12ff58"/><stop offset=".451" stop-color="#00ff63"/><stop offset=".462" stop-color="#00ff6e"/><stop offset=".549" stop-color="#00ff6e"/><stop offset=".559" stop-color="#00ff79"/><stop offset=".581" stop-color="#00ff9f"/><stop offset=".592" stop-color="#00ffa5"/><stop offset=".624" stop-color="#00ff9f"/><stop offset=".635" stop-color="#00ffab"/><stop offset=".657" stop-color="#00ffd2"/><stop offset=".668" stop-color="#00ffd9"/><stop offset=".678" stop-color="#00ffd1"/><stop offset=".705" stop-color="#00ffab"/><stop offset=".716" stop-color="#00ffac"/><stop offset=".743" stop-color="#00ffd1"/><stop offset=".754" stop-color="#00ffd6"/><stop offset=".765" stop-color="#00ffce"/><stop offset=".786" stop-color="#00ffad"/><stop offset=".797" stop-color="#00ffa5"/><stop offset=".83" stop-color="#00ffac"/><stop offset=".895" stop-color="#00ff7e"/><stop offset=".949" stop-color="#00ff6e"/><stop offset="1" stop-color="#00ff6e"/></linearGradient><linearGradient id="b35"><stop offset="0" stop-color="#00ff6e"/><stop offset=".095" stop-color="#00ff6e"/><stop offset=".127" stop-color="#00ff64"/><stop offset=".132" stop-color="#04ff60"/><stop offset=".154" stop-color="#3aff43"/><stop offset=".165" stop-color="#4aff3b"/><stop offset=".203" stop-color="#5aff32"/><stop offset=".214" stop-color="#70ff27"/><stop offset=".246" stop-color="#c2ff06"/><stop offset=".257" stop-color="#c9ff03"/><stop offset=".278" stop-color="#b1ff0c"/><stop offset=".289" stop-color="#acff0e"/><stop offset=".3" stop-color="#b8ff09"/><stop offset=".311" stop-color="#d3ff00"/><stop offset=".322" stop-color="#edff00"/><stop offset=".332" stop-color="#f8ff00"/><stop offset=".343" stop-color="#f0ff00"/><stop offset=".365" stop-color="#bdff08"/><stop offset=".376" stop-color="#aeff0d"/><stop offset=".386" stop-color="#b0ff0c"/><stop offset=".408" stop-color="#c3ff05"/><stop offset=".419" stop-color="#b6ff0a"/><stop offset=".424" stop-color="#a7ff10"/><stop offset=".435" stop-color="#7aff21"/><stop offset=".451" stop-color="#1cff53"/><stop offset=".457" stop-color="#05ff5f"/><stop offset=".462" stop-color="#00ff68"/><stop offset=".468" stop-color="#00ff6e"/><stop offset=".543" stop-color="#00ff71"/><stop offset=".554" stop-color="#00ff81"/><stop offset=".581" stop-color="#00ffbf"/><stop offset=".592" stop-color="#00ffc8"/><stop offset=".624" stop-color="#00ffc7"/><stop offset=".635" stop-color="#00ffd5"/><stop offset=".657" stop-color="#0ff"/><stop offset=".668" stop-color="#00f7ff"/><stop offset=".678" stop-color="#00feff"/><stop offset=".7" stop-color="#00ffdc"/><stop offset=".711" stop-color="#00ffd5"/><stop offset=".722" stop-color="#0fd"/><stop offset=".738" stop-color="#00fff4"/><stop offset=".749" stop-color="#00fffa"/><stop offset=".759" stop-color="#00fff3"/><stop offset=".792" stop-color="#00ffc5"/><stop offset=".835" stop-color="#00ffb5"/><stop offset=".895" stop-color="#00ff87"/><stop offset=".949" stop-color="#00ff6f"/><stop offset="1" stop-color="#00ff6e"/></linearGradient><linearGradient id="b36"><stop offset="0" stop-color="#00ff6e"/><stop offset=".068" stop-color="#00ff6e"/><stop offset=".116" stop-color="#00ff62"/><stop offset=".127" stop-color="#0fff5a"/><stop offset=".143" stop-color="#3eff41"/><stop offset=".159" stop-color="#5dff31"/><stop offset=".192" stop-color="#75ff24"/><stop offset=".208" stop-color="#89ff1b"/><stop offset=".219" stop-color="#a2ff12"/><stop offset=".235" stop-color="#d6ff00"/><stop offset=".241" stop-color="#e7ff00"/><stop offset=".246" stop-color="#f4ff00"/><stop offset=".257" stop-color="#ff0"/><stop offset=".284" stop-color="#edff00"/><stop offset=".295" stop-color="#f2ff00"/><stop offset=".305" stop-color="#ff0"/><stop offset=".332" stop-color="#ffe800"/><stop offset=".343" stop-color="#ffec00"/><stop offset=".359" stop-color="#fffe00"/><stop offset=".381" stop-color="#ef0"/><stop offset=".403" stop-color="#f8ff00"/><stop offset=".414" stop-color="#f1ff00"/><stop offset=".424" stop-color="#d4ff00"/><stop offset=".441" stop-color="#86ff1c"/><stop offset=".457" stop-color="#21ff50"/><stop offset=".462" stop-color="#09ff5d"/><stop offset=".468" stop-color="#00ff67"/><stop offset=".473" stop-color="#00ff6e"/><stop offset=".532" stop-color="#00ff70"/><stop offset=".549" stop-color="#00ff8a"/><stop offset=".576" stop-color="#00ffd6"/><stop offset=".586" stop-color="#00ffe9"/><stop offset=".619" stop-color="#00ffef"/><stop offset=".635" stop-color="#00fcff"/><stop offset=".657" stop-color="#00d1ff"/><stop offset=".668" stop-color="#00c8ff"/><stop offset=".678" stop-color="#00cfff"/><stop offset=".705" stop-color="#00f7ff"/><stop offset=".716" stop-color="#00f7ff"/><stop offset=".743" stop-color="#00e5ff"/><stop offset=".765" stop-color="#00feff"/><stop offset=".797" stop-color="#00ffd4"/><stop offset=".916" stop-color="#00ff7e"/><stop offset=".954" stop-color="#00ff6e"/><stop offset="1" stop-color="#00ff6e"/></linearGradient><linearGradient id="b37"><stop offset="0" stop-color="#00ff6e"/><stop offset=".062" stop-color="#00ff6e"/><stop offset=".095" stop-color="#00ff63"/><stop offset=".111" stop-color="#0aff5c"/><stop offset=".122" stop-color="#1dff52"/><stop offset=".138" stop-color="#48ff3c"/><stop offset=".154" stop-color="#68ff2b"/><stop offset=".17" stop-color="#7eff1f"/><stop offset=".197" stop-color="#95ff16"/><stop offset=".208" stop-color="#a7ff10"/><stop offset=".224" stop-color="#d9ff00"/><stop offset=".235" stop-color="#ff0"/><stop offset=".257" stop-color="#fe0"/><stop offset=".295" stop-color="#ffec00"/><stop offset=".322" stop-color="#ffd000"/><stop offset=".332" stop-color="#fc0"/><stop offset=".343" stop-color="#ffcf00"/><stop offset=".376" stop-color="#fe0"/><stop offset=".403" stop-color="#fff100"/><stop offset=".419" stop-color="#fffd00"/><stop offset=".424" stop-color="#fcff00"/><stop offset=".435" stop-color="#c9ff03"/><stop offset=".446" stop-color="#8aff1a"/><stop offset=".457" stop-color="#41ff3f"/><stop offset=".468" stop-color="#07ff5e"/><stop offset=".478" stop-color="#00ff6e"/><stop offset=".516" stop-color="#00ff6e"/><stop offset=".532" stop-color="#00ff7d"/><stop offset=".543" stop-color="#00ff92"/><stop offset=".57" stop-color="#00ffe9"/><stop offset=".581" stop-color="#00fbff"/><stop offset=".592" stop-color="#0ef"/><stop offset=".624" stop-color="#00e2ff"/><stop offset=".657" stop-color="#00a7ff"/><stop offset=".668" stop-color="#009dff"/><stop offset=".678" stop-color="#00a1ff"/><stop offset=".705" stop-color="#00c7ff"/><stop offset=".743" stop-color="#00c8ff"/><stop offset=".754" stop-color="#00d5ff"/><stop offset=".77" stop-color="#00f9ff"/><stop offset=".776" stop-color="#00fffc"/><stop offset=".808" stop-color="#00ffd6"/><stop offset=".922" stop-color="#00ff7d"/><stop offset=".959" stop-color="#00ff6e"/><stop offset="1" stop-color="#00ff6e"/></linearGradient><linearGradient id="b38"><stop offset="0" stop-color="#00ff6e"/><stop offset=".051" stop-color="#00ff6e"/><stop offset=".078" stop-color="#00ff63"/><stop offset=".1" stop-color="#10ff59"/><stop offset=".111" stop-color="#20ff51"/><stop offset=".132" stop-color="#4fff38"/><stop offset=".159" stop-color="#80ff1e"/><stop offset=".192" stop-color="#a5ff10"/><stop offset=".203" stop-color="#b8ff0a"/><stop offset=".214" stop-color="#d6ff00"/><stop offset=".224" stop-color="#ff0"/><stop offset=".251" stop-color="#ffe300"/><stop offset=".289" stop-color="#ffd500"/><stop offset=".322" stop-color="#ffb600"/><stop offset=".332" stop-color="#ffb200"/><stop offset=".343" stop-color="#ffb600"/><stop offset=".376" stop-color="#ffd500"/><stop offset=".408" stop-color="#ffe300"/><stop offset=".43" stop-color="#ff0"/><stop offset=".435" stop-color="#ecff00"/><stop offset=".441" stop-color="#ccff02"/><stop offset=".451" stop-color="#88ff1b"/><stop offset=".462" stop-color="#3bff42"/><stop offset=".473" stop-color="#00ff62"/><stop offset=".478" stop-color="#00ff6d"/><stop offset=".511" stop-color="#00ff6f"/><stop offset=".527" stop-color="#00ff83"/><stop offset=".543" stop-color="#00ffab"/><stop offset=".565" stop-color="#00fff7"/><stop offset=".57" stop-color="#00f7ff"/><stop offset=".586" stop-color="#00d8ff"/><stop offset=".624" stop-color="#00bdff"/><stop offset=".657" stop-color="#0084ff"/><stop offset=".673" stop-color="#0078ff"/><stop offset=".684" stop-color="#007fff"/><stop offset=".705" stop-color="#009dff"/><stop offset=".749" stop-color="#00b8ff"/><stop offset=".759" stop-color="#0cf"/><stop offset=".776" stop-color="#00f8ff"/><stop offset=".781" stop-color="#00fffd"/><stop offset=".803" stop-color="#00ffe3"/><stop offset=".862" stop-color="#00ffab"/><stop offset=".927" stop-color="#00ff7b"/><stop offset=".959" stop-color="#00ff6e"/><stop offset="1" stop-color="#00ff6e"/></linearGradient><linearGradient id="b39"><stop offset="0" stop-color="#00ff6e"/><stop offset=".046" stop-color="#00ff6e"/><stop offset=".073" stop-color="#01ff61"/><stop offset=".084" stop-color="#0cff5b"/><stop offset=".1" stop-color="#24ff4f"/><stop offset=".149" stop-color="#7bff20"/><stop offset=".192" stop-color="#bbff08"/><stop offset=".203" stop-color="#d4ff00"/><stop offset=".214" stop-color="#fbff00"/><stop offset=".219" stop-color="#fffc00"/><stop offset=".262" stop-color="#ffcd00"/><stop offset=".332" stop-color="#ff9b00"/><stop offset=".343" stop-color="#ffa000"/><stop offset=".376" stop-color="#ffc000"/><stop offset=".408" stop-color="#ffd600"/><stop offset=".424" stop-color="#ffea00"/><stop offset=".435" stop-color="#ff0"/><stop offset=".441" stop-color="#eaff00"/><stop offset=".446" stop-color="#c7ff04"/><stop offset=".457" stop-color="#80ff1e"/><stop offset=".468" stop-color="#2eff49"/><stop offset=".473" stop-color="#0eff5a"/><stop offset=".478" stop-color="#00ff68"/><stop offset=".484" stop-color="#00ff6e"/><stop offset=".505" stop-color="#00ff6f"/><stop offset=".516" stop-color="#00ff7e"/><stop offset=".538" stop-color="#00ffb3"/><stop offset=".559" stop-color="#00fdff"/><stop offset=".57" stop-color="#00dfff"/><stop offset=".586" stop-color="#00c2ff"/><stop offset=".624" stop-color="#009fff"/><stop offset=".657" stop-color="#0067ff"/><stop offset=".673" stop-color="#0059ff"/><stop offset=".689" stop-color="#0062ff"/><stop offset=".716" stop-color="#0089ff"/><stop offset=".749" stop-color="#00a8ff"/><stop offset=".765" stop-color="#00c8ff"/><stop offset=".781" stop-color="#00f9ff"/><stop offset=".786" stop-color="#00fffc"/><stop offset=".857" stop-color="#00ffb2"/><stop offset=".927" stop-color="#00ff7c"/><stop offset=".959" stop-color="#00ff6f"/><stop offset="1" stop-color="#00ff6e"/></linearGradient><linearGradient id="b40"><stop offset="0" stop-color="#00ff6e"/><stop offset=".041" stop-color="#00ff6e"/><stop offset=".068" stop-color="#03ff60"/><stop offset=".143" stop-color="#7dff20"/><stop offset=".181" stop-color="#bbff08"/><stop offset=".192" stop-color="#d1ff00"/><stop offset=".203" stop-color="#f4ff00"/><stop offset=".208" stop-color="#ff0"/><stop offset=".241" stop-color="#ffda00"/><stop offset=".262" stop-color="#ffba00"/><stop offset=".322" stop-color="#ff8a00"/><stop offset=".332" stop-color="#ff8600"/><stop offset=".343" stop-color="#ff8b00"/><stop offset=".37" stop-color="#ffab00"/><stop offset=".408" stop-color="#ffca00"/><stop offset=".424" stop-color="#ffe000"/><stop offset=".441" stop-color="#ff0"/><stop offset=".446" stop-color="#e2ff00"/><stop offset=".457" stop-color="#95ff16"/><stop offset=".473" stop-color="#1cff53"/><stop offset=".478" stop-color="#00ff63"/><stop offset=".484" stop-color="#00ff6e"/><stop offset=".5" stop-color="#00ff6f"/><stop offset=".511" stop-color="#00ff80"/><stop offset=".532" stop-color="#00ffb9"/><stop offset=".549" stop-color="#00fff4"/><stop offset=".554" stop-color="#00f7ff"/><stop offset=".57" stop-color="#0cf"/><stop offset=".586" stop-color="#00afff"/><stop offset=".624" stop-color="#0086ff"/><stop offset=".662" stop-color="#0048ff"/><stop offset=".678" stop-color="#0040ff"/><stop offset=".689" stop-color="#0045ff"/><stop offset=".754" stop-color="#00a3ff"/><stop offset=".765" stop-color="#00baff"/><stop offset=".781" stop-color="#00f0ff"/><stop offset=".786" stop-color="#00fcff"/><stop offset=".851" stop-color="#00ffb9"/><stop offset=".927" stop-color="#00ff7c"/><stop offset=".965" stop-color="#00ff6e"/><stop offset="1" stop-color="#00ff6e"/></linearGradient><linearGradient id="b41"><stop offset="0" stop-color="#00ff6e"/><stop offset=".035" stop-color="#00ff6e"/><stop offset=".062" stop-color="#03ff60"/><stop offset=".089" stop-color="#34ff46"/><stop offset=".122" stop-color="#62ff2e"/><stop offset=".159" stop-color="#a1ff12"/><stop offset=".181" stop-color="#cbff03"/><stop offset=".197" stop-color="#fdff00"/><stop offset=".203" stop-color="#fffd00"/><stop offset=".235" stop-color="#ffd900"/><stop offset=".251" stop-color="#ffb700"/><stop offset=".262" stop-color="#ffa800"/><stop offset=".322" stop-color="#ff7400"/><stop offset=".332" stop-color="#ff7000"/><stop offset=".343" stop-color="#f70"/><stop offset=".376" stop-color="#ffa200"/><stop offset=".414" stop-color="#ffc700"/><stop offset=".441" stop-color="#fff800"/><stop offset=".446" stop-color="#f9ff00"/><stop offset=".451" stop-color="#d3ff00"/><stop offset=".462" stop-color="#83ff1d"/><stop offset=".473" stop-color="#29ff4c"/><stop offset=".478" stop-color="#06ff5f"/><stop offset=".484" stop-color="#00ff6d"/><stop offset=".495" stop-color="#00ff6e"/><stop offset=".505" stop-color="#00ff7e"/><stop offset=".522" stop-color="#00ffac"/><stop offset=".543" stop-color="#00fff9"/><stop offset=".549" stop-color="#00f3ff"/><stop offset=".57" stop-color="#00bcff"/><stop offset=".586" stop-color="#009eff"/><stop offset=".624" stop-color="#0070ff"/><stop offset=".657" stop-color="#003bff"/><stop offset=".678" stop-color="#002cff"/><stop offset=".689" stop-color="#002fff"/><stop offset=".738" stop-color="#0078ff"/><stop offset=".765" stop-color="#00adff"/><stop offset=".776" stop-color="#00ceff"/><stop offset=".786" stop-color="#00f8ff"/><stop offset=".792" stop-color="#00fffe"/><stop offset=".851" stop-color="#00ffba"/><stop offset=".927" stop-color="#00ff7d"/><stop offset=".965" stop-color="#00ff6e"/><stop offset="1" stop-color="#00ff6e"/></linearGradient><linearGradient id="b42"><stop offset="0" stop-color="#00ff6e"/><stop offset=".03" stop-color="#00ff6e"/><stop offset=".057" stop-color="#02ff61"/><stop offset=".068" stop-color="#13ff58"/><stop offset=".084" stop-color="#37ff45"/><stop offset=".122" stop-color="#6aff2a"/><stop offset=".154" stop-color="#a0ff12"/><stop offset=".176" stop-color="#cdff02"/><stop offset=".192" stop-color="#ff0"/><stop offset=".23" stop-color="#ffda00"/><stop offset=".246" stop-color="#ffb100"/><stop offset=".262" stop-color="#ff9700"/><stop offset=".322" stop-color="#ff5e00"/><stop offset=".332" stop-color="#ff5a00"/><stop offset=".343" stop-color="#ff6300"/><stop offset=".381" stop-color="#ff9a00"/><stop offset=".414" stop-color="#ffbf00"/><stop offset=".43" stop-color="#ffd900"/><stop offset=".446" stop-color="#fffe00"/><stop offset=".451" stop-color="#e7ff00"/><stop offset=".462" stop-color="#91ff18"/><stop offset=".473" stop-color="#35ff46"/><stop offset=".478" stop-color="#0eff5b"/><stop offset=".484" stop-color="#00ff6a"/><stop offset=".495" stop-color="#00ff6f"/><stop offset=".505" stop-color="#00ff89"/><stop offset=".538" stop-color="#00fffc"/><stop offset=".565" stop-color="#00b9ff"/><stop offset=".586" stop-color="#008fff"/><stop offset=".624" stop-color="#005dff"/><stop offset=".657" stop-color="#002aff"/><stop offset=".678" stop-color="#001bff"/><stop offset=".695" stop-color="#0023ff"/><stop offset=".743" stop-color="#0070ff"/><stop offset=".77" stop-color="#00b0ff"/><stop offset=".776" stop-color="#00c1ff"/><stop offset=".786" stop-color="#00f0ff"/><stop offset=".792" stop-color="#00fdff"/><stop offset=".851" stop-color="#0fb"/><stop offset=".927" stop-color="#00ff7d"/><stop offset=".965" stop-color="#00ff6e"/><stop offset="1" stop-color="#00ff6e"/></linearGradient><linearGradient id="b43"><stop offset="0" stop-color="#00ff6e"/><stop offset=".024" stop-color="#00ff6e"/><stop offset=".051" stop-color="#01ff61"/><stop offset=".057" stop-color="#08ff5e"/><stop offset=".084" stop-color="#3fff40"/><stop offset=".116" stop-color="#6aff2a"/><stop offset=".149" stop-color="#9dff13"/><stop offset=".17" stop-color="#cbff02"/><stop offset=".186" stop-color="#ff0"/><stop offset=".224" stop-color="#ffdb00"/><stop offset=".246" stop-color="#ffa100"/><stop offset=".257" stop-color="#ff8e00"/><stop offset=".316" stop-color="#ff5000"/><stop offset=".332" stop-color="#ff4700"/><stop offset=".343" stop-color="#ff5100"/><stop offset=".376" stop-color="#ff8500"/><stop offset=".419" stop-color="#ffbf00"/><stop offset=".446" stop-color="#fff700"/><stop offset=".451" stop-color="#f7ff00"/><stop offset=".457" stop-color="#cdff02"/><stop offset=".468" stop-color="#73ff25"/><stop offset=".478" stop-color="#15ff57"/><stop offset=".484" stop-color="#00ff68"/><stop offset=".495" stop-color="#00ff75"/><stop offset=".5" stop-color="#00ff82"/><stop offset=".532" stop-color="#00fffd"/><stop offset=".565" stop-color="#00acff"/><stop offset=".586" stop-color="#0080ff"/><stop offset=".657" stop-color="#001cff"/><stop offset=".673" stop-color="#000dff"/><stop offset=".684" stop-color="#000bff"/><stop offset=".7" stop-color="#001aff"/><stop offset=".749" stop-color="#006dff"/><stop offset=".776" stop-color="#00b6ff"/><stop offset=".792" stop-color="#00faff"/><stop offset=".797" stop-color="#00fffc"/><stop offset=".851" stop-color="#00ffbc"/><stop offset=".927" stop-color="#00ff7e"/><stop offset=".965" stop-color="#00ff6e"/><stop offset="1" stop-color="#00ff6e"/></linearGradient><linearGradient id="b44"><stop offset="0" stop-color="#00ff6e"/><stop offset=".019" stop-color="#00ff6e"/><stop offset=".046" stop-color="#00ff62"/><stop offset=".051" stop-color="#05ff5f"/><stop offset=".078" stop-color="#3eff41"/><stop offset=".116" stop-color="#70ff27"/><stop offset=".149" stop-color="#a4ff11"/><stop offset=".165" stop-color="#c7ff04"/><stop offset=".181" stop-color="#ff0"/><stop offset=".224" stop-color="#ffd400"/><stop offset=".241" stop-color="#ff9f00"/><stop offset=".257" stop-color="#ff8000"/><stop offset=".316" stop-color="#ff3f00"/><stop offset=".332" stop-color="#ff3700"/><stop offset=".349" stop-color="#ff4a00"/><stop offset=".419" stop-color="#ffb900"/><stop offset=".435" stop-color="#ffd800"/><stop offset=".451" stop-color="#ff0"/><stop offset=".457" stop-color="#dcff00"/><stop offset=".468" stop-color="#7fff1f"/><stop offset=".478" stop-color="#1bff54"/><stop offset=".484" stop-color="#0f6"/><stop offset=".495" stop-color="#00ff7a"/><stop offset=".5" stop-color="#00ff8b"/><stop offset=".527" stop-color="#00fffb"/><stop offset=".559" stop-color="#00acff"/><stop offset=".586" stop-color="#0073ff"/><stop offset=".651" stop-color="#0015ff"/><stop offset=".673" stop-color="#0000fe"/><stop offset=".695" stop-color="#0003ff"/><stop offset=".716" stop-color="#0024ff"/><stop offset=".749" stop-color="#005fff"/><stop offset=".776" stop-color="#00acff"/><stop offset=".781" stop-color="#00c0ff"/><stop offset=".792" stop-color="#00f8ff"/><stop offset=".797" stop-color="#00fffe"/><stop offset=".851" stop-color="#00ffbc"/><stop offset=".927" stop-color="#00ff7e"/><stop offset=".965" stop-color="#00ff6e"/><stop offset="1" stop-color="#00ff6e"/></linearGradient><linearGradient id="b45"><stop offset="0" stop-color="#00ff6e"/><stop offset=".019" stop-color="#00ff6d"/><stop offset=".041" stop-color="#00ff63"/><stop offset=".051" stop-color="#0aff5c"/><stop offset=".078" stop-color="#44ff3e"/><stop offset=".143" stop-color="#9fff13"/><stop offset=".165" stop-color="#cfff01"/><stop offset=".176" stop-color="#f9ff00"/><stop offset=".181" stop-color="#fffe00"/><stop offset=".219" stop-color="#ffd900"/><stop offset=".241" stop-color="#ff9000"/><stop offset=".257" stop-color="#ff7200"/><stop offset=".316" stop-color="#ff3100"/><stop offset=".332" stop-color="#ff2b00"/><stop offset=".349" stop-color="#ff3d00"/><stop offset=".424" stop-color="#ffbc00"/><stop offset=".451" stop-color="#fffb00"/><stop offset=".457" stop-color="#e8ff00"/><stop offset=".468" stop-color="#87ff1c"/><stop offset=".478" stop-color="#20ff51"/><stop offset=".484" stop-color="#00ff64"/><stop offset=".495" stop-color="#00ff80"/><stop offset=".5" stop-color="#00ff94"/><stop offset=".522" stop-color="#00fff6"/><stop offset=".527" stop-color="#00f4ff"/><stop offset=".554" stop-color="#00aeff"/><stop offset=".581" stop-color="#0071ff"/><stop offset=".646" stop-color="#0010ff"/><stop offset=".657" stop-color="#0002ff"/><stop offset=".684" stop-color="#0000ef"/><stop offset=".7" stop-color="#0000fb"/><stop offset=".705" stop-color="#0004ff"/><stop offset=".727" stop-color="#0027ff"/><stop offset=".759" stop-color="#006eff"/><stop offset=".781" stop-color="#00b5ff"/><stop offset=".792" stop-color="#00f4ff"/><stop offset=".797" stop-color="#0ff"/><stop offset=".851" stop-color="#00ffbd"/><stop offset=".927" stop-color="#00ff7e"/><stop offset=".965" stop-color="#00ff6e"/><stop offset="1" stop-color="#00ff6e"/></linearGradient><linearGradient id="b46"><stop offset="0" stop-color="#00ff6e"/><stop offset=".014" stop-color="#00ff6e"/><stop offset=".041" stop-color="#00ff62"/><stop offset=".046" stop-color="#06ff5e"/><stop offset=".073" stop-color="#40ff40"/><stop offset=".143" stop-color="#a4ff11"/><stop offset=".159" stop-color="#c7ff04"/><stop offset=".176" stop-color="#ff0"/><stop offset=".214" stop-color="#ffdc00"/><stop offset=".219" stop-color="#ffd000"/><stop offset=".235" stop-color="#ff9100"/><stop offset=".257" stop-color="#ff6500"/><stop offset=".305" stop-color="#ff2f00"/><stop offset=".327" stop-color="#ff2000"/><stop offset=".343" stop-color="#ff2900"/><stop offset=".37" stop-color="#ff5600"/><stop offset=".424" stop-color="#ffb700"/><stop offset=".451" stop-color="#fff700"/><stop offset=".457" stop-color="#f1ff00"/><stop offset=".462" stop-color="#bfff07"/><stop offset=".468" stop-color="#8dff19"/><stop offset=".478" stop-color="#24ff4f"/><stop offset=".484" stop-color="#00ff63"/><stop offset=".495" stop-color="#00ff86"/><stop offset=".516" stop-color="#00ffed"/><stop offset=".522" stop-color="#00faff"/><stop offset=".538" stop-color="#0cf"/><stop offset=".581" stop-color="#06f"/><stop offset=".651" stop-color="#0000fc"/><stop offset=".684" stop-color="#0000e3"/><stop offset=".695" stop-color="#0000e9"/><stop offset=".711" stop-color="#0000fd"/><stop offset=".722" stop-color="#000fff"/><stop offset=".738" stop-color="#002fff"/><stop offset=".765" stop-color="#0072ff"/><stop offset=".781" stop-color="#00acff"/><stop offset=".786" stop-color="#00c7ff"/><stop offset=".792" stop-color="#0ef"/><stop offset=".797" stop-color="#00feff"/><stop offset=".851" stop-color="#00ffbd"/><stop offset=".927" stop-color="#00ff7e"/><stop offset=".965" stop-color="#00ff6e"/><stop offset="1" stop-color="#00ff6e"/></linearGradient><linearGradient id="b47"><stop offset="0" stop-color="#00ff6e"/><stop offset=".035" stop-color="#00ff63"/><stop offset=".046" stop-color="#0aff5c"/><stop offset=".073" stop-color="#44ff3e"/><stop offset=".111" stop-color="#75ff24"/><stop offset=".143" stop-color="#a8ff0f"/><stop offset=".159" stop-color="#cdff02"/><stop offset=".17" stop-color="#f8ff00"/><stop offset=".176" stop-color="#fffe00"/><stop offset=".214" stop-color="#ffd900"/><stop offset=".23" stop-color="#ff9500"/><stop offset=".235" stop-color="#ff8400"/><stop offset=".257" stop-color="#ff5800"/><stop offset=".3" stop-color="#ff2900"/><stop offset=".327" stop-color="#ff1700"/><stop offset=".338" stop-color="#ff1b00"/><stop offset=".349" stop-color="#ff2700"/><stop offset=".381" stop-color="#ff5e00"/><stop offset=".43" stop-color="#ffbd00"/><stop offset=".451" stop-color="#fff400"/><stop offset=".457" stop-color="#f9ff00"/><stop offset=".462" stop-color="#c7ff04"/><stop offset=".468" stop-color="#92ff17"/><stop offset=".478" stop-color="#27ff4d"/><stop offset=".484" stop-color="#00ff62"/><stop offset=".495" stop-color="#00ff8c"/><stop offset=".516" stop-color="#00fffa"/><stop offset=".522" stop-color="#00f0ff"/><stop offset=".576" stop-color="#0067ff"/><stop offset=".603" stop-color="#0038ff"/><stop offset=".641" stop-color="#0001ff"/><stop offset=".668" stop-color="#0000e2"/><stop offset=".684" stop-color="#0000d9"/><stop offset=".695" stop-color="#0000de"/><stop offset=".716" stop-color="#0000f9"/><stop offset=".722" stop-color="#0002ff"/><stop offset=".738" stop-color="#0021ff"/><stop offset=".765" stop-color="#06f"/><stop offset=".781" stop-color="#00a3ff"/><stop offset=".786" stop-color="#00beff"/><stop offset=".792" stop-color="#00e9ff"/><stop offset=".797" stop-color="#00fdff"/><stop offset=".851" stop-color="#00ffbd"/><stop offset=".932" stop-color="#00ff7a"/><stop offset=".965" stop-color="#00ff6e"/><stop offset="1" stop-color="#00ff6e"/></linearGradient><linearGradient id="b48"><stop offset="0" stop-color="#00ff6e"/><stop offset=".035" stop-color="#00ff62"/><stop offset=".046" stop-color="#0dff5b"/><stop offset=".068" stop-color="#3eff41"/><stop offset=".127" stop-color="#90ff18"/><stop offset=".143" stop-color="#abff0e"/><stop offset=".159" stop-color="#d3ff00"/><stop offset=".17" stop-color="#ff0"/><stop offset=".208" stop-color="#fd0"/><stop offset=".214" stop-color="#ffd300"/><stop offset=".224" stop-color="#ff9c00"/><stop offset=".23" stop-color="#ff8700"/><stop offset=".241" stop-color="#ff6a00"/><stop offset=".251" stop-color="#f50"/><stop offset=".289" stop-color="#ff2800"/><stop offset=".327" stop-color="#ff0f00"/><stop offset=".349" stop-color="#ff1e00"/><stop offset=".386" stop-color="#ff5e00"/><stop offset=".43" stop-color="#ffb900"/><stop offset=".457" stop-color="#ff0"/><stop offset=".462" stop-color="#cdff02"/><stop offset=".468" stop-color="#96ff16"/><stop offset=".478" stop-color="#2aff4c"/><stop offset=".484" stop-color="#00ff63"/><stop offset=".5" stop-color="#00ffac"/><stop offset=".511" stop-color="#00ffea"/><stop offset=".516" stop-color="#00fbff"/><stop offset=".532" stop-color="#00c9ff"/><stop offset=".576" stop-color="#005dff"/><stop offset=".603" stop-color="#002dff"/><stop offset=".635" stop-color="#0000fe"/><stop offset=".662" stop-color="#0000de"/><stop offset=".684" stop-color="#0000cf"/><stop offset=".7" stop-color="#0000d9"/><stop offset=".727" stop-color="#0000fe"/><stop offset=".743" stop-color="#0021ff"/><stop offset=".77" stop-color="#006cff"/><stop offset=".786" stop-color="#00b4ff"/><stop offset=".792" stop-color="#00e3ff"/><stop offset=".797" stop-color="#00fcff"/><stop offset=".851" stop-color="#00ffbd"/><stop offset=".932" stop-color="#00ff7a"/><stop offset=".965" stop-color="#00ff6e"/><stop offset="1" stop-color="#00ff6e"/></linearGradient><linearGradient id="b49"><stop offset="0" stop-color="#00ff6e"/><stop offset=".03" stop-color="#00ff64"/><stop offset=".041" stop-color="#08ff5e"/><stop offset=".068" stop-color="#41ff3f"/><stop offset=".138" stop-color="#a4ff11"/><stop offset=".154" stop-color="#c7ff04"/><stop offset=".17" stop-color="#ff0"/><stop offset=".208" stop-color="#ffdb00"/><stop offset=".214" stop-color="#ffc900"/><stop offset=".224" stop-color="#ff8e00"/><stop offset=".23" stop-color="#ff7b00"/><stop offset=".241" stop-color="#ff5e00"/><stop offset=".251" stop-color="#ff4a00"/><stop offset=".284" stop-color="#f20"/><stop offset=".327" stop-color="#ff0600"/><stop offset=".338" stop-color="#ff0a00"/><stop offset=".354" stop-color="#ff1d00"/><stop offset=".392" stop-color="#ff6000"/><stop offset=".435" stop-color="#ffc200"/><stop offset=".457" stop-color="#ff0"/><stop offset=".462" stop-color="#d2ff00"/><stop offset=".473" stop-color="#63ff2d"/><stop offset=".478" stop-color="#2cff4b"/><stop offset=".484" stop-color="#00ff65"/><stop offset=".495" stop-color="#00ff97"/><stop offset=".511" stop-color="#00fff3"/><stop offset=".516" stop-color="#00f3ff"/><stop offset=".532" stop-color="#00c3ff"/><stop offset=".576" stop-color="#0054ff"/><stop offset=".603" stop-color="#0024ff"/><stop offset=".63" stop-color="#0000fc"/><stop offset=".662" stop-color="#0000d7"/><stop offset=".689" stop-color="#0000c6"/><stop offset=".711" stop-color="#00d"/><stop offset=".732" stop-color="#0000fd"/><stop offset=".749" stop-color="#02f"/><stop offset=".776" stop-color="#0076ff"/><stop offset=".786" stop-color="#00acff"/><stop offset=".792" stop-color="#0df"/><stop offset=".797" stop-color="#00fbff"/><stop offset=".851" stop-color="#00ffbd"/><stop offset=".932" stop-color="#00ff7a"/><stop offset=".965" stop-color="#00ff6e"/><stop offset="1" stop-color="#00ff6e"/></linearGradient><linearGradient id="b50"><stop offset="0" stop-color="#00ff6e"/><stop offset=".03" stop-color="#00ff63"/><stop offset=".041" stop-color="#0aff5c"/><stop offset=".068" stop-color="#43ff3e"/><stop offset=".138" stop-color="#a6ff10"/><stop offset=".154" stop-color="#caff03"/><stop offset=".165" stop-color="#f5ff00"/><stop offset=".17" stop-color="#ff0"/><stop offset=".208" stop-color="#ffd900"/><stop offset=".214" stop-color="#ffbe00"/><stop offset=".219" stop-color="#ff9a00"/><stop offset=".23" stop-color="#ff6f00"/><stop offset=".241" stop-color="#ff5300"/><stop offset=".257" stop-color="#ff3700"/><stop offset=".289" stop-color="#ff1500"/><stop offset=".322" stop-color="#f00"/><stop offset=".332" stop-color="#fd0000"/><stop offset=".354" stop-color="#ff1500"/><stop offset=".392" stop-color="#ff5800"/><stop offset=".435" stop-color="#ffbf00"/><stop offset=".457" stop-color="#ff0"/><stop offset=".462" stop-color="#d5ff00"/><stop offset=".473" stop-color="#65ff2c"/><stop offset=".478" stop-color="#2dff4a"/><stop offset=".484" stop-color="#00ff67"/><stop offset=".495" stop-color="#00ff9c"/><stop offset=".511" stop-color="#00fffb"/><stop offset=".516" stop-color="#00edff"/><stop offset=".57" stop-color="#0058ff"/><stop offset=".592" stop-color="#002dff"/><stop offset=".619" stop-color="#0003ff"/><stop offset=".668" stop-color="#0000cb"/><stop offset=".689" stop-color="#0000bd"/><stop offset=".716" stop-color="#0000db"/><stop offset=".738" stop-color="#0000fd"/><stop offset=".754" stop-color="#0026ff"/><stop offset=".776" stop-color="#006bff"/><stop offset=".786" stop-color="#00a3ff"/><stop offset=".792" stop-color="#00d8ff"/><stop offset=".797" stop-color="#00fbff"/><stop offset=".851" stop-color="#00ffbd"/><stop offset=".932" stop-color="#00ff7a"/><stop offset=".965" stop-color="#00ff6e"/><stop offset="1" stop-color="#00ff6e"/></linearGradient><linearGradient id="b51"><stop offset="0" stop-color="#00ff6e"/><stop offset=".03" stop-color="#00ff62"/><stop offset=".041" stop-color="#0cff5c"/><stop offset=".068" stop-color="#45ff3d"/><stop offset=".138" stop-color="#a8ff0f"/><stop offset=".154" stop-color="#cdff02"/><stop offset=".165" stop-color="#f9ff00"/><stop offset=".17" stop-color="#fffd00"/><stop offset=".208" stop-color="#ffd600"/><stop offset=".219" stop-color="#ff8c00"/><stop offset=".224" stop-color="#ff7500"/><stop offset=".235" stop-color="#f50"/><stop offset=".257" stop-color="#ff2b00"/><stop offset=".273" stop-color="#ff1900"/><stop offset=".305" stop-color="#ff0200"/><stop offset=".332" stop-color="#f50000"/><stop offset=".343" stop-color="#f00"/><stop offset=".354" stop-color="#ff0d00"/><stop offset=".392" stop-color="#ff5100"/><stop offset=".435" stop-color="#ffbc00"/><stop offset=".457" stop-color="#fffe00"/><stop offset=".462" stop-color="#d8ff00"/><stop offset=".473" stop-color="#67ff2b"/><stop offset=".478" stop-color="#2eff4a"/><stop offset=".484" stop-color="#00ff68"/><stop offset=".495" stop-color="#00ffa0"/><stop offset=".511" stop-color="#00fdff"/><stop offset=".522" stop-color="#00d6ff"/><stop offset=".565" stop-color="#005dff"/><stop offset=".586" stop-color="#002eff"/><stop offset=".614" stop-color="#0003ff"/><stop offset=".662" stop-color="#0000c9"/><stop offset=".689" stop-color="#0000b6"/><stop offset=".722" stop-color="#0000da"/><stop offset=".743" stop-color="#0000fe"/><stop offset=".759" stop-color="#002bff"/><stop offset=".776" stop-color="#0061ff"/><stop offset=".781" stop-color="#0079ff"/><stop offset=".786" stop-color="#009cff"/><stop offset=".792" stop-color="#00d2ff"/><stop offset=".797" stop-color="#00fbff"/><stop offset=".851" stop-color="#00ffbd"/><stop offset=".932" stop-color="#00ff7a"/><stop offset=".965" stop-color="#00ff6e"/><stop offset="1" stop-color="#00ff6e"/></linearGradient><linearGradient id="b52"><stop offset="0" stop-color="#00ff6e"/><stop offset=".03" stop-color="#00ff62"/><stop offset=".041" stop-color="#0dff5b"/><stop offset=".062" stop-color="#3eff41"/><stop offset=".138" stop-color="#aaff0f"/><stop offset=".154" stop-color="#cfff01"/><stop offset=".165" stop-color="#fcff00"/><stop offset=".17" stop-color="#fffc00"/><stop offset=".203" stop-color="#fd0"/><stop offset=".208" stop-color="#ffd100"/><stop offset=".214" stop-color="#ffa200"/><stop offset=".219" stop-color="#ff8000"/><stop offset=".23" stop-color="#ff5900"/><stop offset=".246" stop-color="#f30"/><stop offset=".262" stop-color="#ff1b00"/><stop offset=".3" stop-color="#fd0000"/><stop offset=".327" stop-color="#ed0000"/><stop offset=".338" stop-color="#f10000"/><stop offset=".349" stop-color="#fd0000"/><stop offset=".359" stop-color="#ff0e00"/><stop offset=".403" stop-color="#ff6200"/><stop offset=".441" stop-color="#ffc900"/><stop offset=".457" stop-color="#fffd00"/><stop offset=".462" stop-color="#daff00"/><stop offset=".473" stop-color="#68ff2b"/><stop offset=".478" stop-color="#2eff49"/><stop offset=".484" stop-color="#00ff69"/><stop offset=".495" stop-color="#00ffa3"/><stop offset=".505" stop-color="#00ffe8"/><stop offset=".511" stop-color="#00f9ff"/><stop offset=".527" stop-color="#00c2ff"/><stop offset=".565" stop-color="#0056ff"/><stop offset=".586" stop-color="#0027ff"/><stop offset=".608" stop-color="#0003ff"/><stop offset=".673" stop-color="#0000b9"/><stop offset=".689" stop-color="#0000af"/><stop offset=".716" stop-color="#00c"/><stop offset=".743" stop-color="#0000f5"/><stop offset=".749" stop-color="#0002ff"/><stop offset=".754" stop-color="#01f"/><stop offset=".781" stop-color="#006eff"/><stop offset=".786" stop-color="#0094ff"/><stop offset=".792" stop-color="#0cf"/><stop offset=".797" stop-color="#00fbff"/><stop offset=".851" stop-color="#00ffbd"/><stop offset=".932" stop-color="#00ff7a"/><stop offset=".965" stop-color="#00ff6e"/><stop offset="1" stop-color="#00ff6e"/></linearGradient><linearGradient id="b53"><stop offset="0" stop-color="#00ff6e"/><stop offset=".03" stop-color="#00ff61"/><stop offset=".041" stop-color="#0eff5a"/><stop offset=".062" stop-color="#3fff41"/><stop offset=".132" stop-color="#a1ff12"/><stop offset=".154" stop-color="#d1ff00"/><stop offset=".165" stop-color="#ff0"/><stop offset=".17" stop-color="#fffb00"/><stop offset=".203" stop-color="#ffdc00"/><stop offset=".208" stop-color="#ffcb00"/><stop offset=".214" stop-color="#ff9400"/><stop offset=".219" stop-color="#ff7500"/><stop offset=".23" stop-color="#ff4e00"/><stop offset=".246" stop-color="#ff2800"/><stop offset=".257" stop-color="#ff1900"/><stop offset=".278" stop-color="#ff0600"/><stop offset=".3" stop-color="#f50000"/><stop offset=".332" stop-color="#e60000"/><stop offset=".354" stop-color="#fd0000"/><stop offset=".359" stop-color="#ff0600"/><stop offset=".403" stop-color="#ff5c00"/><stop offset=".441" stop-color="#ffc800"/><stop offset=".457" stop-color="#fffd00"/><stop offset=".462" stop-color="#dbff00"/><stop offset=".473" stop-color="#68ff2b"/><stop offset=".478" stop-color="#2fff49"/><stop offset=".484" stop-color="#00ff6a"/><stop offset=".495" stop-color="#00ffa6"/><stop offset=".505" stop-color="#00ffec"/><stop offset=".511" stop-color="#00f6ff"/><stop offset=".522" stop-color="#00cfff"/><stop offset=".559" stop-color="#005dff"/><stop offset=".581" stop-color="#002bff"/><stop offset=".603" stop-color="#0004ff"/><stop offset=".673" stop-color="#0000b3"/><stop offset=".689" stop-color="#0000a9"/><stop offset=".722" stop-color="#00c"/><stop offset=".749" stop-color="#0000f8"/><stop offset=".754" stop-color="#0007ff"/><stop offset=".759" stop-color="#0017ff"/><stop offset=".781" stop-color="#0065ff"/><stop offset=".786" stop-color="#0087ff"/><stop offset=".792" stop-color="#00c7ff"/><stop offset=".797" stop-color="#00fbff"/><stop offset=".851" stop-color="#00ffbd"/><stop offset=".932" stop-color="#00ff7a"/><stop offset=".965" stop-color="#00ff6e"/><stop offset="1" stop-color="#00ff6e"/></linearGradient><linearGradient id="b54"><stop offset="0" stop-color="#00ff6e"/><stop offset=".03" stop-color="#01ff61"/><stop offset=".035" stop-color="#07ff5e"/><stop offset=".062" stop-color="#40ff40"/><stop offset=".132" stop-color="#a1ff12"/><stop offset=".154" stop-color="#d2ff00"/><stop offset=".165" stop-color="#ff0"/><stop offset=".17" stop-color="#fffb00"/><stop offset=".203" stop-color="#ffdb00"/><stop offset=".208" stop-color="#ffc500"/><stop offset=".214" stop-color="#f80"/><stop offset=".219" stop-color="#ff6a00"/><stop offset=".224" stop-color="#f50"/><stop offset=".241" stop-color="#ff2900"/><stop offset=".251" stop-color="#ff1700"/><stop offset=".273" stop-color="#ff0300"/><stop offset=".3" stop-color="#ed0000"/><stop offset=".332" stop-color="#df0000"/><stop offset=".349" stop-color="#ed0000"/><stop offset=".359" stop-color="#fd0000"/><stop offset=".365" stop-color="#ff0800"/><stop offset=".403" stop-color="#ff5700"/><stop offset=".441" stop-color="#ffc600"/><stop offset=".457" stop-color="#fffc00"/><stop offset=".462" stop-color="#dcff00"/><stop offset=".473" stop-color="#68ff2a"/><stop offset=".478" stop-color="#2fff49"/><stop offset=".484" stop-color="#00ff6b"/><stop offset=".495" stop-color="#00ffa8"/><stop offset=".505" stop-color="#00ffef"/><stop offset=".511" stop-color="#00f3ff"/><stop offset=".522" stop-color="#0cf"/><stop offset=".559" stop-color="#0057ff"/><stop offset=".581" stop-color="#0025ff"/><stop offset=".603" stop-color="#0000fd"/><stop offset=".668" stop-color="#0000b3"/><stop offset=".689" stop-color="#0000a3"/><stop offset=".727" stop-color="#0000cd"/><stop offset=".754" stop-color="#0000fd"/><stop offset=".77" stop-color="#0032ff"/><stop offset=".781" stop-color="#005cff"/><stop offset=".786" stop-color="#007bff"/><stop offset=".792" stop-color="#00c1ff"/><stop offset=".797" stop-color="#00fbff"/><stop offset=".803" stop-color="#00fffa"/><stop offset=".851" stop-color="#00ffbd"/><stop offset=".932" stop-color="#00ff7a"/><stop offset=".965" stop-color="#00ff6e"/><stop offset="1" stop-color="#00ff6e"/></linearGradient><linearGradient id="b55"><stop offset="0" stop-color="#00ff6e"/><stop offset=".024" stop-color="#00ff64"/><stop offset=".035" stop-color="#08ff5e"/><stop offset=".062" stop-color="#40ff40"/><stop offset=".132" stop-color="#a2ff12"/><stop offset=".154" stop-color="#d3ff00"/><stop offset=".165" stop-color="#ff0"/><stop offset=".17" stop-color="#fffb00"/><stop offset=".203" stop-color="#ffdb00"/><stop offset=".208" stop-color="#ffbe00"/><stop offset=".214" stop-color="#ff7d00"/><stop offset=".219" stop-color="#ff6000"/><stop offset=".23" stop-color="#ff3b00"/><stop offset=".241" stop-color="#ff1f00"/><stop offset=".268" stop-color="#ff0100"/><stop offset=".3" stop-color="#e60000"/><stop offset=".332" stop-color="#d80000"/><stop offset=".349" stop-color="#e60000"/><stop offset=".365" stop-color="#f00"/><stop offset=".408" stop-color="#ff6100"/><stop offset=".457" stop-color="#fffc00"/><stop offset=".462" stop-color="#dcff00"/><stop offset=".473" stop-color="#69ff2a"/><stop offset=".478" stop-color="#2fff49"/><stop offset=".484" stop-color="#00ff6c"/><stop offset=".495" stop-color="#00ffa9"/><stop offset=".505" stop-color="#00fff2"/><stop offset=".511" stop-color="#00f1ff"/><stop offset=".559" stop-color="#0052ff"/><stop offset=".576" stop-color="#002bff"/><stop offset=".597" stop-color="#0001ff"/><stop offset=".668" stop-color="#0000ae"/><stop offset=".689" stop-color="#00009e"/><stop offset=".727" stop-color="#0000c7"/><stop offset=".754" stop-color="#0000f6"/><stop offset=".759" stop-color="#0005ff"/><stop offset=".77" stop-color="#0029ff"/><stop offset=".781" stop-color="#0054ff"/><stop offset=".786" stop-color="#0071ff"/><stop offset=".792" stop-color="#00bcff"/><stop offset=".797" stop-color="#00faff"/><stop offset=".803" stop-color="#00fffa"/><stop offset=".851" stop-color="#00ffbd"/><stop offset=".932" stop-color="#00ff7a"/><stop offset=".965" stop-color="#00ff6e"/><stop offset="1" stop-color="#00ff6e"/></linearGradient><linearGradient id="b56"><stop offset="0" stop-color="#00ff6e"/><stop offset=".024" stop-color="#00ff64"/><stop offset=".035" stop-color="#08ff5d"/><stop offset=".062" stop-color="#40ff40"/><stop offset=".138" stop-color="#acff0e"/><stop offset=".154" stop-color="#d3ff00"/><stop offset=".165" stop-color="#ff0"/><stop offset=".203" stop-color="#ffda00"/><stop offset=".208" stop-color="#ffb800"/><stop offset=".214" stop-color="#ff7400"/><stop offset=".219" stop-color="#ff5600"/><stop offset=".23" stop-color="#ff3000"/><stop offset=".241" stop-color="#ff1700"/><stop offset=".262" stop-color="#fe0000"/><stop offset=".3" stop-color="#de0000"/><stop offset=".332" stop-color="#d10000"/><stop offset=".349" stop-color="#de0000"/><stop offset=".37" stop-color="#ff0300"/><stop offset=".408" stop-color="#ff5d00"/><stop offset=".457" stop-color="#fffc00"/><stop offset=".462" stop-color="#dcff00"/><stop offset=".468" stop-color="#a1ff12"/><stop offset=".478" stop-color="#2fff49"/><stop offset=".484" stop-color="#00ff6c"/><stop offset=".495" stop-color="#0fa"/><stop offset=".505" stop-color="#00fff3"/><stop offset=".511" stop-color="#00f0ff"/><stop offset=".559" stop-color="#004eff"/><stop offset=".581" stop-color="#001aff"/><stop offset=".597" stop-color="#0000fb"/><stop offset=".673" stop-color="#0000a3"/><stop offset=".689" stop-color="#000098"/><stop offset=".732" stop-color="#0000ca"/><stop offset=".749" stop-color="#0000e4"/><stop offset=".759" stop-color="#0000fd"/><stop offset=".776" stop-color="#0036ff"/><stop offset=".786" stop-color="#0069ff"/><stop offset=".792" stop-color="#00b7ff"/><stop offset=".797" stop-color="#00faff"/><stop offset=".803" stop-color="#00fffa"/><stop offset=".851" stop-color="#00ffbd"/><stop offset=".932" stop-color="#00ff7a"/><stop offset=".965" stop-color="#00ff6e"/><stop offset="1" stop-color="#00ff6e"/></linearGradient><linearGradient id="b57"><stop offset="0" stop-color="#00ff6e"/><stop offset=".024" stop-color="#00ff64"/><stop offset=".035" stop-color="#08ff5d"/><stop offset=".062" stop-color="#41ff40"/><stop offset=".138" stop-color="#adff0e"/><stop offset=".154" stop-color="#d4ff00"/><stop offset=".165" stop-color="#ff0"/><stop offset=".203" stop-color="#ffda00"/><stop offset=".208" stop-color="#ffb100"/><stop offset=".214" stop-color="#ff6c00"/><stop offset=".219" stop-color="#ff4e00"/><stop offset=".224" stop-color="#ff3800"/><stop offset=".235" stop-color="#ff1900"/><stop offset=".257" stop-color="#fe0000"/><stop offset=".3" stop-color="#d70000"/><stop offset=".332" stop-color="#c90000"/><stop offset=".354" stop-color="#d00"/><stop offset=".37" stop-color="#fb0000"/><stop offset=".376" stop-color="#ff0800"/><stop offset=".408" stop-color="#ff5900"/><stop offset=".457" stop-color="#fffc00"/><stop offset=".462" stop-color="#df0"/><stop offset=".468" stop-color="#a1ff12"/><stop offset=".478" stop-color="#2fff49"/><stop offset=".484" stop-color="#00ff6c"/><stop offset=".495" stop-color="#0fa"/><stop offset=".505" stop-color="#00fff4"/><stop offset=".511" stop-color="#00f0ff"/><stop offset=".554" stop-color="#005aff"/><stop offset=".57" stop-color="#002eff"/><stop offset=".592" stop-color="#0001ff"/><stop offset=".614" stop-color="#0000e1"/><stop offset=".673" stop-color="#00009e"/><stop offset=".689" stop-color="#000092"/><stop offset=".727" stop-color="#0000be"/><stop offset=".749" stop-color="#0000e0"/><stop offset=".759" stop-color="#0000f7"/><stop offset=".765" stop-color="#0008ff"/><stop offset=".77" stop-color="#001bff"/><stop offset=".786" stop-color="#0063ff"/><stop offset=".792" stop-color="#00b4ff"/><stop offset=".797" stop-color="#00faff"/><stop offset=".803" stop-color="#00fffa"/><stop offset=".851" stop-color="#00ffbd"/><stop offset=".932" stop-color="#00ff7a"/><stop offset=".965" stop-color="#00ff6e"/><stop offset="1" stop-color="#00ff6e"/></linearGradient><linearGradient id="b58"><stop offset="0" stop-color="#00ff6e"/><stop offset=".024" stop-color="#00ff64"/><stop offset=".035" stop-color="#08ff5d"/><stop offset=".062" stop-color="#41ff3f"/><stop offset=".138" stop-color="#adff0e"/><stop offset=".154" stop-color="#d4ff00"/><stop offset=".165" stop-color="#ff0"/><stop offset=".203" stop-color="#ffda00"/><stop offset=".208" stop-color="#ffad00"/><stop offset=".214" stop-color="#f60"/><stop offset=".219" stop-color="#ff4600"/><stop offset=".224" stop-color="#ff3000"/><stop offset=".235" stop-color="#ff1400"/><stop offset=".251" stop-color="#f00"/><stop offset=".3" stop-color="#ce0000"/><stop offset=".332" stop-color="#be0000"/><stop offset=".354" stop-color="#d40000"/><stop offset=".376" stop-color="#ff0200"/><stop offset=".408" stop-color="#ff5700"/><stop offset=".457" stop-color="#fffc00"/><stop offset=".462" stop-color="#df0"/><stop offset=".468" stop-color="#a1ff12"/><stop offset=".478" stop-color="#2fff49"/><stop offset=".484" stop-color="#00ff6c"/><stop offset=".495" stop-color="#0fa"/><stop offset=".505" stop-color="#00fff4"/><stop offset=".511" stop-color="#00efff"/><stop offset=".559" stop-color="#0047ff"/><stop offset=".576" stop-color="#001fff"/><stop offset=".592" stop-color="#0000fd"/><stop offset=".608" stop-color="#0000e5"/><stop offset=".673" stop-color="#000098"/><stop offset=".689" stop-color="#00008b"/><stop offset=".722" stop-color="#0000b2"/><stop offset=".759" stop-color="#0000f2"/><stop offset=".765" stop-color="#0002ff"/><stop offset=".77" stop-color="#0015ff"/><stop offset=".781" stop-color="#0041ff"/><stop offset=".786" stop-color="#005eff"/><stop offset=".792" stop-color="#00b1ff"/><stop offset=".797" stop-color="#00faff"/><stop offset=".803" stop-color="#00fffa"/><stop offset=".851" stop-color="#00ffbd"/><stop offset=".932" stop-color="#00ff7a"/><stop offset=".965" stop-color="#00ff6e"/><stop offset="1" stop-color="#00ff6e"/></linearGradient><linearGradient id="b59"><stop offset="0" stop-color="#00ff6e"/><stop offset=".024" stop-color="#00ff64"/><stop offset=".035" stop-color="#08ff5d"/><stop offset=".062" stop-color="#41ff3f"/><stop offset=".138" stop-color="#adff0e"/><stop offset=".154" stop-color="#d4ff00"/><stop offset=".165" stop-color="#ff0"/><stop offset=".203" stop-color="#ffda00"/><stop offset=".208" stop-color="#fa0"/><stop offset=".214" stop-color="#ff6100"/><stop offset=".219" stop-color="#ff4100"/><stop offset=".23" stop-color="#ff1900"/><stop offset=".246" stop-color="#ff0200"/><stop offset=".251" stop-color="#fa0000"/><stop offset=".3" stop-color="#c10000"/><stop offset=".327" stop-color="#a30000"/><stop offset=".332" stop-color="#a30000"/><stop offset=".354" stop-color="#c80000"/><stop offset=".376" stop-color="#fc0000"/><stop offset=".408" stop-color="#f50"/><stop offset=".457" stop-color="#fffc00"/><stop offset=".462" stop-color="#df0"/><stop offset=".468" stop-color="#a1ff12"/><stop offset=".478" stop-color="#2fff49"/><stop offset=".484" stop-color="#00ff6c"/><stop offset=".495" stop-color="#0fa"/><stop offset=".505" stop-color="#00fff4"/><stop offset=".511" stop-color="#00efff"/><stop offset=".559" stop-color="#0046ff"/><stop offset=".581" stop-color="#01f"/><stop offset=".592" stop-color="#0000fb"/><stop offset=".673" stop-color="#000093"/><stop offset=".689" stop-color="#000085"/><stop offset=".738" stop-color="#0000c7"/><stop offset=".754" stop-color="#0000e3"/><stop offset=".765" stop-color="#0000fe"/><stop offset=".776" stop-color="#0026ff"/><stop offset=".786" stop-color="#005bff"/><stop offset=".792" stop-color="#00b0ff"/><stop offset=".797" stop-color="#00faff"/><stop offset=".803" stop-color="#00fffa"/><stop offset=".851" stop-color="#00ffbd"/><stop offset=".932" stop-color="#00ff7a"/><stop offset=".965" stop-color="#00ff6e"/><stop offset="1" stop-color="#00ff6e"/></linearGradient></defs><g transform="translate(42.80 183.70) scale(1.00054 0.99917)"><rect y="0" width="185" height="4" fill="url(#b0)"/><rect y="2" width="185" height="4" fill="url(#b1)"/><rect y="4" width="185" height="4" fill="url(#b2)"/><rect y="6" width="185" height="4" fill="url(#b3)"/><rect y="8" width="185" height="4" fill="url(#b4)"/><rect y="10" width="185" height="4" fill="url(#b5)"/><rect y="12" width="185" height="4" fill="url(#b6)"/><rect y="14" width="185" height="4" fill="url(#b7)"/><rect y="16" width="185" height="4" fill="url(#b8)"/><rect y="18" width="185" height="4" fill="url(#b9)"/><rect y="20" width="185" height="4" fill="url(#b10)"/><rect y="22" width="185" height="4" fill="url(#b11)"/><rect y="24" width="185" height="4" fill="url(#b12)"/><rect y="26" width="185" height="4" fill="url(#b13)"/><rect y="28" width="185" height="4" fill="url(#b14)"/><rect y="30" width="185" height="4" fill="url(#b15)"/><rect y="32" width="185" height="4" fill="url(#b16)"/><rect y="34" width="185" height="4" fill="url(#b17)"/><rect y="36" width="185" height="4" fill="url(#b18)"/><rect y="38" width="185" height="4" fill="url(#b19)"/><rect y="40" width="185" height="4" fill="url(#b20)"/><rect y="42" width="185" height="4" fill="url(#b21)"/><rect y="44" width="185" height="4" fill="url(#b22)"/><rect y="46" width="185" height="4" fill="url(#b23)"/><rect y="48" width="185" height="4" fill="url(#b24)"/><rect y="50" width="185" height="4" fill="url(#b25)"/><rect y="52" width="185" height="4" fill="url(#b26)"/><rect y="54" width="185" height="4" fill="url(#b27)"/><rect y="56" width="185" height="4" fill="url(#b28)"/><rect y="58" width="185" height="4" fill="url(#b29)"/><rect y="60" width="185" height="4" fill="url(#b30)"/><rect y="62" width="185" height="4" fill="url(#b31)"/><rect y="64" width="185" height="4" fill="url(#b32)"/><rect y="66" width="185" height="4" fill="url(#b33)"/><rect y="68" width="185" height="4" fill="url(#b34)"/><rect y="70" width="185" height="4" fill="url(#b35)"/><rect y="72" width="185" height="4" fill="url(#b36)"/><rect y="74" width="185" height="4" fill="url(#b37)"/><rect y="76" width="185" height="4" fill="url(#b38)"/><rect y="78" width="185" height="4" fill="url(#b39)"/><rect y="80" width="185" height="4" fill="url(#b40)"/><rect y="82" width="185" height="4" fill="url(#b41)"/><rect y="84" width="185" height="4" fill="url(#b42)"/><rect y="86" width="185" height="4" fill="url(#b43)"/><rect y="88" width="185" height="4" fill="url(#b44)"/><rect y="90" width="185" height="4" fill="url(#b45)"/><rect y="92" width="185" height="4" fill="url(#b46)"/><rect y="94" width="185" height="4" fill="url(#b47)"/><rect y="96" width="185" height="4" fill="url(#b48)"/><rect y="98" width="185" height="4" fill="url(#b49)"/><rect y="100" width="185" height="4" fill="url(#b50)"/><rect y="102" width="185" height="4" fill="url(#b51)"/><rect y="104" width="185" height="4" fill="url(#b52)"/><rect y="106" width="185" height="4" fill="url(#b53)"/><rect y="108" width="185" height="4" fill="url(#b54)"/><rect y="110" width="185" height="4" fill="url(#b55)"/><rect y="112" width="185" height="4" fill="url(#b56)"/><rect y="114" width="185" height="4" fill="url(#b57)"/><rect y="116" width="185" height="4" fill="url(#b58)"/><rect y="118" width="185" height="2" fill="url(#b59)"/><rect x="38.09" y="0" width="1.1" height="120" fill="#000" fill-opacity=".9"/><rect x="146.01" y="0" width="1.1" height="120" fill="#000" fill-opacity=".9"/></g><rect x="231.60" y="183.70" width="7.6" height="119.90" fill="url(#cbg)"/><path d="M42.80 203.68h1.8M227.90 203.68h-1.8M42.80 223.67h1.8M227.90 223.67h-1.8M42.80 243.65h1.8M227.90 243.65h-1.8M42.80 263.63h1.8M227.90 263.63h-1.8M42.80 283.62h1.8M227.90 283.62h-1.8M73.65 303.60v-1.8M73.65 183.70v1.8M104.50 303.60v-1.8M104.50 183.70v1.8M135.35 303.60v-1.8M135.35 183.70v1.8M166.20 303.60v-1.8M166.20 183.70v1.8M197.05 303.60v-1.8M197.05 183.70v1.8M231.60 280.34h1M239.20 280.34h-1M231.60 243.65h1M239.20 243.65h-1M231.60 206.96h1M239.20 206.96h-1" stroke="#262626" stroke-opacity=".55" stroke-width=".5" fill="none"/>
<defs><linearGradient id="c0"><stop offset="0" stop-color="#00ff6e"/><stop offset=".035" stop-color="#00ff6e"/><stop offset=".105" stop-color="#00ff9a"/><stop offset=".143" stop-color="#00ffc1"/><stop offset=".181" stop-color="#00fdff"/><stop offset=".203" stop-color="#00e9ff"/><stop offset=".208" stop-color="#007bff"/><stop offset=".214" stop-color="#0039ff"/><stop offset=".224" stop-color="#0025ff"/><stop offset=".251" stop-color="#0001ff"/><stop offset=".284" stop-color="#0000cf"/><stop offset=".3" stop-color="#0000ac"/><stop offset=".316" stop-color="#008"/><stop offset=".37" stop-color="#0000fe"/><stop offset=".403" stop-color="#04f"/><stop offset=".414" stop-color="#0072ff"/><stop offset=".435" stop-color="#00f0ff"/><stop offset=".441" stop-color="#00ffe9"/><stop offset=".457" stop-color="#00ff6e"/><stop offset=".468" stop-color="#00ff63"/><stop offset=".473" stop-color="#1aff54"/><stop offset=".484" stop-color="#89ff1b"/><stop offset=".495" stop-color="#d5ff00"/><stop offset=".5" stop-color="#fbff00"/><stop offset=".505" stop-color="#ffef00"/><stop offset=".522" stop-color="#ffa800"/><stop offset=".538" stop-color="#ff4e00"/><stop offset=".549" stop-color="#ff2c00"/><stop offset=".57" stop-color="#ff0500"/><stop offset=".576" stop-color="#fb0000"/><stop offset=".614" stop-color="#c80000"/><stop offset=".657" stop-color="#850000"/><stop offset=".678" stop-color="#9b0000"/><stop offset=".705" stop-color="#c20000"/><stop offset=".743" stop-color="#e80000"/><stop offset=".754" stop-color="#fa0000"/><stop offset=".77" stop-color="#ff1c00"/><stop offset=".786" stop-color="#ff4c00"/><stop offset=".792" stop-color="#f70"/><stop offset=".797" stop-color="#ffb400"/><stop offset=".814" stop-color="#ffe300"/><stop offset=".83" stop-color="#fffd00"/><stop offset=".835" stop-color="#ff0"/><stop offset=".841" stop-color="#f2ff00"/><stop offset=".851" stop-color="#ceff01"/><stop offset=".868" stop-color="#9bff14"/><stop offset=".889" stop-color="#66ff2b"/><stop offset=".932" stop-color="#20ff51"/><stop offset=".959" stop-color="#00ff63"/><stop offset=".981" stop-color="#00ff6e"/><stop offset="1" stop-color="#00ff6e"/></linearGradient><linearGradient id="c1"><stop offset="0" stop-color="#00ff6e"/><stop offset=".035" stop-color="#00ff6e"/><stop offset=".105" stop-color="#00ff9a"/><stop offset=".143" stop-color="#00ffc1"/><stop offset=".181" stop-color="#00fdff"/><stop offset=".203" stop-color="#00e9ff"/><stop offset=".208" stop-color="#0086ff"/><stop offset=".214" stop-color="#04f"/><stop offset=".219" stop-color="#0034ff"/><stop offset=".257" stop-color="#0000fd"/><stop offset=".284" stop-color="#0000d6"/><stop offset=".3" stop-color="#0000b8"/><stop offset=".316" stop-color="#000098"/><stop offset=".365" stop-color="#0000f9"/><stop offset=".37" stop-color="#0005ff"/><stop offset=".392" stop-color="#002fff"/><stop offset=".403" stop-color="#004bff"/><stop offset=".414" stop-color="#07f"/><stop offset=".435" stop-color="#00f1ff"/><stop offset=".441" stop-color="#00ffe8"/><stop offset=".457" stop-color="#00ff6e"/><stop offset=".468" stop-color="#00ff63"/><stop offset=".473" stop-color="#1aff54"/><stop offset=".484" stop-color="#89ff1b"/><stop offset=".495" stop-color="#d5ff00"/><stop offset=".5" stop-color="#fbff00"/><stop offset=".505" stop-color="#fff000"/><stop offset=".522" stop-color="#ffab00"/><stop offset=".538" stop-color="#ff5600"/><stop offset=".543" stop-color="#ff4300"/><stop offset=".554" stop-color="#ff2700"/><stop offset=".576" stop-color="#ff0300"/><stop offset=".619" stop-color="#c90000"/><stop offset=".657" stop-color="#8f0000"/><stop offset=".738" stop-color="#e50000"/><stop offset=".754" stop-color="#fe0000"/><stop offset=".77" stop-color="#ff1d00"/><stop offset=".786" stop-color="#ff4b00"/><stop offset=".792" stop-color="#ff6e00"/><stop offset=".797" stop-color="#ffb300"/><stop offset=".814" stop-color="#ffe200"/><stop offset=".83" stop-color="#fffc00"/><stop offset=".835" stop-color="#ff0"/><stop offset=".841" stop-color="#f2ff00"/><stop offset=".851" stop-color="#ceff01"/><stop offset=".868" stop-color="#9bff14"/><stop offset=".889" stop-color="#67ff2b"/><stop offset=".932" stop-color="#20ff51"/><stop offset=".959" stop-color="#00ff63"/><stop offset=".981" stop-color="#00ff6e"/><stop offset="1" stop-color="#00ff6e"/></linearGradient><linearGradient id="c2"><stop offset="0" stop-color="#00ff6e"/><stop offset=".035" stop-color="#00ff6e"/><stop offset=".105" stop-color="#00ff9a"/><stop offset=".143" stop-color="#00ffc1"/><stop offset=".181" stop-color="#00fdff"/><stop offset=".203" stop-color="#00e9ff"/><stop offset=".208" stop-color="#0094ff"/><stop offset=".214" stop-color="#0054ff"/><stop offset=".224" stop-color="#0032ff"/><stop offset=".262" stop-color="#0000fd"/><stop offset=".3" stop-color="#0000c4"/><stop offset=".316" stop-color="#0000a7"/><stop offset=".365" stop-color="#0002ff"/><stop offset=".392" stop-color="#0036ff"/><stop offset=".403" stop-color="#0053ff"/><stop offset=".414" stop-color="#007eff"/><stop offset=".435" stop-color="#00f4ff"/><stop offset=".441" stop-color="#00ffe5"/><stop offset=".457" stop-color="#00ff6e"/><stop offset=".468" stop-color="#00ff63"/><stop offset=".473" stop-color="#1aff54"/><stop offset=".484" stop-color="#88ff1b"/><stop offset=".495" stop-color="#d4ff00"/><stop offset=".5" stop-color="#faff00"/><stop offset=".505" stop-color="#fff100"/><stop offset=".522" stop-color="#ffae00"/><stop offset=".538" stop-color="#ff5f00"/><stop offset=".543" stop-color="#ff4c00"/><stop offset=".559" stop-color="#ff2400"/><stop offset=".581" stop-color="#ff0200"/><stop offset=".624" stop-color="#cb0000"/><stop offset=".657" stop-color="#9a0000"/><stop offset=".732" stop-color="#e50000"/><stop offset=".749" stop-color="#fa0000"/><stop offset=".759" stop-color="#ff0b00"/><stop offset=".781" stop-color="#ff3b00"/><stop offset=".786" stop-color="#ff4c00"/><stop offset=".792" stop-color="#ff6b00"/><stop offset=".797" stop-color="#ffb200"/><stop offset=".814" stop-color="#ffe200"/><stop offset=".83" stop-color="#fffc00"/><stop offset=".835" stop-color="#ff0"/><stop offset=".841" stop-color="#f3ff00"/><stop offset=".851" stop-color="#ceff01"/><stop offset=".868" stop-color="#9bff14"/><stop offset=".889" stop-color="#67ff2b"/><stop offset=".932" stop-color="#20ff51"/><stop offset=".959" stop-color="#00ff63"/><stop offset=".981" stop-color="#00ff6e"/><stop offset="1" stop-color="#00ff6e"/></linearGradient><linearGradient id="c3"><stop offset="0" stop-color="#00ff6e"/><stop offset=".035" stop-color="#00ff6e"/><stop offset=".105" stop-color="#00ff9a"/><stop offset=".143" stop-color="#00ffc1"/><stop offset=".181" stop-color="#00fdff"/><stop offset=".203" stop-color="#00e9ff"/><stop offset=".208" stop-color="#009dff"/><stop offset=".214" stop-color="#0062ff"/><stop offset=".23" stop-color="#0032ff"/><stop offset=".268" stop-color="#0000fe"/><stop offset=".3" stop-color="#0000d0"/><stop offset=".316" stop-color="#0000b7"/><stop offset=".359" stop-color="#0002ff"/><stop offset=".392" stop-color="#003fff"/><stop offset=".403" stop-color="#005dff"/><stop offset=".414" stop-color="#0086ff"/><stop offset=".435" stop-color="#00f8ff"/><stop offset=".441" stop-color="#00ffe2"/><stop offset=".457" stop-color="#00ff6e"/><stop offset=".468" stop-color="#00ff63"/><stop offset=".473" stop-color="#1aff54"/><stop offset=".484" stop-color="#88ff1b"/><stop offset=".495" stop-color="#d3ff00"/><stop offset=".5" stop-color="#f9ff00"/><stop offset=".505" stop-color="#fff200"/><stop offset=".543" stop-color="#ff5600"/><stop offset=".559" stop-color="#ff2c00"/><stop offset=".586" stop-color="#ff0300"/><stop offset=".624" stop-color="#d40000"/><stop offset=".657" stop-color="#a60000"/><stop offset=".743" stop-color="#f80000"/><stop offset=".749" stop-color="#f00"/><stop offset=".759" stop-color="#ff1000"/><stop offset=".781" stop-color="#ff3e00"/><stop offset=".786" stop-color="#ff4e00"/><stop offset=".792" stop-color="#ff6b00"/><stop offset=".797" stop-color="#ffb100"/><stop offset=".814" stop-color="#ffe100"/><stop offset=".83" stop-color="#fffc00"/><stop offset=".835" stop-color="#ff0"/><stop offset=".841" stop-color="#f3ff00"/><stop offset=".851" stop-color="#cfff01"/><stop offset=".868" stop-color="#9cff14"/><stop offset=".889" stop-color="#67ff2b"/><stop offset=".932" stop-color="#20ff51"/><stop offset=".959" stop-color="#00ff63"/><stop offset=".981" stop-color="#00ff6e"/><stop offset="1" stop-color="#00ff6e"/></linearGradient><linearGradient id="c4"><stop offset="0" stop-color="#00ff6e"/><stop offset=".035" stop-color="#00ff6e"/><stop offset=".105" stop-color="#00ff9a"/><stop offset=".143" stop-color="#00ffc1"/><stop offset=".181" stop-color="#00fdff"/><stop offset=".203" stop-color="#00e9ff"/><stop offset=".208" stop-color="#00a5ff"/><stop offset=".214" stop-color="#006eff"/><stop offset=".219" stop-color="#005aff"/><stop offset=".235" stop-color="#0034ff"/><stop offset=".273" stop-color="#0002ff"/><stop offset=".3" stop-color="#0000dc"/><stop offset=".316" stop-color="#0000c6"/><stop offset=".354" stop-color="#0002ff"/><stop offset=".381" stop-color="#0034ff"/><stop offset=".397" stop-color="#0058ff"/><stop offset=".408" stop-color="#0079ff"/><stop offset=".424" stop-color="#00c2ff"/><stop offset=".435" stop-color="#00fdff"/><stop offset=".457" stop-color="#00ff6e"/><stop offset=".468" stop-color="#00ff63"/><stop offset=".473" stop-color="#19ff54"/><stop offset=".484" stop-color="#87ff1b"/><stop offset=".495" stop-color="#d2ff00"/><stop offset=".5" stop-color="#f7ff00"/><stop offset=".505" stop-color="#fff300"/><stop offset=".538" stop-color="#ff7200"/><stop offset=".549" stop-color="#ff5000"/><stop offset=".57" stop-color="#ff2100"/><stop offset=".592" stop-color="#ff0300"/><stop offset=".619" stop-color="#e50000"/><stop offset=".657" stop-color="#b10000"/><stop offset=".668" stop-color="#b70000"/><stop offset=".743" stop-color="#fe0000"/><stop offset=".765" stop-color="#ff1e00"/><stop offset=".786" stop-color="#ff5100"/><stop offset=".792" stop-color="#ff6d00"/><stop offset=".797" stop-color="#ffb000"/><stop offset=".814" stop-color="#ffe100"/><stop offset=".83" stop-color="#fffc00"/><stop offset=".835" stop-color="#ff0"/><stop offset=".841" stop-color="#f3ff00"/><stop offset=".851" stop-color="#cfff01"/><stop offset=".868" stop-color="#9cff14"/><stop offset=".889" stop-color="#67ff2b"/><stop offset=".932" stop-color="#20ff51"/><stop offset=".959" stop-color="#00ff63"/><stop offset=".981" stop-color="#00ff6e"/><stop offset="1" stop-color="#00ff6e"/></linearGradient><linearGradient id="c5"><stop offset="0" stop-color="#00ff6e"/><stop offset=".035" stop-color="#00ff6e"/><stop offset=".105" stop-color="#00ff9a"/><stop offset=".143" stop-color="#00ffc1"/><stop offset=".181" stop-color="#00fdff"/><stop offset=".203" stop-color="#00e9ff"/><stop offset=".208" stop-color="#00acff"/><stop offset=".214" stop-color="#007aff"/><stop offset=".224" stop-color="#0057ff"/><stop offset=".246" stop-color="#002fff"/><stop offset=".284" stop-color="#0000fe"/><stop offset=".3" stop-color="#0000e9"/><stop offset=".316" stop-color="#0000d5"/><stop offset=".349" stop-color="#0005ff"/><stop offset=".381" stop-color="#0040ff"/><stop offset=".403" stop-color="#0072ff"/><stop offset=".414" stop-color="#09f"/><stop offset=".43" stop-color="#00e5ff"/><stop offset=".435" stop-color="#00fffa"/><stop offset=".451" stop-color="#00ff8a"/><stop offset=".457" stop-color="#00ff6e"/><stop offset=".468" stop-color="#00ff63"/><stop offset=".473" stop-color="#19ff55"/><stop offset=".484" stop-color="#86ff1c"/><stop offset=".495" stop-color="#d1ff00"/><stop offset=".5" stop-color="#f6ff00"/><stop offset=".505" stop-color="#fff400"/><stop offset=".538" stop-color="#ff7b00"/><stop offset=".549" stop-color="#ff5900"/><stop offset=".57" stop-color="#ff2900"/><stop offset=".592" stop-color="#ff0a00"/><stop offset=".603" stop-color="#f00"/><stop offset=".614" stop-color="#f40000"/><stop offset=".657" stop-color="#bd0000"/><stop offset=".662" stop-color="#bd0000"/><stop offset=".738" stop-color="#fe0000"/><stop offset=".759" stop-color="#ff1900"/><stop offset=".781" stop-color="#ff4500"/><stop offset=".786" stop-color="#f50"/><stop offset=".792" stop-color="#ff7200"/><stop offset=".797" stop-color="#ffb000"/><stop offset=".814" stop-color="#ffe100"/><stop offset=".83" stop-color="#fffc00"/><stop offset=".835" stop-color="#ff0"/><stop offset=".841" stop-color="#f3ff00"/><stop offset=".851" stop-color="#cfff01"/><stop offset=".868" stop-color="#9cff14"/><stop offset=".889" stop-color="#67ff2b"/><stop offset=".932" stop-color="#20ff51"/><stop offset=".959" stop-color="#00ff63"/><stop offset=".981" stop-color="#00ff6e"/><stop offset="1" stop-color="#00ff6e"/></linearGradient><linearGradient id="c6"><stop offset="0" stop-color="#00ff6e"/><stop offset=".035" stop-color="#00ff6e"/><stop offset=".105" stop-color="#00ff9a"/><stop offset=".143" stop-color="#00ffc1"/><stop offset=".181" stop-color="#00fdff"/><stop offset=".203" stop-color="#00e9ff"/><stop offset=".208" stop-color="#00b3ff"/><stop offset=".214" stop-color="#0086ff"/><stop offset=".219" stop-color="#0070ff"/><stop offset=".224" stop-color="#0062ff"/><stop offset=".257" stop-color="#002dff"/><stop offset=".289" stop-color="#0006ff"/><stop offset=".3" stop-color="#0000f7"/><stop offset=".316" stop-color="#0000e5"/><stop offset=".338" stop-color="#0000fe"/><stop offset=".376" stop-color="#0042ff"/><stop offset=".403" stop-color="#007dff"/><stop offset=".419" stop-color="#00b9ff"/><stop offset=".43" stop-color="#00edff"/><stop offset=".435" stop-color="#00fff2"/><stop offset=".451" stop-color="#00ff84"/><stop offset=".457" stop-color="#00ff6e"/><stop offset=".468" stop-color="#00ff63"/><stop offset=".473" stop-color="#18ff55"/><stop offset=".484" stop-color="#85ff1c"/><stop offset=".495" stop-color="#cfff01"/><stop offset=".5" stop-color="#f4ff00"/><stop offset=".505" stop-color="#fff500"/><stop offset=".549" stop-color="#ff6200"/><stop offset=".576" stop-color="#ff2800"/><stop offset=".597" stop-color="#ff0c00"/><stop offset=".614" stop-color="#fc0000"/><stop offset=".657" stop-color="#c90000"/><stop offset=".662" stop-color="#c80000"/><stop offset=".732" stop-color="#f00"/><stop offset=".759" stop-color="#ff1e00"/><stop offset=".781" stop-color="#ff4a00"/><stop offset=".786" stop-color="#ff5a00"/><stop offset=".792" stop-color="#ff7900"/><stop offset=".797" stop-color="#ffb000"/><stop offset=".814" stop-color="#ffe100"/><stop offset=".83" stop-color="#fffc00"/><stop offset=".835" stop-color="#ff0"/><stop offset=".841" stop-color="#f3ff00"/><stop offset=".851" stop-color="#cfff01"/><stop offset=".868" stop-color="#9cff14"/><stop offset=".889" stop-color="#67ff2b"/><stop offset=".905" stop-color="#49ff3b"/><stop offset=".938" stop-color="#18ff55"/><stop offset=".959" stop-color="#00ff63"/><stop offset=".981" stop-color="#00ff6e"/><stop offset="1" stop-color="#00ff6e"/></linearGradient><linearGradient id="c7"><stop offset="0" stop-color="#00ff6e"/><stop offset=".035" stop-color="#00ff6e"/><stop offset=".105" stop-color="#00ff9a"/><stop offset=".143" stop-color="#00ffc1"/><stop offset=".181" stop-color="#00fdff"/><stop offset=".203" stop-color="#00e9ff"/><stop offset=".208" stop-color="#00baff"/><stop offset=".214" stop-color="#0093ff"/><stop offset=".219" stop-color="#007aff"/><stop offset=".23" stop-color="#0061ff"/><stop offset=".305" stop-color="#00f"/><stop offset=".311" stop-color="#0000f9"/><stop offset=".316" stop-color="#0000f5"/><stop offset=".327" stop-color="#0000fe"/><stop offset=".332" stop-color="#0006ff"/><stop offset=".392" stop-color="#006dff"/><stop offset=".408" stop-color="#09f"/><stop offset=".419" stop-color="#00c3ff"/><stop offset=".43" stop-color="#00f6ff"/><stop offset=".435" stop-color="#00ffe9"/><stop offset=".451" stop-color="#00ff7e"/><stop offset=".457" stop-color="#00ff6e"/><stop offset=".468" stop-color="#00ff64"/><stop offset=".473" stop-color="#17ff55"/><stop offset=".478" stop-color="#49ff3b"/><stop offset=".484" stop-color="#84ff1d"/><stop offset=".495" stop-color="#cdff02"/><stop offset=".5" stop-color="#f2ff00"/><stop offset=".505" stop-color="#fff600"/><stop offset=".543" stop-color="#ff7c00"/><stop offset=".554" stop-color="#ff5e00"/><stop offset=".581" stop-color="#ff2800"/><stop offset=".597" stop-color="#ff1300"/><stop offset=".619" stop-color="#fe0000"/><stop offset=".662" stop-color="#d40000"/><stop offset=".722" stop-color="#fd0000"/><stop offset=".738" stop-color="#ff0a00"/><stop offset=".754" stop-color="#ff1c00"/><stop offset=".781" stop-color="#ff4f00"/><stop offset=".786" stop-color="#ff6000"/><stop offset=".792" stop-color="#ff8200"/><stop offset=".797" stop-color="#ffb100"/><stop offset=".814" stop-color="#ffe100"/><stop offset=".83" stop-color="#fffc00"/><stop offset=".835" stop-color="#ff0"/><stop offset=".841" stop-color="#f3ff00"/><stop offset=".851" stop-color="#cfff01"/><stop offset=".868" stop-color="#9cff14"/><stop offset=".889" stop-color="#67ff2b"/><stop offset=".905" stop-color="#48ff3b"/><stop offset=".938" stop-color="#18ff55"/><stop offset=".959" stop-color="#00ff63"/><stop offset=".981" stop-color="#00ff6e"/><stop offset="1" stop-color="#00ff6e"/></linearGradient><linearGradient id="c8"><stop offset="0" stop-color="#00ff6e"/><stop offset=".035" stop-color="#00ff6e"/><stop offset=".105" stop-color="#00ff9a"/><stop offset=".143" stop-color="#00ffc1"/><stop offset=".181" stop-color="#00fdff"/><stop offset=".203" stop-color="#00e9ff"/><stop offset=".214" stop-color="#009bff"/><stop offset=".219" stop-color="#0085ff"/><stop offset=".23" stop-color="#006aff"/><stop offset=".246" stop-color="#0054ff"/><stop offset=".316" stop-color="#0009ff"/><stop offset=".338" stop-color="#0020ff"/><stop offset=".392" stop-color="#0078ff"/><stop offset=".403" stop-color="#0093ff"/><stop offset=".414" stop-color="#00b8ff"/><stop offset=".43" stop-color="#0ff"/><stop offset=".451" stop-color="#0f7"/><stop offset=".468" stop-color="#00ff64"/><stop offset=".473" stop-color="#16ff56"/><stop offset=".478" stop-color="#47ff3c"/><stop offset=".484" stop-color="#82ff1d"/><stop offset=".495" stop-color="#cbff02"/><stop offset=".5" stop-color="#efff00"/><stop offset=".505" stop-color="#fff800"/><stop offset=".554" stop-color="#ff6700"/><stop offset=".592" stop-color="#ff2100"/><stop offset=".624" stop-color="#ff0200"/><stop offset=".662" stop-color="#e00000"/><stop offset=".711" stop-color="#fc0000"/><stop offset=".727" stop-color="#ff0700"/><stop offset=".749" stop-color="#ff1b00"/><stop offset=".776" stop-color="#ff4800"/><stop offset=".786" stop-color="#ff6700"/><stop offset=".797" stop-color="#ffb300"/><stop offset=".814" stop-color="#ffe200"/><stop offset=".83" stop-color="#fffc00"/><stop offset=".835" stop-color="#ff0"/><stop offset=".841" stop-color="#f3ff00"/><stop offset=".851" stop-color="#cfff01"/><stop offset=".868" stop-color="#9cff14"/><stop offset=".889" stop-color="#67ff2b"/><stop offset=".905" stop-color="#48ff3b"/><stop offset=".938" stop-color="#18ff55"/><stop offset=".959" stop-color="#00ff63"/><stop offset=".981" stop-color="#00ff6e"/><stop offset="1" stop-color="#00ff6e"/></linearGradient><linearGradient id="c9"><stop offset="0" stop-color="#00ff6e"/><stop offset=".035" stop-color="#00ff6e"/><stop offset=".105" stop-color="#00ff9a"/><stop offset=".143" stop-color="#00ffc1"/><stop offset=".181" stop-color="#00fdff"/><stop offset=".203" stop-color="#00eaff"/><stop offset=".214" stop-color="#00a2ff"/><stop offset=".224" stop-color="#007fff"/><stop offset=".235" stop-color="#006aff"/><stop offset=".316" stop-color="#001fff"/><stop offset=".338" stop-color="#0031ff"/><stop offset=".386" stop-color="#0079ff"/><stop offset=".397" stop-color="#0091ff"/><stop offset=".408" stop-color="#00b0ff"/><stop offset=".424" stop-color="#00efff"/><stop offset=".43" stop-color="#00fff4"/><stop offset=".451" stop-color="#00ff70"/><stop offset=".462" stop-color="#00ff6d"/><stop offset=".468" stop-color="#00ff64"/><stop offset=".473" stop-color="#14ff57"/><stop offset=".478" stop-color="#44ff3e"/><stop offset=".484" stop-color="#7fff1f"/><stop offset=".495" stop-color="#c8ff03"/><stop offset=".5" stop-color="#ecff00"/><stop offset=".505" stop-color="#fffb00"/><stop offset=".559" stop-color="#ff6400"/><stop offset=".597" stop-color="#ff2300"/><stop offset=".635" stop-color="#f00"/><stop offset=".662" stop-color="#ec0000"/><stop offset=".705" stop-color="#f00"/><stop offset=".749" stop-color="#ff2000"/><stop offset=".776" stop-color="#ff4e00"/><stop offset=".786" stop-color="#ff7000"/><stop offset=".792" stop-color="#ff9700"/><stop offset=".797" stop-color="#ffb500"/><stop offset=".814" stop-color="#ffe300"/><stop offset=".83" stop-color="#fffd00"/><stop offset=".835" stop-color="#ff0"/><stop offset=".841" stop-color="#f2ff00"/><stop offset=".851" stop-color="#ceff01"/><stop offset=".868" stop-color="#9bff14"/><stop offset=".889" stop-color="#66ff2b"/><stop offset=".932" stop-color="#20ff51"/><stop offset=".959" stop-color="#00ff63"/><stop offset=".981" stop-color="#00ff6e"/><stop offset="1" stop-color="#00ff6e"/></linearGradient><linearGradient id="c10"><stop offset="0" stop-color="#00ff6e"/><stop offset=".035" stop-color="#00ff6e"/><stop offset=".105" stop-color="#00ff9a"/><stop offset=".143" stop-color="#00ffc1"/><stop offset=".181" stop-color="#00fdff"/><stop offset=".203" stop-color="#00eaff"/><stop offset=".214" stop-color="#0af"/><stop offset=".224" stop-color="#008aff"/><stop offset=".235" stop-color="#0073ff"/><stop offset=".257" stop-color="#005cff"/><stop offset=".316" stop-color="#03f"/><stop offset=".327" stop-color="#0037ff"/><stop offset=".343" stop-color="#0047ff"/><stop offset=".386" stop-color="#0085ff"/><stop offset=".408" stop-color="#00bcff"/><stop offset=".424" stop-color="#00fbff"/><stop offset=".43" stop-color="#00ffe7"/><stop offset=".446" stop-color="#00ff85"/><stop offset=".451" stop-color="#00ff6e"/><stop offset=".462" stop-color="#00ff6e"/><stop offset=".468" stop-color="#00ff65"/><stop offset=".473" stop-color="#12ff58"/><stop offset=".478" stop-color="#40ff40"/><stop offset=".484" stop-color="#7bff21"/><stop offset=".489" stop-color="#a1ff12"/><stop offset=".495" stop-color="#c5ff05"/><stop offset=".5" stop-color="#e8ff00"/><stop offset=".505" stop-color="#fffd00"/><stop offset=".559" stop-color="#ff6d00"/><stop offset=".597" stop-color="#ff2c00"/><stop offset=".641" stop-color="#ff0200"/><stop offset=".662" stop-color="#f40000"/><stop offset=".695" stop-color="#fe0000"/><stop offset=".743" stop-color="#ff2000"/><stop offset=".77" stop-color="#ff4900"/><stop offset=".781" stop-color="#ff6400"/><stop offset=".786" stop-color="#ff7c00"/><stop offset=".792" stop-color="#ffa200"/><stop offset=".797" stop-color="#ffb800"/><stop offset=".814" stop-color="#ffe500"/><stop offset=".83" stop-color="#fffd00"/><stop offset=".835" stop-color="#ff0"/><stop offset=".851" stop-color="#cdff02"/><stop offset=".868" stop-color="#9bff14"/><stop offset=".889" stop-color="#66ff2c"/><stop offset=".932" stop-color="#1fff51"/><stop offset=".959" stop-color="#00ff63"/><stop offset=".981" stop-color="#00ff6e"/><stop offset="1" stop-color="#00ff6e"/></linearGradient><linearGradient id="c11"><stop offset="0" stop-color="#00ff6e"/><stop offset=".035" stop-color="#00ff6e"/><stop offset=".105" stop-color="#00ff9a"/><stop offset=".143" stop-color="#00ffc0"/><stop offset=".181" stop-color="#00feff"/><stop offset=".203" stop-color="#00eaff"/><stop offset=".208" stop-color="#00d3ff"/><stop offset=".214" stop-color="#00b2ff"/><stop offset=".219" stop-color="#00a0ff"/><stop offset=".241" stop-color="#0075ff"/><stop offset=".262" stop-color="#0062ff"/><stop offset=".316" stop-color="#0045ff"/><stop offset=".343" stop-color="#0054ff"/><stop offset=".376" stop-color="#007eff"/><stop offset=".397" stop-color="#0af"/><stop offset=".408" stop-color="#00c9ff"/><stop offset=".419" stop-color="#00efff"/><stop offset=".424" stop-color="#00fff6"/><stop offset=".446" stop-color="#00ff7b"/><stop offset=".451" stop-color="#00ff6e"/><stop offset=".462" stop-color="#00ff6e"/><stop offset=".468" stop-color="#00ff65"/><stop offset=".473" stop-color="#10ff59"/><stop offset=".478" stop-color="#3bff43"/><stop offset=".484" stop-color="#76ff23"/><stop offset=".489" stop-color="#9dff13"/><stop offset=".495" stop-color="#c0ff06"/><stop offset=".505" stop-color="#ff0"/><stop offset=".559" stop-color="#f70"/><stop offset=".576" stop-color="#ff5700"/><stop offset=".614" stop-color="#f20"/><stop offset=".641" stop-color="#ff0800"/><stop offset=".657" stop-color="#fd0000"/><stop offset=".684" stop-color="#f00"/><stop offset=".7" stop-color="#ff0700"/><stop offset=".732" stop-color="#ff1c00"/><stop offset=".754" stop-color="#f30"/><stop offset=".776" stop-color="#ff5c00"/><stop offset=".781" stop-color="#ff6d00"/><stop offset=".792" stop-color="#ffab00"/><stop offset=".808" stop-color="#ffd900"/><stop offset=".819" stop-color="#fff000"/><stop offset=".835" stop-color="#feff00"/><stop offset=".851" stop-color="#cbff02"/><stop offset=".873" stop-color="#8bff1a"/><stop offset=".889" stop-color="#65ff2c"/><stop offset=".911" stop-color="#3fff40"/><stop offset=".954" stop-color="#03ff60"/><stop offset=".981" stop-color="#00ff6e"/><stop offset="1" stop-color="#00ff6e"/></linearGradient><linearGradient id="c12"><stop offset="0" stop-color="#00ff6e"/><stop offset=".035" stop-color="#00ff6e"/><stop offset=".105" stop-color="#00ff9a"/><stop offset=".143" stop-color="#00ffc0"/><stop offset=".181" stop-color="#00feff"/><stop offset=".203" stop-color="#00ebff"/><stop offset=".208" stop-color="#00d9ff"/><stop offset=".214" stop-color="#00baff"/><stop offset=".219" stop-color="#00a8ff"/><stop offset=".241" stop-color="#007eff"/><stop offset=".262" stop-color="#006bff"/><stop offset=".316" stop-color="#0053ff"/><stop offset=".343" stop-color="#0060ff"/><stop offset=".376" stop-color="#008aff"/><stop offset=".403" stop-color="#00c6ff"/><stop offset=".419" stop-color="#00fcff"/><stop offset=".424" stop-color="#00ffe8"/><stop offset=".446" stop-color="#00ff72"/><stop offset=".462" stop-color="#00ff6e"/><stop offset=".468" stop-color="#0f6"/><stop offset=".473" stop-color="#0dff5b"/><stop offset=".478" stop-color="#35ff46"/><stop offset=".484" stop-color="#6fff27"/><stop offset=".489" stop-color="#98ff15"/><stop offset=".5" stop-color="#deff00"/><stop offset=".505" stop-color="#ff0"/><stop offset=".565" stop-color="#ff7500"/><stop offset=".581" stop-color="#ff5700"/><stop offset=".635" stop-color="#ff1400"/><stop offset=".668" stop-color="#f00"/><stop offset=".722" stop-color="#ff1a00"/><stop offset=".754" stop-color="#ff3a00"/><stop offset=".776" stop-color="#ff6500"/><stop offset=".781" stop-color="#ff7a00"/><stop offset=".792" stop-color="#ffb200"/><stop offset=".808" stop-color="#ffdc00"/><stop offset=".819" stop-color="#fff200"/><stop offset=".83" stop-color="#ff0"/><stop offset=".835" stop-color="#fcff00"/><stop offset=".851" stop-color="#caff03"/><stop offset=".868" stop-color="#98ff15"/><stop offset=".884" stop-color="#70ff26"/><stop offset=".9" stop-color="#50ff37"/><stop offset=".932" stop-color="#1fff52"/><stop offset=".954" stop-color="#02ff60"/><stop offset=".981" stop-color="#00ff6e"/><stop offset="1" stop-color="#00ff6e"/></linearGradient><linearGradient id="c13"><stop offset="0" stop-color="#00ff6e"/><stop offset=".035" stop-color="#00ff6e"/><stop offset=".105" stop-color="#0f9"/><stop offset=".149" stop-color="#00ffc7"/><stop offset=".181" stop-color="#0ff"/><stop offset=".203" stop-color="#00ebff"/><stop offset=".208" stop-color="#00e0ff"/><stop offset=".214" stop-color="#00c3ff"/><stop offset=".219" stop-color="#00b0ff"/><stop offset=".246" stop-color="#0081ff"/><stop offset=".268" stop-color="#0072ff"/><stop offset=".322" stop-color="#005fff"/><stop offset=".343" stop-color="#006aff"/><stop offset=".37" stop-color="#008dff"/><stop offset=".397" stop-color="#00c5ff"/><stop offset=".414" stop-color="#00f6ff"/><stop offset=".419" stop-color="#00fff2"/><stop offset=".441" stop-color="#00ff81"/><stop offset=".446" stop-color="#00ff6e"/><stop offset=".462" stop-color="#00ff6e"/><stop offset=".468" stop-color="#00ff67"/><stop offset=".473" stop-color="#09ff5d"/><stop offset=".478" stop-color="#2fff49"/><stop offset=".484" stop-color="#67ff2b"/><stop offset=".489" stop-color="#93ff17"/><stop offset=".5" stop-color="#d7ff00"/><stop offset=".505" stop-color="#f8ff00"/><stop offset=".511" stop-color="#fff700"/><stop offset=".581" stop-color="#ff6000"/><stop offset=".635" stop-color="#ff1c00"/><stop offset=".651" stop-color="#ff0d00"/><stop offset=".668" stop-color="#ff0500"/><stop offset=".689" stop-color="#ff0c00"/><stop offset=".727" stop-color="#ff2400"/><stop offset=".743" stop-color="#f30"/><stop offset=".759" stop-color="#ff4a00"/><stop offset=".776" stop-color="#ff7100"/><stop offset=".786" stop-color="#ffa500"/><stop offset=".792" stop-color="#ffb700"/><stop offset=".814" stop-color="#ffeb00"/><stop offset=".83" stop-color="#ff0"/><stop offset=".835" stop-color="#faff00"/><stop offset=".851" stop-color="#c7ff04"/><stop offset=".868" stop-color="#96ff16"/><stop offset=".884" stop-color="#6fff27"/><stop offset=".9" stop-color="#4fff38"/><stop offset=".932" stop-color="#1eff52"/><stop offset=".954" stop-color="#02ff61"/><stop offset=".981" stop-color="#00ff6e"/><stop offset="1" stop-color="#00ff6e"/></linearGradient><linearGradient id="c14"><stop offset="0" stop-color="#00ff6e"/><stop offset=".035" stop-color="#00ff6e"/><stop offset=".105" stop-color="#0f9"/><stop offset=".143" stop-color="#00ffc0"/><stop offset=".181" stop-color="#00fffe"/><stop offset=".208" stop-color="#00e6ff"/><stop offset=".214" stop-color="#0cf"/><stop offset=".224" stop-color="#00acff"/><stop offset=".251" stop-color="#0085ff"/><stop offset=".322" stop-color="#006bff"/><stop offset=".338" stop-color="#0071ff"/><stop offset=".359" stop-color="#0089ff"/><stop offset=".386" stop-color="#00bcff"/><stop offset=".408" stop-color="#00f2ff"/><stop offset=".414" stop-color="#00fff9"/><stop offset=".441" stop-color="#00ff76"/><stop offset=".446" stop-color="#00ff6e"/><stop offset=".462" stop-color="#00ff6e"/><stop offset=".468" stop-color="#00ff68"/><stop offset=".473" stop-color="#05ff5f"/><stop offset=".478" stop-color="#27ff4d"/><stop offset=".489" stop-color="#8cff1a"/><stop offset=".5" stop-color="#d0ff01"/><stop offset=".505" stop-color="#efff00"/><stop offset=".511" stop-color="#fffc00"/><stop offset=".581" stop-color="#ff6a00"/><stop offset=".635" stop-color="#ff2400"/><stop offset=".668" stop-color="#ff0b00"/><stop offset=".727" stop-color="#ff2b00"/><stop offset=".754" stop-color="#ff4a00"/><stop offset=".77" stop-color="#ff6b00"/><stop offset=".786" stop-color="#ffb000"/><stop offset=".808" stop-color="#ffe400"/><stop offset=".824" stop-color="#fffc00"/><stop offset=".83" stop-color="#ff0"/><stop offset=".835" stop-color="#f7ff00"/><stop offset=".846" stop-color="#d6ff00"/><stop offset=".868" stop-color="#94ff17"/><stop offset=".889" stop-color="#62ff2e"/><stop offset=".938" stop-color="#15ff56"/><stop offset=".954" stop-color="#01ff61"/><stop offset=".981" stop-color="#00ff6e"/><stop offset="1" stop-color="#00ff6e"/></linearGradient><linearGradient id="c15"><stop offset="0" stop-color="#00ff6e"/><stop offset=".035" stop-color="#00ff6e"/><stop offset=".105" stop-color="#0f9"/><stop offset=".143" stop-color="#00ffbf"/><stop offset=".181" stop-color="#00fffc"/><stop offset=".208" stop-color="#00e8ff"/><stop offset=".224" stop-color="#00b5ff"/><stop offset=".235" stop-color="#00a2ff"/><stop offset=".251" stop-color="#0090ff"/><stop offset=".268" stop-color="#0086ff"/><stop offset=".322" stop-color="#0076ff"/><stop offset=".338" stop-color="#007cff"/><stop offset=".354" stop-color="#008eff"/><stop offset=".381" stop-color="#00c0ff"/><stop offset=".403" stop-color="#00f2ff"/><stop offset=".408" stop-color="#00fffc"/><stop offset=".414" stop-color="#00ffe7"/><stop offset=".435" stop-color="#00ff80"/><stop offset=".441" stop-color="#00ff6e"/><stop offset=".462" stop-color="#00ff6e"/><stop offset=".473" stop-color="#02ff61"/><stop offset=".478" stop-color="#1fff51"/><stop offset=".489" stop-color="#84ff1d"/><stop offset=".5" stop-color="#c7ff04"/><stop offset=".511" stop-color="#ff0"/><stop offset=".586" stop-color="#ff6c00"/><stop offset=".624" stop-color="#ff4000"/><stop offset=".641" stop-color="#ff2700"/><stop offset=".668" stop-color="#f10"/><stop offset=".722" stop-color="#ff2e00"/><stop offset=".754" stop-color="#ff5200"/><stop offset=".77" stop-color="#ff7900"/><stop offset=".781" stop-color="#ffa700"/><stop offset=".786" stop-color="#ffb800"/><stop offset=".808" stop-color="#ffe900"/><stop offset=".824" stop-color="#fffe00"/><stop offset=".83" stop-color="#ff0"/><stop offset=".846" stop-color="#d2ff00"/><stop offset=".868" stop-color="#91ff18"/><stop offset=".884" stop-color="#6bff29"/><stop offset=".9" stop-color="#4cff39"/><stop offset=".938" stop-color="#14ff57"/><stop offset=".954" stop-color="#00ff61"/><stop offset=".981" stop-color="#00ff6e"/><stop offset="1" stop-color="#00ff6e"/></linearGradient><linearGradient id="c16"><stop offset="0" stop-color="#00ff6e"/><stop offset=".035" stop-color="#00ff6e"/><stop offset=".105" stop-color="#00ff98"/><stop offset=".143" stop-color="#00ffbe"/><stop offset=".181" stop-color="#00fffa"/><stop offset=".186" stop-color="#00fcff"/><stop offset=".208" stop-color="#00eaff"/><stop offset=".23" stop-color="#00b4ff"/><stop offset=".246" stop-color="#009fff"/><stop offset=".268" stop-color="#0092ff"/><stop offset=".322" stop-color="#0081ff"/><stop offset=".338" stop-color="#08f"/><stop offset=".349" stop-color="#0094ff"/><stop offset=".37" stop-color="#0bf"/><stop offset=".397" stop-color="#00f5ff"/><stop offset=".403" stop-color="#00fffa"/><stop offset=".408" stop-color="#00ffe8"/><stop offset=".435" stop-color="#00ff75"/><stop offset=".441" stop-color="#00ff6e"/><stop offset=".468" stop-color="#00ff6c"/><stop offset=".473" stop-color="#00ff63"/><stop offset=".478" stop-color="#17ff56"/><stop offset=".484" stop-color="#43ff3f"/><stop offset=".489" stop-color="#78ff22"/><stop offset=".495" stop-color="#9cff14"/><stop offset=".505" stop-color="#dbff00"/><stop offset=".511" stop-color="#f8ff00"/><stop offset=".516" stop-color="#fff900"/><stop offset=".586" stop-color="#f70"/><stop offset=".63" stop-color="#ff4300"/><stop offset=".646" stop-color="#ff2a00"/><stop offset=".668" stop-color="#ff1800"/><stop offset=".711" stop-color="#ff2d00"/><stop offset=".749" stop-color="#ff5400"/><stop offset=".765" stop-color="#ff7600"/><stop offset=".781" stop-color="#ffb300"/><stop offset=".797" stop-color="#ffd800"/><stop offset=".808" stop-color="#ffed00"/><stop offset=".824" stop-color="#ff0"/><stop offset=".83" stop-color="#fbff00"/><stop offset=".846" stop-color="#cdff02"/><stop offset=".862" stop-color="#9cff14"/><stop offset=".884" stop-color="#68ff2b"/><stop offset=".9" stop-color="#4aff3a"/><stop offset=".932" stop-color="#1bff54"/><stop offset=".954" stop-color="#00ff62"/><stop offset=".981" stop-color="#00ff6e"/><stop offset="1" stop-color="#00ff6e"/></linearGradient><linearGradient id="c17"><stop offset="0" stop-color="#00ff6e"/><stop offset=".035" stop-color="#00ff6e"/><stop offset=".111" stop-color="#00ff9c"/><stop offset=".149" stop-color="#00ffc4"/><stop offset=".186" stop-color="#0ff"/><stop offset=".214" stop-color="#00e7ff"/><stop offset=".23" stop-color="#00beff"/><stop offset=".246" stop-color="#00a8ff"/><stop offset=".322" stop-color="#008fff"/><stop offset=".332" stop-color="#0092ff"/><stop offset=".349" stop-color="#00a4ff"/><stop offset=".392" stop-color="#00faff"/><stop offset=".403" stop-color="#00ffe5"/><stop offset=".43" stop-color="#00ff7b"/><stop offset=".435" stop-color="#00ff6e"/><stop offset=".468" stop-color="#00ff6e"/><stop offset=".473" stop-color="#00ff65"/><stop offset=".478" stop-color="#0eff5a"/><stop offset=".484" stop-color="#34ff46"/><stop offset=".489" stop-color="#69ff2a"/><stop offset=".495" stop-color="#91ff18"/><stop offset=".505" stop-color="#ceff01"/><stop offset=".516" stop-color="#ff0"/><stop offset=".592" stop-color="#ff7c00"/><stop offset=".63" stop-color="#ff4e00"/><stop offset=".651" stop-color="#ff2d00"/><stop offset=".673" stop-color="#ff1f00"/><stop offset=".711" stop-color="#ff3600"/><stop offset=".749" stop-color="#ff5f00"/><stop offset=".759" stop-color="#f70"/><stop offset=".776" stop-color="#ffb000"/><stop offset=".792" stop-color="#ffd500"/><stop offset=".803" stop-color="#ffea00"/><stop offset=".819" stop-color="#fffd00"/><stop offset=".824" stop-color="#ff0"/><stop offset=".83" stop-color="#f6ff00"/><stop offset=".846" stop-color="#c7ff04"/><stop offset=".862" stop-color="#98ff15"/><stop offset=".884" stop-color="#65ff2d"/><stop offset=".938" stop-color="#11ff58"/><stop offset=".954" stop-color="#00ff63"/><stop offset=".976" stop-color="#00ff6d"/><stop offset="1" stop-color="#00ff6e"/></linearGradient><linearGradient id="c18"><stop offset="0" stop-color="#00ff6e"/><stop offset=".035" stop-color="#00ff6e"/><stop offset=".111" stop-color="#00ff9b"/><stop offset=".143" stop-color="#0fb"/><stop offset=".192" stop-color="#00fdff"/><stop offset=".214" stop-color="#00ebff"/><stop offset=".235" stop-color="#00c1ff"/><stop offset=".251" stop-color="#00b0ff"/><stop offset=".295" stop-color="#0af"/><stop offset=".322" stop-color="#009fff"/><stop offset=".332" stop-color="#00a2ff"/><stop offset=".349" stop-color="#00b4ff"/><stop offset=".381" stop-color="#00f6ff"/><stop offset=".386" stop-color="#00fffc"/><stop offset=".397" stop-color="#00ffdf"/><stop offset=".43" stop-color="#00ff71"/><stop offset=".468" stop-color="#00ff6e"/><stop offset=".473" stop-color="#00ff68"/><stop offset=".478" stop-color="#06ff5f"/><stop offset=".484" stop-color="#26ff4e"/><stop offset=".495" stop-color="#85ff1c"/><stop offset=".5" stop-color="#a5ff11"/><stop offset=".511" stop-color="#dbff00"/><stop offset=".516" stop-color="#f4ff00"/><stop offset=".522" stop-color="#fffd00"/><stop offset=".586" stop-color="#ff9100"/><stop offset=".624" stop-color="#ff6300"/><stop offset=".657" stop-color="#ff3100"/><stop offset=".673" stop-color="#ff2600"/><stop offset=".7" stop-color="#ff3600"/><stop offset=".743" stop-color="#ff6500"/><stop offset=".754" stop-color="#ff7a00"/><stop offset=".77" stop-color="#ffae00"/><stop offset=".792" stop-color="#ffde00"/><stop offset=".803" stop-color="#fff000"/><stop offset=".819" stop-color="#ff0"/><stop offset=".824" stop-color="#fbff00"/><stop offset=".841" stop-color="#d0ff01"/><stop offset=".862" stop-color="#92ff17"/><stop offset=".884" stop-color="#60ff2f"/><stop offset=".932" stop-color="#17ff56"/><stop offset=".954" stop-color="#00ff64"/><stop offset=".976" stop-color="#00ff6e"/><stop offset="1" stop-color="#00ff6e"/></linearGradient><linearGradient id="c19"><stop offset="0" stop-color="#00ff6e"/><stop offset=".041" stop-color="#00ff70"/><stop offset=".111" stop-color="#0f9"/><stop offset=".143" stop-color="#00ffb9"/><stop offset=".197" stop-color="#00fdff"/><stop offset=".219" stop-color="#00ebff"/><stop offset=".235" stop-color="#00ceff"/><stop offset=".251" stop-color="#00bdff"/><stop offset=".295" stop-color="#00beff"/><stop offset=".322" stop-color="#00b1ff"/><stop offset=".332" stop-color="#00b3ff"/><stop offset=".343" stop-color="#00beff"/><stop offset=".37" stop-color="#00f3ff"/><stop offset=".376" stop-color="#00fffe"/><stop offset=".403" stop-color="#00ffb6"/><stop offset=".424" stop-color="#00ff74"/><stop offset=".43" stop-color="#00ff6e"/><stop offset=".468" stop-color="#00ff6e"/><stop offset=".478" stop-color="#00ff63"/><stop offset=".484" stop-color="#17ff55"/><stop offset=".489" stop-color="#41ff40"/><stop offset=".495" stop-color="#73ff25"/><stop offset=".5" stop-color="#96ff16"/><stop offset=".511" stop-color="#caff03"/><stop offset=".522" stop-color="#f9ff00"/><stop offset=".527" stop-color="#fffc00"/><stop offset=".576" stop-color="#ffae00"/><stop offset=".624" stop-color="#ff7300"/><stop offset=".662" stop-color="#ff3600"/><stop offset=".673" stop-color="#ff2e00"/><stop offset=".689" stop-color="#ff3700"/><stop offset=".738" stop-color="#ff7000"/><stop offset=".749" stop-color="#ff8200"/><stop offset=".765" stop-color="#ffaf00"/><stop offset=".786" stop-color="#fd0"/><stop offset=".797" stop-color="#ffef00"/><stop offset=".814" stop-color="#ff0"/><stop offset=".819" stop-color="#fdff00"/><stop offset=".824" stop-color="#f2ff00"/><stop offset=".841" stop-color="#c8ff04"/><stop offset=".862" stop-color="#8cff1a"/><stop offset=".884" stop-color="#5bff31"/><stop offset=".932" stop-color="#14ff57"/><stop offset=".949" stop-color="#00ff62"/><stop offset=".976" stop-color="#00ff6e"/><stop offset="1" stop-color="#00ff6e"/></linearGradient><linearGradient id="c20"><stop offset="0" stop-color="#00ff6e"/><stop offset=".041" stop-color="#00ff6f"/><stop offset=".111" stop-color="#00ff97"/><stop offset=".138" stop-color="#00ffaf"/><stop offset=".203" stop-color="#00fffe"/><stop offset=".251" stop-color="#00cdff"/><stop offset=".289" stop-color="#00d4ff"/><stop offset=".327" stop-color="#00c4ff"/><stop offset=".343" stop-color="#00d1ff"/><stop offset=".365" stop-color="#00feff"/><stop offset=".419" stop-color="#00ff75"/><stop offset=".424" stop-color="#00ff6e"/><stop offset=".473" stop-color="#00ff6e"/><stop offset=".478" stop-color="#00ff67"/><stop offset=".484" stop-color="#0aff5c"/><stop offset=".489" stop-color="#2cff4b"/><stop offset=".5" stop-color="#85ff1c"/><stop offset=".516" stop-color="#ceff01"/><stop offset=".527" stop-color="#f9ff00"/><stop offset=".532" stop-color="#fffc00"/><stop offset=".576" stop-color="#ffba00"/><stop offset=".624" stop-color="#f80"/><stop offset=".657" stop-color="#ff4e00"/><stop offset=".673" stop-color="#ff3b00"/><stop offset=".684" stop-color="#ff4100"/><stop offset=".711" stop-color="#ff6b00"/><stop offset=".738" stop-color="#f80"/><stop offset=".786" stop-color="#ffe700"/><stop offset=".808" stop-color="#ff0"/><stop offset=".819" stop-color="#f2ff00"/><stop offset=".835" stop-color="#ccff02"/><stop offset=".878" stop-color="#60ff2f"/><stop offset=".895" stop-color="#44ff3e"/><stop offset=".932" stop-color="#11ff59"/><stop offset=".949" stop-color="#00ff63"/><stop offset=".97" stop-color="#00ff6e"/><stop offset="1" stop-color="#00ff6e"/></linearGradient><linearGradient id="c21"><stop offset="0" stop-color="#00ff6e"/><stop offset=".041" stop-color="#00ff6e"/><stop offset=".111" stop-color="#00ff94"/><stop offset=".219" stop-color="#00fbff"/><stop offset=".251" stop-color="#00dfff"/><stop offset=".289" stop-color="#00edff"/><stop offset=".327" stop-color="#00d9ff"/><stop offset=".338" stop-color="#00e0ff"/><stop offset=".354" stop-color="#00fcff"/><stop offset=".381" stop-color="#00ffb3"/><stop offset=".414" stop-color="#00ff73"/><stop offset=".419" stop-color="#00ff6e"/><stop offset=".473" stop-color="#00ff6e"/><stop offset=".484" stop-color="#00ff62"/><stop offset=".489" stop-color="#18ff55"/><stop offset=".5" stop-color="#6eff28"/><stop offset=".505" stop-color="#8bff1a"/><stop offset=".522" stop-color="#cbff02"/><stop offset=".532" stop-color="#f3ff00"/><stop offset=".538" stop-color="#ff0"/><stop offset=".581" stop-color="#ffc000"/><stop offset=".624" stop-color="#ffa200"/><stop offset=".657" stop-color="#ff6300"/><stop offset=".673" stop-color="#ff5200"/><stop offset=".684" stop-color="#ff5c00"/><stop offset=".711" stop-color="#ff9100"/><stop offset=".743" stop-color="#ffab00"/><stop offset=".781" stop-color="#ffe900"/><stop offset=".797" stop-color="#fffe00"/><stop offset=".808" stop-color="#f8ff00"/><stop offset=".83" stop-color="#cdff02"/><stop offset=".868" stop-color="#6fff27"/><stop offset=".884" stop-color="#4eff38"/><stop offset=".932" stop-color="#0dff5b"/><stop offset=".943" stop-color="#01ff61"/><stop offset=".965" stop-color="#00ff6d"/><stop offset="1" stop-color="#00ff6e"/></linearGradient><linearGradient id="c22"><stop offset="0" stop-color="#00ff6e"/><stop offset=".046" stop-color="#00ff6f"/><stop offset=".116" stop-color="#00ff92"/><stop offset=".17" stop-color="#00ffc6"/><stop offset=".203" stop-color="#00ffd8"/><stop offset=".23" stop-color="#00fffd"/><stop offset=".251" stop-color="#00f3ff"/><stop offset=".268" stop-color="#00fdff"/><stop offset=".289" stop-color="#00fff0"/><stop offset=".311" stop-color="#00fdff"/><stop offset=".327" stop-color="#00f2ff"/><stop offset=".338" stop-color="#00f8ff"/><stop offset=".343" stop-color="#00fffd"/><stop offset=".349" stop-color="#00fff1"/><stop offset=".37" stop-color="#00ffae"/><stop offset=".381" stop-color="#00ff94"/><stop offset=".403" stop-color="#00ff76"/><stop offset=".414" stop-color="#00ff6e"/><stop offset=".478" stop-color="#00ff6e"/><stop offset=".484" stop-color="#00ff68"/><stop offset=".489" stop-color="#07ff5e"/><stop offset=".495" stop-color="#26ff4e"/><stop offset=".505" stop-color="#72ff26"/><stop offset=".511" stop-color="#8bff1a"/><stop offset=".532" stop-color="#d6ff00"/><stop offset=".543" stop-color="#ff0"/><stop offset=".581" stop-color="#ffcd00"/><stop offset=".63" stop-color="#ffb800"/><stop offset=".641" stop-color="#ffa800"/><stop offset=".657" stop-color="#ff8500"/><stop offset=".668" stop-color="#ff7800"/><stop offset=".678" stop-color="#ff8000"/><stop offset=".695" stop-color="#ffa400"/><stop offset=".705" stop-color="#ffb500"/><stop offset=".749" stop-color="#ffc500"/><stop offset=".792" stop-color="#ff0"/><stop offset=".824" stop-color="#c9ff03"/><stop offset=".857" stop-color="#80ff1e"/><stop offset=".878" stop-color="#4fff38"/><stop offset=".932" stop-color="#09ff5d"/><stop offset=".943" stop-color="#00ff63"/><stop offset=".965" stop-color="#00ff6e"/><stop offset="1" stop-color="#00ff6e"/></linearGradient><linearGradient id="c23"><stop offset="0" stop-color="#00ff6e"/><stop offset=".046" stop-color="#00ff6e"/><stop offset=".116" stop-color="#00ff8a"/><stop offset=".165" stop-color="#00ffb6"/><stop offset=".208" stop-color="#00ffbd"/><stop offset=".235" stop-color="#00ffe6"/><stop offset=".246" stop-color="#0fe"/><stop offset=".257" stop-color="#00ffe9"/><stop offset=".278" stop-color="#00ffc9"/><stop offset=".289" stop-color="#00ffc2"/><stop offset=".3" stop-color="#00ffc8"/><stop offset=".322" stop-color="#00ffe8"/><stop offset=".332" stop-color="#00ffea"/><stop offset=".343" stop-color="#00ffd9"/><stop offset=".37" stop-color="#00ff8d"/><stop offset=".386" stop-color="#0f7"/><stop offset=".403" stop-color="#00ff6e"/><stop offset=".478" stop-color="#00ff6e"/><stop offset=".489" stop-color="#00ff65"/><stop offset=".495" stop-color="#0fff5a"/><stop offset=".511" stop-color="#6aff29"/><stop offset=".516" stop-color="#82ff1d"/><stop offset=".538" stop-color="#c8ff04"/><stop offset=".549" stop-color="#f3ff00"/><stop offset=".554" stop-color="#ff0"/><stop offset=".581" stop-color="#ffdb00"/><stop offset=".63" stop-color="#ffd200"/><stop offset=".657" stop-color="#ffb200"/><stop offset=".668" stop-color="#ffac00"/><stop offset=".705" stop-color="#ffd300"/><stop offset=".749" stop-color="#ffd800"/><stop offset=".781" stop-color="#ff0"/><stop offset=".786" stop-color="#fbff00"/><stop offset=".808" stop-color="#cfff01"/><stop offset=".83" stop-color="#aeff0d"/><stop offset=".851" stop-color="#81ff1e"/><stop offset=".873" stop-color="#4eff38"/><stop offset=".895" stop-color="#2eff49"/><stop offset=".938" stop-color="#00ff63"/><stop offset=".959" stop-color="#00ff6e"/><stop offset="1" stop-color="#00ff6e"/></linearGradient><linearGradient id="c24"><stop offset="0" stop-color="#00ff6e"/><stop offset=".051" stop-color="#00ff6e"/><stop offset=".116" stop-color="#00ff80"/><stop offset=".165" stop-color="#00ffa6"/><stop offset=".203" stop-color="#00ff94"/><stop offset=".214" stop-color="#00ff9c"/><stop offset=".235" stop-color="#00ffbc"/><stop offset=".246" stop-color="#00ffc4"/><stop offset=".257" stop-color="#00ffbd"/><stop offset=".278" stop-color="#00ff9c"/><stop offset=".289" stop-color="#00ff96"/><stop offset=".3" stop-color="#00ff9b"/><stop offset=".322" stop-color="#00ffbc"/><stop offset=".332" stop-color="#00ffbf"/><stop offset=".343" stop-color="#00ffb0"/><stop offset=".365" stop-color="#00ff7e"/><stop offset=".381" stop-color="#00ff70"/><stop offset=".484" stop-color="#00ff6e"/><stop offset=".495" stop-color="#00ff63"/><stop offset=".527" stop-color="#80ff1e"/><stop offset=".538" stop-color="#a1ff12"/><stop offset=".549" stop-color="#cbff02"/><stop offset=".559" stop-color="#f9ff00"/><stop offset=".565" stop-color="#fffd00"/><stop offset=".586" stop-color="#ffe800"/><stop offset=".624" stop-color="#ffec00"/><stop offset=".668" stop-color="#ffce00"/><stop offset=".705" stop-color="#ffeb00"/><stop offset=".743" stop-color="#ffe800"/><stop offset=".77" stop-color="#ff0"/><stop offset=".776" stop-color="#fcff00"/><stop offset=".792" stop-color="#d1ff00"/><stop offset=".803" stop-color="#bcff08"/><stop offset=".835" stop-color="#93ff17"/><stop offset=".873" stop-color="#41ff3f"/><stop offset=".895" stop-color="#22ff50"/><stop offset=".932" stop-color="#00ff63"/><stop offset=".954" stop-color="#00ff6e"/><stop offset="1" stop-color="#00ff6e"/></linearGradient><linearGradient id="c25"><stop offset="0" stop-color="#00ff6e"/><stop offset=".116" stop-color="#00ff75"/><stop offset=".159" stop-color="#00ff8f"/><stop offset=".17" stop-color="#00ff8d"/><stop offset=".192" stop-color="#00ff7c"/><stop offset=".208" stop-color="#00ff7a"/><stop offset=".246" stop-color="#00ff9a"/><stop offset=".284" stop-color="#00ff7a"/><stop offset=".3" stop-color="#00ff7c"/><stop offset=".322" stop-color="#00ff92"/><stop offset=".332" stop-color="#00ff96"/><stop offset=".354" stop-color="#00ff7b"/><stop offset=".37" stop-color="#00ff6e"/><stop offset=".489" stop-color="#00ff6e"/><stop offset=".5" stop-color="#00ff63"/><stop offset=".527" stop-color="#4aff3a"/><stop offset=".559" stop-color="#ceff01"/><stop offset=".57" stop-color="#f6ff00"/><stop offset=".576" stop-color="#ff0"/><stop offset=".586" stop-color="#fffa00"/><stop offset=".608" stop-color="#ff0"/><stop offset=".619" stop-color="#f6ff00"/><stop offset=".635" stop-color="#ff0"/><stop offset=".657" stop-color="#ffeb00"/><stop offset=".668" stop-color="#ffe800"/><stop offset=".678" stop-color="#ffec00"/><stop offset=".695" stop-color="#fffe00"/><stop offset=".711" stop-color="#f5ff00"/><stop offset=".727" stop-color="#ff0"/><stop offset=".759" stop-color="#ff0"/><stop offset=".765" stop-color="#f7ff00"/><stop offset=".776" stop-color="#daff00"/><stop offset=".786" stop-color="#baff09"/><stop offset=".797" stop-color="#a3ff11"/><stop offset=".835" stop-color="#81ff1e"/><stop offset=".873" stop-color="#32ff47"/><stop offset=".889" stop-color="#19ff54"/><stop offset=".922" stop-color="#01ff61"/><stop offset=".949" stop-color="#00ff6e"/><stop offset="1" stop-color="#00ff6e"/></linearGradient><linearGradient id="c26"><stop offset="0" stop-color="#00ff6e"/><stop offset=".122" stop-color="#00ff6e"/><stop offset=".159" stop-color="#00ff7b"/><stop offset=".208" stop-color="#00ff6f"/><stop offset=".246" stop-color="#00ff7c"/><stop offset=".289" stop-color="#00ff6f"/><stop offset=".332" stop-color="#00ff7b"/><stop offset=".359" stop-color="#00ff6e"/><stop offset=".495" stop-color="#00ff6e"/><stop offset=".511" stop-color="#00ff63"/><stop offset=".522" stop-color="#0dff5b"/><stop offset=".532" stop-color="#24ff4f"/><stop offset=".543" stop-color="#4eff39"/><stop offset=".554" stop-color="#86ff1c"/><stop offset=".565" stop-color="#b3ff0b"/><stop offset=".576" stop-color="#d5ff00"/><stop offset=".581" stop-color="#deff00"/><stop offset=".592" stop-color="#dfff00"/><stop offset=".614" stop-color="#bcff08"/><stop offset=".624" stop-color="#b6ff0a"/><stop offset=".63" stop-color="#bbff08"/><stop offset=".641" stop-color="#d2ff00"/><stop offset=".651" stop-color="#ef0"/><stop offset=".662" stop-color="#ff0"/><stop offset=".673" stop-color="#feff00"/><stop offset=".678" stop-color="#f6ff00"/><stop offset=".7" stop-color="#c1ff06"/><stop offset=".711" stop-color="#b6ff0a"/><stop offset=".722" stop-color="#bfff07"/><stop offset=".743" stop-color="#e3ff00"/><stop offset=".754" stop-color="#e2ff00"/><stop offset=".765" stop-color="#cfff01"/><stop offset=".786" stop-color="#91ff18"/><stop offset=".797" stop-color="#7cff20"/><stop offset=".835" stop-color="#68ff2b"/><stop offset=".846" stop-color="#57ff34"/><stop offset=".873" stop-color="#1eff52"/><stop offset=".889" stop-color="#08ff5d"/><stop offset=".905" stop-color="#00ff62"/><stop offset=".943" stop-color="#00ff6e"/><stop offset="1" stop-color="#00ff6e"/></linearGradient><linearGradient id="c27"><stop offset="0" stop-color="#00ff6e"/><stop offset=".505" stop-color="#00ff6e"/><stop offset=".532" stop-color="#00ff64"/><stop offset=".538" stop-color="#04ff60"/><stop offset=".543" stop-color="#12ff58"/><stop offset=".549" stop-color="#26ff4d"/><stop offset=".565" stop-color="#7eff1f"/><stop offset=".576" stop-color="#9eff13"/><stop offset=".581" stop-color="#a6ff10"/><stop offset=".592" stop-color="#a4ff11"/><stop offset=".614" stop-color="#75ff24"/><stop offset=".624" stop-color="#6cff29"/><stop offset=".63" stop-color="#72ff25"/><stop offset=".657" stop-color="#baff09"/><stop offset=".668" stop-color="#c4ff05"/><stop offset=".678" stop-color="#b6ff0a"/><stop offset=".7" stop-color="#7bff21"/><stop offset=".711" stop-color="#6cff29"/><stop offset=".716" stop-color="#70ff26"/><stop offset=".743" stop-color="#acff0e"/><stop offset=".754" stop-color="#b0ff0c"/><stop offset=".765" stop-color="#9eff13"/><stop offset=".776" stop-color="#80ff1e"/><stop offset=".786" stop-color="#5aff32"/><stop offset=".797" stop-color="#44ff3e"/><stop offset=".808" stop-color="#43ff3e"/><stop offset=".824" stop-color="#4dff39"/><stop offset=".835" stop-color="#4bff3a"/><stop offset=".846" stop-color="#3eff41"/><stop offset=".868" stop-color="#10ff59"/><stop offset=".878" stop-color="#00ff62"/><stop offset=".932" stop-color="#00ff6e"/><stop offset="1" stop-color="#00ff6e"/></linearGradient><linearGradient id="c28"><stop offset="0" stop-color="#00ff6e"/><stop offset=".538" stop-color="#00ff6e"/><stop offset=".549" stop-color="#00ff67"/><stop offset=".554" stop-color="#06ff5e"/><stop offset=".57" stop-color="#4aff3b"/><stop offset=".576" stop-color="#5bff31"/><stop offset=".581" stop-color="#64ff2d"/><stop offset=".586" stop-color="#64ff2d"/><stop offset=".592" stop-color="#5cff31"/><stop offset=".614" stop-color="#1dff52"/><stop offset=".624" stop-color="#15ff57"/><stop offset=".635" stop-color="#26ff4e"/><stop offset=".657" stop-color="#74ff24"/><stop offset=".662" stop-color="#7fff1f"/><stop offset=".668" stop-color="#81ff1d"/><stop offset=".673" stop-color="#7cff20"/><stop offset=".678" stop-color="#6fff27"/><stop offset=".7" stop-color="#21ff50"/><stop offset=".711" stop-color="#15ff57"/><stop offset=".722" stop-color="#22ff4f"/><stop offset=".743" stop-color="#6aff2a"/><stop offset=".754" stop-color="#75ff24"/><stop offset=".765" stop-color="#61ff2f"/><stop offset=".786" stop-color="#18ff55"/><stop offset=".797" stop-color="#0aff5c"/><stop offset=".808" stop-color="#0eff5a"/><stop offset=".824" stop-color="#23ff4f"/><stop offset=".835" stop-color="#28ff4c"/><stop offset=".846" stop-color="#1fff51"/><stop offset=".862" stop-color="#01ff61"/><stop offset=".884" stop-color="#00ff6e"/><stop offset="1" stop-color="#00ff6e"/></linearGradient><linearGradient id="c29"><stop offset="0" stop-color="#00ff6e"/><stop offset=".554" stop-color="#00ff6e"/><stop offset=".565" stop-color="#00ff65"/><stop offset=".581" stop-color="#17ff55"/><stop offset=".586" stop-color="#16ff56"/><stop offset=".603" stop-color="#00ff65"/><stop offset=".619" stop-color="#00ff6d"/><stop offset=".641" stop-color="#00ff68"/><stop offset=".646" stop-color="#02ff60"/><stop offset=".657" stop-color="#1dff52"/><stop offset=".668" stop-color="#29ff4c"/><stop offset=".673" stop-color="#24ff4e"/><stop offset=".689" stop-color="#00ff63"/><stop offset=".711" stop-color="#00ff6d"/><stop offset=".732" stop-color="#00ff62"/><stop offset=".743" stop-color="#19ff54"/><stop offset=".754" stop-color="#26ff4e"/><stop offset=".759" stop-color="#21ff50"/><stop offset=".776" stop-color="#00ff63"/><stop offset=".797" stop-color="#00ff6e"/><stop offset=".835" stop-color="#03ff60"/><stop offset=".868" stop-color="#00ff6e"/><stop offset="1" stop-color="#00ff6e"/></linearGradient><linearGradient id="c30"><stop offset="0" stop-color="#00ff6e"/><stop offset="1" stop-color="#00ff6e"/></linearGradient><linearGradient id="c31"><stop offset="0" stop-color="#00ff6e"/><stop offset=".224" stop-color="#00ff6e"/><stop offset=".246" stop-color="#00ff67"/><stop offset=".305" stop-color="#00ff6e"/><stop offset=".332" stop-color="#00ff64"/><stop offset=".359" stop-color="#00ff6e"/><stop offset="1" stop-color="#00ff6e"/></linearGradient><linearGradient id="c32"><stop offset="0" stop-color="#00ff6e"/><stop offset=".203" stop-color="#00ff6e"/><stop offset=".224" stop-color="#00ff64"/><stop offset=".246" stop-color="#1cff53"/><stop offset=".257" stop-color="#17ff56"/><stop offset=".273" stop-color="#00ff62"/><stop offset=".289" stop-color="#00ff68"/><stop offset=".305" stop-color="#00ff62"/><stop offset=".322" stop-color="#1eff52"/><stop offset=".332" stop-color="#29ff4c"/><stop offset=".343" stop-color="#21ff50"/><stop offset=".359" stop-color="#03ff60"/><stop offset=".365" stop-color="#00ff64"/><stop offset=".392" stop-color="#00ff64"/><stop offset=".414" stop-color="#0cff5b"/><stop offset=".424" stop-color="#01ff61"/><stop offset=".441" stop-color="#00ff6e"/><stop offset=".559" stop-color="#00ff6e"/><stop offset=".586" stop-color="#00ff76"/><stop offset=".624" stop-color="#00ff70"/><stop offset=".668" stop-color="#00ff82"/><stop offset=".705" stop-color="#00ff70"/><stop offset=".722" stop-color="#00ff71"/><stop offset=".754" stop-color="#00ff82"/><stop offset=".792" stop-color="#00ff71"/><stop offset=".808" stop-color="#00ff71"/><stop offset=".841" stop-color="#00ff7f"/><stop offset=".884" stop-color="#00ff6e"/><stop offset="1" stop-color="#00ff6e"/></linearGradient><linearGradient id="c33"><stop offset="0" stop-color="#00ff6e"/><stop offset=".132" stop-color="#00ff6e"/><stop offset=".165" stop-color="#04ff60"/><stop offset=".203" stop-color="#00ff62"/><stop offset=".214" stop-color="#0bff5c"/><stop offset=".235" stop-color="#42ff3f"/><stop offset=".246" stop-color="#54ff35"/><stop offset=".257" stop-color="#50ff37"/><stop offset=".278" stop-color="#25ff4e"/><stop offset=".289" stop-color="#1dff52"/><stop offset=".3" stop-color="#27ff4d"/><stop offset=".322" stop-color="#5eff30"/><stop offset=".332" stop-color="#6cff28"/><stop offset=".343" stop-color="#62ff2e"/><stop offset=".359" stop-color="#37ff45"/><stop offset=".37" stop-color="#22ff50"/><stop offset=".381" stop-color="#1dff52"/><stop offset=".403" stop-color="#37ff45"/><stop offset=".414" stop-color="#38ff44"/><stop offset=".424" stop-color="#22ff4f"/><stop offset=".435" stop-color="#02ff61"/><stop offset=".441" stop-color="#00ff68"/><stop offset=".446" stop-color="#00ff6e"/><stop offset=".549" stop-color="#00ff6e"/><stop offset=".586" stop-color="#00ff89"/><stop offset=".624" stop-color="#00ff7c"/><stop offset=".635" stop-color="#00ff82"/><stop offset=".657" stop-color="#00ff9d"/><stop offset=".668" stop-color="#00ffa3"/><stop offset=".705" stop-color="#00ff7f"/><stop offset=".722" stop-color="#00ff82"/><stop offset=".743" stop-color="#00ff9c"/><stop offset=".754" stop-color="#00ffa3"/><stop offset=".765" stop-color="#00ff9c"/><stop offset=".786" stop-color="#00ff82"/><stop offset=".797" stop-color="#00ff7e"/><stop offset=".835" stop-color="#00ff94"/><stop offset=".884" stop-color="#00ff75"/><stop offset="1" stop-color="#00ff6e"/></linearGradient><linearGradient id="c34"><stop offset="0" stop-color="#00ff6e"/><stop offset=".122" stop-color="#00ff6e"/><stop offset=".143" stop-color="#02ff60"/><stop offset=".165" stop-color="#24ff4f"/><stop offset=".192" stop-color="#21ff50"/><stop offset=".203" stop-color="#26ff4d"/><stop offset=".214" stop-color="#3aff43"/><stop offset=".235" stop-color="#78ff22"/><stop offset=".246" stop-color="#8aff1a"/><stop offset=".262" stop-color="#86ff1c"/><stop offset=".278" stop-color="#68ff2b"/><stop offset=".289" stop-color="#5fff30"/><stop offset=".3" stop-color="#6bff29"/><stop offset=".322" stop-color="#9fff13"/><stop offset=".332" stop-color="#aaff0f"/><stop offset=".343" stop-color="#a2ff12"/><stop offset=".365" stop-color="#6fff27"/><stop offset=".376" stop-color="#5fff30"/><stop offset=".386" stop-color="#61ff2e"/><stop offset=".403" stop-color="#72ff25"/><stop offset=".414" stop-color="#6cff29"/><stop offset=".424" stop-color="#4cff3a"/><stop offset=".441" stop-color="#09ff5d"/><stop offset=".446" stop-color="#0f6"/><stop offset=".457" stop-color="#00ff6e"/><stop offset=".543" stop-color="#00ff70"/><stop offset=".554" stop-color="#00ff7a"/><stop offset=".581" stop-color="#00ffa5"/><stop offset=".592" stop-color="#00ffa8"/><stop offset=".614" stop-color="#0f9"/><stop offset=".624" stop-color="#0f9"/><stop offset=".635" stop-color="#00ffa3"/><stop offset=".657" stop-color="#00ffc8"/><stop offset=".668" stop-color="#00ffcf"/><stop offset=".678" stop-color="#00ffc6"/><stop offset=".705" stop-color="#00ff9f"/><stop offset=".716" stop-color="#00ff9f"/><stop offset=".743" stop-color="#00ffc6"/><stop offset=".754" stop-color="#0fc"/><stop offset=".765" stop-color="#00ffc3"/><stop offset=".786" stop-color="#00ffa2"/><stop offset=".797" stop-color="#00ff9b"/><stop offset=".835" stop-color="#00ffa5"/><stop offset=".889" stop-color="#00ff7d"/><stop offset=".949" stop-color="#00ff6e"/><stop offset="1" stop-color="#00ff6e"/></linearGradient><linearGradient id="c35"><stop offset="0" stop-color="#00ff6e"/><stop offset=".095" stop-color="#00ff6e"/><stop offset=".127" stop-color="#00ff64"/><stop offset=".132" stop-color="#04ff60"/><stop offset=".154" stop-color="#38ff44"/><stop offset=".165" stop-color="#47ff3c"/><stop offset=".203" stop-color="#56ff34"/><stop offset=".246" stop-color="#b6ff0a"/><stop offset=".257" stop-color="#bcff08"/><stop offset=".278" stop-color="#a4ff11"/><stop offset=".289" stop-color="#9fff12"/><stop offset=".3" stop-color="#abff0e"/><stop offset=".322" stop-color="#dcff00"/><stop offset=".332" stop-color="#e7ff00"/><stop offset=".343" stop-color="#dfff00"/><stop offset=".365" stop-color="#aeff0d"/><stop offset=".376" stop-color="#9fff13"/><stop offset=".403" stop-color="#a4ff11"/><stop offset=".414" stop-color="#97ff15"/><stop offset=".424" stop-color="#77ff23"/><stop offset=".446" stop-color="#0bff5c"/><stop offset=".451" stop-color="#0f6"/><stop offset=".462" stop-color="#00ff6e"/><stop offset=".532" stop-color="#00ff72"/><stop offset=".549" stop-color="#00ff83"/><stop offset=".581" stop-color="#00ffc9"/><stop offset=".592" stop-color="#00ffcf"/><stop offset=".614" stop-color="#00ffc2"/><stop offset=".624" stop-color="#00ffc2"/><stop offset=".635" stop-color="#00ffcf"/><stop offset=".651" stop-color="#00fff0"/><stop offset=".662" stop-color="#0ff"/><stop offset=".673" stop-color="#00fffe"/><stop offset=".705" stop-color="#0fc"/><stop offset=".716" stop-color="#0fc"/><stop offset=".738" stop-color="#00ffeb"/><stop offset=".749" stop-color="#00fff1"/><stop offset=".759" stop-color="#00ffeb"/><stop offset=".792" stop-color="#00ffbd"/><stop offset=".835" stop-color="#00ffb1"/><stop offset=".895" stop-color="#00ff84"/><stop offset=".949" stop-color="#00ff6f"/><stop offset="1" stop-color="#00ff6e"/></linearGradient><linearGradient id="c36"><stop offset="0" stop-color="#00ff6e"/><stop offset=".068" stop-color="#00ff6e"/><stop offset=".116" stop-color="#00ff62"/><stop offset=".127" stop-color="#0fff5a"/><stop offset=".143" stop-color="#3cff42"/><stop offset=".159" stop-color="#5aff32"/><stop offset=".197" stop-color="#75ff24"/><stop offset=".208" stop-color="#84ff1c"/><stop offset=".219" stop-color="#9bff14"/><stop offset=".235" stop-color="#cbff03"/><stop offset=".246" stop-color="#e6ff00"/><stop offset=".251" stop-color="#ef0"/><stop offset=".262" stop-color="#efff00"/><stop offset=".278" stop-color="#e0ff00"/><stop offset=".289" stop-color="#df0"/><stop offset=".3" stop-color="#e9ff00"/><stop offset=".311" stop-color="#ff0"/><stop offset=".332" stop-color="#fff200"/><stop offset=".354" stop-color="#ff0"/><stop offset=".376" stop-color="#dbff00"/><stop offset=".397" stop-color="#d5ff00"/><stop offset=".408" stop-color="#caff03"/><stop offset=".419" stop-color="#acff0e"/><stop offset=".43" stop-color="#80ff1e"/><stop offset=".446" stop-color="#21ff50"/><stop offset=".451" stop-color="#08ff5d"/><stop offset=".457" stop-color="#00ff67"/><stop offset=".462" stop-color="#00ff6e"/><stop offset=".511" stop-color="#00ff6f"/><stop offset=".532" stop-color="#00ff7e"/><stop offset=".549" stop-color="#00ff9b"/><stop offset=".576" stop-color="#00ffe7"/><stop offset=".592" stop-color="#00fff9"/><stop offset=".619" stop-color="#00fff1"/><stop offset=".635" stop-color="#00fcff"/><stop offset=".657" stop-color="#00d3ff"/><stop offset=".668" stop-color="#00cbff"/><stop offset=".678" stop-color="#00d4ff"/><stop offset=".705" stop-color="#0ff"/><stop offset=".716" stop-color="#0ff"/><stop offset=".743" stop-color="#0ef"/><stop offset=".759" stop-color="#00fdff"/><stop offset=".797" stop-color="#00ffce"/><stop offset=".835" stop-color="#00ffb9"/><stop offset=".878" stop-color="#00ff95"/><stop offset=".916" stop-color="#00ff7d"/><stop offset=".954" stop-color="#00ff6e"/><stop offset="1" stop-color="#00ff6e"/></linearGradient><linearGradient id="c37"><stop offset="0" stop-color="#00ff6e"/><stop offset=".062" stop-color="#00ff6e"/><stop offset=".095" stop-color="#00ff63"/><stop offset=".111" stop-color="#0aff5c"/><stop offset=".122" stop-color="#1cff53"/><stop offset=".138" stop-color="#46ff3c"/><stop offset=".154" stop-color="#65ff2c"/><stop offset=".17" stop-color="#7bff21"/><stop offset=".197" stop-color="#91ff18"/><stop offset=".208" stop-color="#a1ff12"/><stop offset=".219" stop-color="#bdff08"/><stop offset=".224" stop-color="#cfff01"/><stop offset=".235" stop-color="#f7ff00"/><stop offset=".241" stop-color="#ff0"/><stop offset=".257" stop-color="#fff400"/><stop offset=".295" stop-color="#fff400"/><stop offset=".322" stop-color="#ffd800"/><stop offset=".332" stop-color="#ffd300"/><stop offset=".343" stop-color="#ffd700"/><stop offset=".376" stop-color="#fffa00"/><stop offset=".397" stop-color="#ff0"/><stop offset=".408" stop-color="#f0ff00"/><stop offset=".419" stop-color="#cdff02"/><stop offset=".435" stop-color="#7eff1f"/><stop offset=".446" stop-color="#37ff44"/><stop offset=".457" stop-color="#02ff61"/><stop offset=".468" stop-color="#00ff6e"/><stop offset=".5" stop-color="#00ff6f"/><stop offset=".527" stop-color="#00ff89"/><stop offset=".543" stop-color="#00ffa9"/><stop offset=".57" stop-color="#0ff"/><stop offset=".586" stop-color="#00e2ff"/><stop offset=".624" stop-color="#00dcff"/><stop offset=".635" stop-color="#00cdff"/><stop offset=".657" stop-color="#00a2ff"/><stop offset=".668" stop-color="#009aff"/><stop offset=".678" stop-color="#00a2ff"/><stop offset=".705" stop-color="#00cdff"/><stop offset=".743" stop-color="#00d2ff"/><stop offset=".754" stop-color="#00dfff"/><stop offset=".77" stop-color="#00feff"/><stop offset=".803" stop-color="#00ffd7"/><stop offset=".922" stop-color="#00ff7c"/><stop offset=".959" stop-color="#00ff6e"/><stop offset="1" stop-color="#00ff6e"/></linearGradient><linearGradient id="c38"><stop offset="0" stop-color="#00ff6e"/><stop offset=".051" stop-color="#00ff6e"/><stop offset=".078" stop-color="#00ff63"/><stop offset=".1" stop-color="#10ff59"/><stop offset=".111" stop-color="#1fff51"/><stop offset=".138" stop-color="#58ff33"/><stop offset=".159" stop-color="#7eff1f"/><stop offset=".192" stop-color="#a1ff12"/><stop offset=".203" stop-color="#b2ff0c"/><stop offset=".214" stop-color="#ceff01"/><stop offset=".224" stop-color="#f8ff00"/><stop offset=".23" stop-color="#fffe00"/><stop offset=".251" stop-color="#ffe700"/><stop offset=".295" stop-color="#ffd900"/><stop offset=".322" stop-color="#ffbc00"/><stop offset=".332" stop-color="#ffb700"/><stop offset=".343" stop-color="#fb0"/><stop offset=".376" stop-color="#ffe100"/><stop offset=".414" stop-color="#feff00"/><stop offset=".424" stop-color="#cfff01"/><stop offset=".441" stop-color="#74ff25"/><stop offset=".451" stop-color="#2bff4b"/><stop offset=".457" stop-color="#0fff5a"/><stop offset=".462" stop-color="#00ff65"/><stop offset=".468" stop-color="#00ff6e"/><stop offset=".495" stop-color="#00ff6f"/><stop offset=".516" stop-color="#00ff8c"/><stop offset=".538" stop-color="#00ffb7"/><stop offset=".559" stop-color="#0ff"/><stop offset=".57" stop-color="#00e0ff"/><stop offset=".581" stop-color="#00cbff"/><stop offset=".592" stop-color="#00c0ff"/><stop offset=".624" stop-color="#00b1ff"/><stop offset=".657" stop-color="#07f"/><stop offset=".668" stop-color="#006dff"/><stop offset=".678" stop-color="#0073ff"/><stop offset=".705" stop-color="#00a4ff"/><stop offset=".749" stop-color="#00c1ff"/><stop offset=".776" stop-color="#00fcff"/><stop offset=".781" stop-color="#00fffa"/><stop offset=".803" stop-color="#00ffe0"/><stop offset=".868" stop-color="#00ffa5"/><stop offset=".927" stop-color="#00ff7b"/><stop offset=".959" stop-color="#00ff6e"/><stop offset="1" stop-color="#00ff6e"/></linearGradient><linearGradient id="c39"><stop offset="0" stop-color="#00ff6e"/><stop offset=".046" stop-color="#00ff6e"/><stop offset=".073" stop-color="#01ff61"/><stop offset=".084" stop-color="#0cff5b"/><stop offset=".1" stop-color="#23ff4f"/><stop offset=".154" stop-color="#83ff1d"/><stop offset=".192" stop-color="#b7ff0a"/><stop offset=".203" stop-color="#cdff02"/><stop offset=".219" stop-color="#ff0"/><stop offset=".257" stop-color="#ffd700"/><stop offset=".289" stop-color="#ffc200"/><stop offset=".322" stop-color="#ffa100"/><stop offset=".332" stop-color="#ff9d00"/><stop offset=".343" stop-color="#ffa200"/><stop offset=".419" stop-color="#ff0"/><stop offset=".43" stop-color="#c8ff04"/><stop offset=".441" stop-color="#87ff1b"/><stop offset=".451" stop-color="#3cff42"/><stop offset=".462" stop-color="#02ff60"/><stop offset=".473" stop-color="#00ff6e"/><stop offset=".489" stop-color="#00ff6e"/><stop offset=".495" stop-color="#00ff75"/><stop offset=".527" stop-color="#00ffb6"/><stop offset=".549" stop-color="#00fff9"/><stop offset=".554" stop-color="#00f3ff"/><stop offset=".565" stop-color="#00d4ff"/><stop offset=".581" stop-color="#00b2ff"/><stop offset=".592" stop-color="#00a5ff"/><stop offset=".624" stop-color="#008dff"/><stop offset=".657" stop-color="#0053ff"/><stop offset=".673" stop-color="#0049ff"/><stop offset=".684" stop-color="#05f"/><stop offset=".711" stop-color="#008eff"/><stop offset=".743" stop-color="#00a9ff"/><stop offset=".754" stop-color="#00b8ff"/><stop offset=".781" stop-color="#00fdff"/><stop offset=".857" stop-color="#00ffb2"/><stop offset=".927" stop-color="#00ff7b"/><stop offset=".959" stop-color="#00ff6f"/><stop offset="1" stop-color="#00ff6e"/></linearGradient><linearGradient id="c40"><stop offset="0" stop-color="#00ff6e"/><stop offset=".041" stop-color="#00ff6e"/><stop offset=".068" stop-color="#03ff60"/><stop offset=".149" stop-color="#85ff1c"/><stop offset=".181" stop-color="#b8ff0a"/><stop offset=".197" stop-color="#daff00"/><stop offset=".208" stop-color="#ff0"/><stop offset=".214" stop-color="#fffb00"/><stop offset=".262" stop-color="#ffbe00"/><stop offset=".295" stop-color="#ffa600"/><stop offset=".322" stop-color="#ff8a00"/><stop offset=".332" stop-color="#ff8500"/><stop offset=".349" stop-color="#ff9300"/><stop offset=".37" stop-color="#ffb500"/><stop offset=".403" stop-color="#fd0"/><stop offset=".419" stop-color="#fff900"/><stop offset=".424" stop-color="#faff00"/><stop offset=".43" stop-color="#dbff00"/><stop offset=".446" stop-color="#74ff24"/><stop offset=".457" stop-color="#28ff4d"/><stop offset=".462" stop-color="#0aff5c"/><stop offset=".468" stop-color="#00ff67"/><stop offset=".473" stop-color="#00ff6e"/><stop offset=".484" stop-color="#00ff6e"/><stop offset=".495" stop-color="#00ff7d"/><stop offset=".522" stop-color="#00ffc1"/><stop offset=".538" stop-color="#00fff2"/><stop offset=".543" stop-color="#00faff"/><stop offset=".565" stop-color="#00beff"/><stop offset=".581" stop-color="#009cff"/><stop offset=".624" stop-color="#006eff"/><stop offset=".657" stop-color="#003aff"/><stop offset=".673" stop-color="#0032ff"/><stop offset=".684" stop-color="#003bff"/><stop offset=".716" stop-color="#0078ff"/><stop offset=".754" stop-color="#0af"/><stop offset=".765" stop-color="#00c1ff"/><stop offset=".781" stop-color="#00f5ff"/><stop offset=".786" stop-color="#0ff"/><stop offset=".851" stop-color="#00ffb8"/><stop offset=".927" stop-color="#00ff7c"/><stop offset=".965" stop-color="#00ff6e"/><stop offset="1" stop-color="#00ff6e"/></linearGradient><linearGradient id="c41"><stop offset="0" stop-color="#00ff6e"/><stop offset=".035" stop-color="#00ff6e"/><stop offset=".062" stop-color="#03ff60"/><stop offset=".089" stop-color="#34ff46"/><stop offset=".127" stop-color="#69ff2a"/><stop offset=".165" stop-color="#a9ff0f"/><stop offset=".186" stop-color="#d4ff00"/><stop offset=".197" stop-color="#f7ff00"/><stop offset=".203" stop-color="#ff0"/><stop offset=".235" stop-color="#ffdb00"/><stop offset=".262" stop-color="#ffac00"/><stop offset=".295" stop-color="#ff9300"/><stop offset=".322" stop-color="#ff7400"/><stop offset=".332" stop-color="#ff6f00"/><stop offset=".349" stop-color="#ff7f00"/><stop offset=".37" stop-color="#ffa700"/><stop offset=".408" stop-color="#fd0"/><stop offset=".424" stop-color="#fffe00"/><stop offset=".43" stop-color="#ecff00"/><stop offset=".435" stop-color="#c9ff03"/><stop offset=".446" stop-color="#82ff1d"/><stop offset=".457" stop-color="#32ff47"/><stop offset=".462" stop-color="#12ff58"/><stop offset=".468" stop-color="#00ff64"/><stop offset=".473" stop-color="#00ff6e"/><stop offset=".484" stop-color="#00ff70"/><stop offset=".489" stop-color="#00ff7a"/><stop offset=".532" stop-color="#00fffc"/><stop offset=".565" stop-color="#0af"/><stop offset=".586" stop-color="#0080ff"/><stop offset=".624" stop-color="#05f"/><stop offset=".651" stop-color="#002eff"/><stop offset=".673" stop-color="#02f"/><stop offset=".689" stop-color="#0030ff"/><stop offset=".759" stop-color="#00a8ff"/><stop offset=".77" stop-color="#00c3ff"/><stop offset=".786" stop-color="#00faff"/><stop offset=".792" stop-color="#00fffc"/><stop offset=".851" stop-color="#00ffba"/><stop offset=".927" stop-color="#00ff7d"/><stop offset=".965" stop-color="#00ff6e"/><stop offset="1" stop-color="#00ff6e"/></linearGradient><linearGradient id="c42"><stop offset="0" stop-color="#00ff6e"/><stop offset=".03" stop-color="#00ff6e"/><stop offset=".057" stop-color="#02ff61"/><stop offset=".089" stop-color="#3fff41"/><stop offset=".122" stop-color="#69ff2a"/><stop offset=".154" stop-color="#9fff13"/><stop offset=".176" stop-color="#caff03"/><stop offset=".192" stop-color="#fdff00"/><stop offset=".197" stop-color="#fffd00"/><stop offset=".23" stop-color="#ffdb00"/><stop offset=".246" stop-color="#ffb500"/><stop offset=".257" stop-color="#ffa300"/><stop offset=".289" stop-color="#ff8900"/><stop offset=".322" stop-color="#ff6000"/><stop offset=".332" stop-color="#ff5b00"/><stop offset=".349" stop-color="#ff6d00"/><stop offset=".376" stop-color="#ffa300"/><stop offset=".408" stop-color="#ffd500"/><stop offset=".424" stop-color="#fff700"/><stop offset=".43" stop-color="#faff00"/><stop offset=".435" stop-color="#d7ff00"/><stop offset=".446" stop-color="#8dff19"/><stop offset=".457" stop-color="#3cff42"/><stop offset=".462" stop-color="#19ff54"/><stop offset=".468" stop-color="#00ff62"/><stop offset=".473" stop-color="#00ff6d"/><stop offset=".484" stop-color="#00ff76"/><stop offset=".489" stop-color="#00ff82"/><stop offset=".522" stop-color="#00fff2"/><stop offset=".527" stop-color="#00fbff"/><stop offset=".565" stop-color="#09f"/><stop offset=".586" stop-color="#006dff"/><stop offset=".651" stop-color="#0020ff"/><stop offset=".673" stop-color="#0013ff"/><stop offset=".684" stop-color="#001aff"/><stop offset=".695" stop-color="#0028ff"/><stop offset=".743" stop-color="#007aff"/><stop offset=".77" stop-color="#00b6ff"/><stop offset=".786" stop-color="#00f4ff"/><stop offset=".792" stop-color="#00feff"/><stop offset=".851" stop-color="#0fb"/><stop offset=".927" stop-color="#00ff7d"/><stop offset=".965" stop-color="#00ff6e"/><stop offset="1" stop-color="#00ff6e"/></linearGradient><linearGradient id="c43"><stop offset="0" stop-color="#00ff6e"/><stop offset=".024" stop-color="#00ff6e"/><stop offset=".051" stop-color="#01ff61"/><stop offset=".057" stop-color="#08ff5e"/><stop offset=".084" stop-color="#3fff40"/><stop offset=".116" stop-color="#69ff2a"/><stop offset=".149" stop-color="#9cff14"/><stop offset=".17" stop-color="#c9ff03"/><stop offset=".186" stop-color="#ff0"/><stop offset=".192" stop-color="#fffc00"/><stop offset=".224" stop-color="#ffdc00"/><stop offset=".23" stop-color="#ffd300"/><stop offset=".241" stop-color="#ffb200"/><stop offset=".251" stop-color="#ff9f00"/><stop offset=".278" stop-color="#ff8600"/><stop offset=".316" stop-color="#f50"/><stop offset=".332" stop-color="#ff4a00"/><stop offset=".349" stop-color="#ff5e00"/><stop offset=".381" stop-color="#ffa000"/><stop offset=".408" stop-color="#ffce00"/><stop offset=".43" stop-color="#ff0"/><stop offset=".435" stop-color="#e2ff00"/><stop offset=".441" stop-color="#bcff08"/><stop offset=".451" stop-color="#6fff27"/><stop offset=".457" stop-color="#44ff3e"/><stop offset=".462" stop-color="#1fff51"/><stop offset=".468" stop-color="#03ff60"/><stop offset=".478" stop-color="#00ff71"/><stop offset=".489" stop-color="#00ff8c"/><stop offset=".516" stop-color="#00fff5"/><stop offset=".522" stop-color="#00f8ff"/><stop offset=".565" stop-color="#08f"/><stop offset=".586" stop-color="#005dff"/><stop offset=".651" stop-color="#0013ff"/><stop offset=".673" stop-color="#0006ff"/><stop offset=".695" stop-color="#001aff"/><stop offset=".743" stop-color="#006aff"/><stop offset=".776" stop-color="#00bcff"/><stop offset=".786" stop-color="#00eaff"/><stop offset=".792" stop-color="#00fbff"/><stop offset=".851" stop-color="#00ffbc"/><stop offset=".927" stop-color="#00ff7d"/><stop offset=".965" stop-color="#00ff6e"/><stop offset="1" stop-color="#00ff6e"/></linearGradient><linearGradient id="c44"><stop offset="0" stop-color="#00ff6e"/><stop offset=".019" stop-color="#00ff6e"/><stop offset=".046" stop-color="#00ff62"/><stop offset=".051" stop-color="#05ff5f"/><stop offset=".078" stop-color="#3eff41"/><stop offset=".116" stop-color="#6fff27"/><stop offset=".149" stop-color="#a3ff11"/><stop offset=".17" stop-color="#d4ff00"/><stop offset=".181" stop-color="#fdff00"/><stop offset=".186" stop-color="#fffd00"/><stop offset=".224" stop-color="#ffd600"/><stop offset=".235" stop-color="#ffb200"/><stop offset=".246" stop-color="#ff9e00"/><stop offset=".316" stop-color="#ff4600"/><stop offset=".332" stop-color="#ff3c00"/><stop offset=".354" stop-color="#ff5a00"/><stop offset=".386" stop-color="#ffa000"/><stop offset=".408" stop-color="#ffc800"/><stop offset=".43" stop-color="#fffc00"/><stop offset=".435" stop-color="#ecff00"/><stop offset=".441" stop-color="#c5ff05"/><stop offset=".451" stop-color="#77ff23"/><stop offset=".462" stop-color="#24ff4f"/><stop offset=".468" stop-color="#06ff5f"/><stop offset=".473" stop-color="#00ff6a"/><stop offset=".489" stop-color="#00ff95"/><stop offset=".511" stop-color="#00fff3"/><stop offset=".516" stop-color="#00f8ff"/><stop offset=".565" stop-color="#0079ff"/><stop offset=".586" stop-color="#004fff"/><stop offset=".657" stop-color="#0001ff"/><stop offset=".673" stop-color="#0000f8"/><stop offset=".684" stop-color="#0000fe"/><stop offset=".711" stop-color="#0024ff"/><stop offset=".749" stop-color="#0067ff"/><stop offset=".776" stop-color="#00b1ff"/><stop offset=".792" stop-color="#00f9ff"/><stop offset=".797" stop-color="#00fffd"/><stop offset=".851" stop-color="#00ffbc"/><stop offset=".927" stop-color="#00ff7e"/><stop offset=".965" stop-color="#00ff6e"/><stop offset="1" stop-color="#00ff6e"/></linearGradient><linearGradient id="c45"><stop offset="0" stop-color="#00ff6e"/><stop offset=".019" stop-color="#00ff6d"/><stop offset=".041" stop-color="#00ff63"/><stop offset=".051" stop-color="#0aff5c"/><stop offset=".078" stop-color="#43ff3e"/><stop offset=".143" stop-color="#9eff13"/><stop offset=".159" stop-color="#c0ff06"/><stop offset=".17" stop-color="#e0ff00"/><stop offset=".176" stop-color="#f7ff00"/><stop offset=".181" stop-color="#ff0"/><stop offset=".219" stop-color="#ffd900"/><stop offset=".235" stop-color="#ffa600"/><stop offset=".241" stop-color="#ff9e00"/><stop offset=".311" stop-color="#ff3f00"/><stop offset=".332" stop-color="#ff3000"/><stop offset=".343" stop-color="#ff3b00"/><stop offset=".359" stop-color="#ff5900"/><stop offset=".408" stop-color="#ffc200"/><stop offset=".43" stop-color="#fff800"/><stop offset=".435" stop-color="#f4ff00"/><stop offset=".441" stop-color="#ccff02"/><stop offset=".451" stop-color="#7eff1f"/><stop offset=".462" stop-color="#28ff4c"/><stop offset=".468" stop-color="#08ff5d"/><stop offset=".473" stop-color="#00ff6a"/><stop offset=".489" stop-color="#00ff9f"/><stop offset=".505" stop-color="#00ffec"/><stop offset=".511" stop-color="#00fbff"/><stop offset=".522" stop-color="#00d9ff"/><stop offset=".565" stop-color="#006bff"/><stop offset=".592" stop-color="#003bff"/><stop offset=".646" stop-color="#00f"/><stop offset=".673" stop-color="#0000ed"/><stop offset=".695" stop-color="#0000fe"/><stop offset=".722" stop-color="#0027ff"/><stop offset=".754" stop-color="#06f"/><stop offset=".781" stop-color="#00baff"/><stop offset=".792" stop-color="#00f6ff"/><stop offset=".797" stop-color="#0ff"/><stop offset=".851" stop-color="#00ffbd"/><stop offset=".927" stop-color="#00ff7e"/><stop offset=".965" stop-color="#00ff6e"/><stop offset="1" stop-color="#00ff6e"/></linearGradient><linearGradient id="c46"><stop offset="0" stop-color="#00ff6e"/><stop offset=".014" stop-color="#00ff6e"/><stop offset=".041" stop-color="#00ff62"/><stop offset=".046" stop-color="#06ff5e"/><stop offset=".073" stop-color="#3fff40"/><stop offset=".143" stop-color="#a3ff11"/><stop offset=".159" stop-color="#c7ff04"/><stop offset=".176" stop-color="#ff0"/><stop offset=".214" stop-color="#ffdc00"/><stop offset=".219" stop-color="#ffd300"/><stop offset=".23" stop-color="#ffa900"/><stop offset=".289" stop-color="#ff5000"/><stop offset=".316" stop-color="#ff2e00"/><stop offset=".332" stop-color="#ff2600"/><stop offset=".343" stop-color="#ff3000"/><stop offset=".359" stop-color="#ff4e00"/><stop offset=".414" stop-color="#ffca00"/><stop offset=".43" stop-color="#fff500"/><stop offset=".435" stop-color="#faff00"/><stop offset=".441" stop-color="#d3ff00"/><stop offset=".451" stop-color="#83ff1d"/><stop offset=".462" stop-color="#2cff4b"/><stop offset=".468" stop-color="#0aff5c"/><stop offset=".473" stop-color="#00ff6e"/><stop offset=".489" stop-color="#00ffa8"/><stop offset=".505" stop-color="#00fffb"/><stop offset=".527" stop-color="#00bfff"/><stop offset=".57" stop-color="#0053ff"/><stop offset=".597" stop-color="#0029ff"/><stop offset=".641" stop-color="#0000fb"/><stop offset=".673" stop-color="#0000e1"/><stop offset=".684" stop-color="#0000e7"/><stop offset=".705" stop-color="#0002ff"/><stop offset=".722" stop-color="#001aff"/><stop offset=".759" stop-color="#0068ff"/><stop offset=".781" stop-color="#00b1ff"/><stop offset=".786" stop-color="#0cf"/><stop offset=".792" stop-color="#00f1ff"/><stop offset=".797" stop-color="#00feff"/><stop offset=".851" stop-color="#00ffbd"/><stop offset=".927" stop-color="#00ff7e"/><stop offset=".965" stop-color="#00ff6e"/><stop offset="1" stop-color="#00ff6e"/></linearGradient><linearGradient id="c47"><stop offset="0" stop-color="#00ff6e"/><stop offset=".035" stop-color="#00ff63"/><stop offset=".046" stop-color="#0aff5d"/><stop offset=".073" stop-color="#43ff3e"/><stop offset=".111" stop-color="#75ff24"/><stop offset=".143" stop-color="#a7ff10"/><stop offset=".159" stop-color="#ccff02"/><stop offset=".17" stop-color="#f7ff00"/><stop offset=".176" stop-color="#fffe00"/><stop offset=".214" stop-color="#ffd900"/><stop offset=".224" stop-color="#ffaf00"/><stop offset=".23" stop-color="#ffa100"/><stop offset=".246" stop-color="#ff8e00"/><stop offset=".284" stop-color="#ff4c00"/><stop offset=".311" stop-color="#ff2900"/><stop offset=".332" stop-color="#ff1e00"/><stop offset=".349" stop-color="#ff2f00"/><stop offset=".365" stop-color="#ff5000"/><stop offset=".435" stop-color="#ff0"/><stop offset=".441" stop-color="#d7ff00"/><stop offset=".451" stop-color="#86ff1c"/><stop offset=".462" stop-color="#2eff49"/><stop offset=".468" stop-color="#0cff5b"/><stop offset=".473" stop-color="#00ff71"/><stop offset=".489" stop-color="#00ffb2"/><stop offset=".5" stop-color="#00ffed"/><stop offset=".505" stop-color="#00f8ff"/><stop offset=".522" stop-color="#00c3ff"/><stop offset=".559" stop-color="#005fff"/><stop offset=".576" stop-color="#003eff"/><stop offset=".592" stop-color="#0026ff"/><stop offset=".63" stop-color="#0000fd"/><stop offset=".673" stop-color="#0000d7"/><stop offset=".684" stop-color="#0000dc"/><stop offset=".711" stop-color="#0000fd"/><stop offset=".738" stop-color="#002bff"/><stop offset=".765" stop-color="#006cff"/><stop offset=".781" stop-color="#00a8ff"/><stop offset=".786" stop-color="#00c2ff"/><stop offset=".792" stop-color="#00ebff"/><stop offset=".797" stop-color="#00fdff"/><stop offset=".851" stop-color="#00ffbd"/><stop offset=".932" stop-color="#00ff7a"/><stop offset=".965" stop-color="#00ff6e"/><stop offset="1" stop-color="#00ff6e"/></linearGradient><linearGradient id="c48"><stop offset="0" stop-color="#00ff6e"/><stop offset=".035" stop-color="#00ff62"/><stop offset=".046" stop-color="#0dff5b"/><stop offset=".068" stop-color="#3eff41"/><stop offset=".138" stop-color="#a1ff12"/><stop offset=".159" stop-color="#d2ff00"/><stop offset=".17" stop-color="#ff0"/><stop offset=".176" stop-color="#fffc00"/><stop offset=".214" stop-color="#ffd500"/><stop offset=".224" stop-color="#ffa500"/><stop offset=".241" stop-color="#ff9100"/><stop offset=".273" stop-color="#ff5100"/><stop offset=".3" stop-color="#ff2b00"/><stop offset=".322" stop-color="#ff1900"/><stop offset=".338" stop-color="#ff1a00"/><stop offset=".354" stop-color="#ff2f00"/><stop offset=".381" stop-color="#ff6d00"/><stop offset=".435" stop-color="#ff0"/><stop offset=".441" stop-color="#dbff00"/><stop offset=".451" stop-color="#88ff1b"/><stop offset=".462" stop-color="#30ff48"/><stop offset=".468" stop-color="#0dff5b"/><stop offset=".473" stop-color="#00ff74"/><stop offset=".489" stop-color="#00ffba"/><stop offset=".5" stop-color="#00fff8"/><stop offset=".505" stop-color="#0ef"/><stop offset=".522" stop-color="#00b9ff"/><stop offset=".554" stop-color="#0061ff"/><stop offset=".576" stop-color="#0034ff"/><stop offset=".592" stop-color="#001dff"/><stop offset=".619" stop-color="#0000fe"/><stop offset=".657" stop-color="#0000d8"/><stop offset=".673" stop-color="#0000cd"/><stop offset=".684" stop-color="#0000d2"/><stop offset=".716" stop-color="#0000fa"/><stop offset=".722" stop-color="#0003ff"/><stop offset=".738" stop-color="#001fff"/><stop offset=".765" stop-color="#0061ff"/><stop offset=".77" stop-color="#0072ff"/><stop offset=".786" stop-color="#00b8ff"/><stop offset=".792" stop-color="#00e5ff"/><stop offset=".797" stop-color="#00fcff"/><stop offset=".851" stop-color="#00ffbd"/><stop offset=".932" stop-color="#00ff7a"/><stop offset=".965" stop-color="#00ff6e"/><stop offset="1" stop-color="#00ff6e"/></linearGradient><linearGradient id="c49"><stop offset="0" stop-color="#00ff6e"/><stop offset=".03" stop-color="#00ff64"/><stop offset=".041" stop-color="#08ff5e"/><stop offset=".068" stop-color="#41ff3f"/><stop offset=".138" stop-color="#a3ff11"/><stop offset=".154" stop-color="#c7ff04"/><stop offset=".17" stop-color="#ff0"/><stop offset=".208" stop-color="#ffdb00"/><stop offset=".214" stop-color="#ffcd00"/><stop offset=".219" stop-color="#ffae00"/><stop offset=".224" stop-color="#ffa000"/><stop offset=".241" stop-color="#ff8c00"/><stop offset=".262" stop-color="#ff5a00"/><stop offset=".284" stop-color="#ff3600"/><stop offset=".311" stop-color="#ff1900"/><stop offset=".332" stop-color="#ff0f00"/><stop offset=".349" stop-color="#ff1e00"/><stop offset=".359" stop-color="#ff3100"/><stop offset=".386" stop-color="#ff7300"/><stop offset=".435" stop-color="#ff0"/><stop offset=".441" stop-color="#deff00"/><stop offset=".451" stop-color="#8aff1a"/><stop offset=".468" stop-color="#09ff5d"/><stop offset=".473" stop-color="#0f7"/><stop offset=".484" stop-color="#00ffa6"/><stop offset=".5" stop-color="#00fdff"/><stop offset=".511" stop-color="#00d2ff"/><stop offset=".522" stop-color="#00b0ff"/><stop offset=".554" stop-color="#0056ff"/><stop offset=".581" stop-color="#0023ff"/><stop offset=".614" stop-color="#0000fb"/><stop offset=".673" stop-color="#0000c4"/><stop offset=".689" stop-color="#0000cf"/><stop offset=".727" stop-color="#00f"/><stop offset=".749" stop-color="#002bff"/><stop offset=".77" stop-color="#0067ff"/><stop offset=".786" stop-color="#00afff"/><stop offset=".792" stop-color="#00dfff"/><stop offset=".797" stop-color="#00fcff"/><stop offset=".851" stop-color="#00ffbd"/><stop offset=".932" stop-color="#00ff7a"/><stop offset=".965" stop-color="#00ff6e"/><stop offset="1" stop-color="#00ff6e"/></linearGradient><linearGradient id="c50"><stop offset="0" stop-color="#00ff6e"/><stop offset=".03" stop-color="#00ff63"/><stop offset=".041" stop-color="#0aff5d"/><stop offset=".068" stop-color="#43ff3e"/><stop offset=".138" stop-color="#a6ff10"/><stop offset=".154" stop-color="#caff03"/><stop offset=".165" stop-color="#f4ff00"/><stop offset=".17" stop-color="#ff0"/><stop offset=".208" stop-color="#ffd900"/><stop offset=".219" stop-color="#ffa600"/><stop offset=".235" stop-color="#ff9000"/><stop offset=".262" stop-color="#ff5100"/><stop offset=".278" stop-color="#ff3400"/><stop offset=".3" stop-color="#ff1b00"/><stop offset=".327" stop-color="#ff0800"/><stop offset=".343" stop-color="#f10"/><stop offset=".365" stop-color="#ff3400"/><stop offset=".386" stop-color="#ff6c00"/><stop offset=".435" stop-color="#ff0"/><stop offset=".441" stop-color="#e1ff00"/><stop offset=".451" stop-color="#8cff1a"/><stop offset=".468" stop-color="#06ff5f"/><stop offset=".484" stop-color="#00ffab"/><stop offset=".495" stop-color="#00ffeb"/><stop offset=".5" stop-color="#00f6ff"/><stop offset=".516" stop-color="#00b9ff"/><stop offset=".549" stop-color="#005aff"/><stop offset=".57" stop-color="#002cff"/><stop offset=".603" stop-color="#00f"/><stop offset=".673" stop-color="#0000bc"/><stop offset=".689" stop-color="#0000c7"/><stop offset=".732" stop-color="#0000fe"/><stop offset=".754" stop-color="#002eff"/><stop offset=".776" stop-color="#0070ff"/><stop offset=".786" stop-color="#00a6ff"/><stop offset=".792" stop-color="#00d9ff"/><stop offset=".797" stop-color="#00fbff"/><stop offset=".851" stop-color="#00ffbd"/><stop offset=".932" stop-color="#00ff7a"/><stop offset=".965" stop-color="#00ff6e"/><stop offset="1" stop-color="#00ff6e"/></linearGradient><linearGradient id="c51"><stop offset="0" stop-color="#00ff6e"/><stop offset=".03" stop-color="#00ff62"/><stop offset=".041" stop-color="#0cff5c"/><stop offset=".068" stop-color="#45ff3d"/><stop offset=".138" stop-color="#a8ff0f"/><stop offset=".154" stop-color="#cdff02"/><stop offset=".165" stop-color="#f9ff00"/><stop offset=".17" stop-color="#fffd00"/><stop offset=".208" stop-color="#ffd700"/><stop offset=".214" stop-color="#ffb600"/><stop offset=".219" stop-color="#ffa200"/><stop offset=".235" stop-color="#ff8d00"/><stop offset=".257" stop-color="#ff5300"/><stop offset=".273" stop-color="#ff3200"/><stop offset=".295" stop-color="#ff1800"/><stop offset=".322" stop-color="#ff0400"/><stop offset=".338" stop-color="#ff0500"/><stop offset=".365" stop-color="#ff2b00"/><stop offset=".386" stop-color="#ff6500"/><stop offset=".435" stop-color="#fffe00"/><stop offset=".441" stop-color="#e2ff00"/><stop offset=".451" stop-color="#8dff19"/><stop offset=".468" stop-color="#03ff60"/><stop offset=".484" stop-color="#00ffb0"/><stop offset=".495" stop-color="#00fff2"/><stop offset=".5" stop-color="#00f0ff"/><stop offset=".516" stop-color="#00b2ff"/><stop offset=".543" stop-color="#005eff"/><stop offset=".565" stop-color="#002eff"/><stop offset=".592" stop-color="#0005ff"/><stop offset=".597" stop-color="#0000fe"/><stop offset=".673" stop-color="#0000b5"/><stop offset=".695" stop-color="#0000c5"/><stop offset=".738" stop-color="#0000fe"/><stop offset=".754" stop-color="#0023ff"/><stop offset=".776" stop-color="#0065ff"/><stop offset=".786" stop-color="#009eff"/><stop offset=".792" stop-color="#00d4ff"/><stop offset=".797" stop-color="#00fbff"/><stop offset=".851" stop-color="#00ffbd"/><stop offset=".932" stop-color="#00ff7a"/><stop offset=".965" stop-color="#00ff6e"/><stop offset="1" stop-color="#00ff6e"/></linearGradient><linearGradient id="c52"><stop offset="0" stop-color="#00ff6e"/><stop offset=".03" stop-color="#00ff62"/><stop offset=".041" stop-color="#0dff5b"/><stop offset=".062" stop-color="#3eff41"/><stop offset=".138" stop-color="#a9ff0f"/><stop offset=".154" stop-color="#cfff01"/><stop offset=".165" stop-color="#fcff00"/><stop offset=".17" stop-color="#fffc00"/><stop offset=".208" stop-color="#ffd300"/><stop offset=".214" stop-color="#ffac00"/><stop offset=".219" stop-color="#ff9f00"/><stop offset=".235" stop-color="#f80"/><stop offset=".257" stop-color="#ff4a00"/><stop offset=".273" stop-color="#ff2900"/><stop offset=".311" stop-color="#ff0400"/><stop offset=".332" stop-color="#fb0000"/><stop offset=".349" stop-color="#ff0a00"/><stop offset=".37" stop-color="#ff3000"/><stop offset=".392" stop-color="#ff6f00"/><stop offset=".435" stop-color="#fffd00"/><stop offset=".441" stop-color="#e3ff00"/><stop offset=".451" stop-color="#8dff19"/><stop offset=".468" stop-color="#01ff61"/><stop offset=".484" stop-color="#00ffb4"/><stop offset=".495" stop-color="#00fff7"/><stop offset=".5" stop-color="#00ebff"/><stop offset=".516" stop-color="#00acff"/><stop offset=".543" stop-color="#0056ff"/><stop offset=".565" stop-color="#0027ff"/><stop offset=".592" stop-color="#0000fd"/><stop offset=".646" stop-color="#0000c4"/><stop offset=".673" stop-color="#0000ae"/><stop offset=".689" stop-color="#0000b9"/><stop offset=".738" stop-color="#0000f6"/><stop offset=".743" stop-color="#0001ff"/><stop offset=".754" stop-color="#001aff"/><stop offset=".776" stop-color="#005cff"/><stop offset=".781" stop-color="#0072ff"/><stop offset=".786" stop-color="#0097ff"/><stop offset=".792" stop-color="#00ceff"/><stop offset=".797" stop-color="#00fbff"/><stop offset=".851" stop-color="#00ffbd"/><stop offset=".932" stop-color="#00ff7a"/><stop offset=".965" stop-color="#00ff6e"/><stop offset="1" stop-color="#00ff6e"/></linearGradient><linearGradient id="c53"><stop offset="0" stop-color="#00ff6e"/><stop offset=".03" stop-color="#00ff61"/><stop offset=".041" stop-color="#0eff5a"/><stop offset=".062" stop-color="#3fff41"/><stop offset=".138" stop-color="#abff0e"/><stop offset=".154" stop-color="#d1ff00"/><stop offset=".165" stop-color="#feff00"/><stop offset=".203" stop-color="#ffdc00"/><stop offset=".208" stop-color="#ffce00"/><stop offset=".214" stop-color="#ffa600"/><stop offset=".235" stop-color="#ff8400"/><stop offset=".257" stop-color="#ff4100"/><stop offset=".273" stop-color="#ff2100"/><stop offset=".305" stop-color="#ff0200"/><stop offset=".332" stop-color="#f60000"/><stop offset=".349" stop-color="#ff0400"/><stop offset=".37" stop-color="#ff2800"/><stop offset=".392" stop-color="#ff6900"/><stop offset=".435" stop-color="#fffd00"/><stop offset=".441" stop-color="#e4ff00"/><stop offset=".451" stop-color="#8eff19"/><stop offset=".462" stop-color="#34ff46"/><stop offset=".468" stop-color="#00ff62"/><stop offset=".484" stop-color="#00ffb7"/><stop offset=".495" stop-color="#00fffc"/><stop offset=".5" stop-color="#00e8ff"/><stop offset=".516" stop-color="#00a6ff"/><stop offset=".538" stop-color="#005dff"/><stop offset=".559" stop-color="#002aff"/><stop offset=".586" stop-color="#0000fe"/><stop offset=".635" stop-color="#0000c9"/><stop offset=".673" stop-color="#0000a9"/><stop offset=".695" stop-color="#0000b8"/><stop offset=".743" stop-color="#0000f7"/><stop offset=".749" stop-color="#0004ff"/><stop offset=".759" stop-color="#001fff"/><stop offset=".781" stop-color="#0068ff"/><stop offset=".786" stop-color="#008bff"/><stop offset=".792" stop-color="#00c8ff"/><stop offset=".797" stop-color="#00fbff"/><stop offset=".851" stop-color="#00ffbd"/><stop offset=".932" stop-color="#00ff7a"/><stop offset=".965" stop-color="#00ff6e"/><stop offset="1" stop-color="#00ff6e"/></linearGradient><linearGradient id="c54"><stop offset="0" stop-color="#00ff6e"/><stop offset=".03" stop-color="#01ff61"/><stop offset=".041" stop-color="#0fff5a"/><stop offset=".062" stop-color="#40ff40"/><stop offset=".138" stop-color="#abff0e"/><stop offset=".154" stop-color="#d2ff00"/><stop offset=".165" stop-color="#ff0"/><stop offset=".203" stop-color="#ffdb00"/><stop offset=".208" stop-color="#ffc900"/><stop offset=".214" stop-color="#ffa300"/><stop offset=".23" stop-color="#ff8e00"/><stop offset=".251" stop-color="#ff4700"/><stop offset=".268" stop-color="#ff2100"/><stop offset=".3" stop-color="#ff0100"/><stop offset=".332" stop-color="#f10000"/><stop offset=".349" stop-color="#fe0000"/><stop offset=".37" stop-color="#ff2100"/><stop offset=".392" stop-color="#ff6400"/><stop offset=".435" stop-color="#fffd00"/><stop offset=".441" stop-color="#e5ff00"/><stop offset=".451" stop-color="#8eff19"/><stop offset=".462" stop-color="#34ff46"/><stop offset=".468" stop-color="#00ff63"/><stop offset=".484" stop-color="#00ffb9"/><stop offset=".495" stop-color="#0ff"/><stop offset=".511" stop-color="#00b7ff"/><stop offset=".538" stop-color="#0056ff"/><stop offset=".554" stop-color="#002fff"/><stop offset=".57" stop-color="#0012ff"/><stop offset=".581" stop-color="#0001ff"/><stop offset=".592" stop-color="#0000f2"/><stop offset=".651" stop-color="#0000b4"/><stop offset=".678" stop-color="#0000a4"/><stop offset=".727" stop-color="#0000d9"/><stop offset=".749" stop-color="#0000fb"/><stop offset=".754" stop-color="#0008ff"/><stop offset=".765" stop-color="#0026ff"/><stop offset=".781" stop-color="#005fff"/><stop offset=".786" stop-color="#007eff"/><stop offset=".792" stop-color="#00c2ff"/><stop offset=".797" stop-color="#00fbff"/><stop offset=".803" stop-color="#00fffa"/><stop offset=".851" stop-color="#00ffbd"/><stop offset=".932" stop-color="#00ff7a"/><stop offset=".965" stop-color="#00ff6e"/><stop offset="1" stop-color="#00ff6e"/></linearGradient><linearGradient id="c55"><stop offset="0" stop-color="#00ff6e"/><stop offset=".024" stop-color="#00ff64"/><stop offset=".035" stop-color="#08ff5e"/><stop offset=".062" stop-color="#40ff40"/><stop offset=".132" stop-color="#a2ff12"/><stop offset=".154" stop-color="#d3ff00"/><stop offset=".165" stop-color="#ff0"/><stop offset=".17" stop-color="#fffb00"/><stop offset=".203" stop-color="#ffda00"/><stop offset=".208" stop-color="#ffc400"/><stop offset=".214" stop-color="#ffa200"/><stop offset=".23" stop-color="#ff8c00"/><stop offset=".251" stop-color="#ff3f00"/><stop offset=".262" stop-color="#ff2300"/><stop offset=".284" stop-color="#ff0900"/><stop offset=".3" stop-color="#fa0000"/><stop offset=".332" stop-color="#ed0000"/><stop offset=".354" stop-color="#f00"/><stop offset=".365" stop-color="#f10"/><stop offset=".381" stop-color="#ff3900"/><stop offset=".435" stop-color="#fffc00"/><stop offset=".441" stop-color="#e5ff00"/><stop offset=".451" stop-color="#8eff19"/><stop offset=".462" stop-color="#34ff46"/><stop offset=".468" stop-color="#00ff64"/><stop offset=".484" stop-color="#0fb"/><stop offset=".495" stop-color="#00fdff"/><stop offset=".511" stop-color="#00b4ff"/><stop offset=".532" stop-color="#0060ff"/><stop offset=".549" stop-color="#0035ff"/><stop offset=".576" stop-color="#0004ff"/><stop offset=".624" stop-color="#0000c9"/><stop offset=".673" stop-color="#00009e"/><stop offset=".695" stop-color="#0000ad"/><stop offset=".749" stop-color="#0000f3"/><stop offset=".754" stop-color="#00f"/><stop offset=".759" stop-color="#000eff"/><stop offset=".781" stop-color="#0057ff"/><stop offset=".786" stop-color="#0073ff"/><stop offset=".792" stop-color="#00bdff"/><stop offset=".797" stop-color="#00faff"/><stop offset=".803" stop-color="#00fffa"/><stop offset=".851" stop-color="#00ffbd"/><stop offset=".932" stop-color="#00ff7a"/><stop offset=".965" stop-color="#00ff6e"/><stop offset="1" stop-color="#00ff6e"/></linearGradient><linearGradient id="c56"><stop offset="0" stop-color="#00ff6e"/><stop offset=".024" stop-color="#00ff64"/><stop offset=".035" stop-color="#08ff5d"/><stop offset=".062" stop-color="#40ff40"/><stop offset=".138" stop-color="#acff0e"/><stop offset=".154" stop-color="#d3ff00"/><stop offset=".165" stop-color="#ff0"/><stop offset=".203" stop-color="#ffda00"/><stop offset=".214" stop-color="#ffa100"/><stop offset=".23" stop-color="#ff8a00"/><stop offset=".235" stop-color="#ff7900"/><stop offset=".251" stop-color="#ff3600"/><stop offset=".262" stop-color="#ff1c00"/><stop offset=".284" stop-color="#ff0300"/><stop offset=".3" stop-color="#f50000"/><stop offset=".332" stop-color="#e80000"/><stop offset=".354" stop-color="#fb0000"/><stop offset=".37" stop-color="#ff1500"/><stop offset=".381" stop-color="#ff3200"/><stop offset=".408" stop-color="#ff9c00"/><stop offset=".435" stop-color="#fffc00"/><stop offset=".441" stop-color="#e5ff00"/><stop offset=".451" stop-color="#8eff19"/><stop offset=".462" stop-color="#34ff46"/><stop offset=".468" stop-color="#00ff64"/><stop offset=".484" stop-color="#00ffbc"/><stop offset=".495" stop-color="#00fcff"/><stop offset=".511" stop-color="#00b1ff"/><stop offset=".532" stop-color="#005bff"/><stop offset=".549" stop-color="#0030ff"/><stop offset=".576" stop-color="#0000fe"/><stop offset=".614" stop-color="#0000d0"/><stop offset=".673" stop-color="#000098"/><stop offset=".678" stop-color="#000098"/><stop offset=".7" stop-color="#0000ae"/><stop offset=".738" stop-color="#0000de"/><stop offset=".754" stop-color="#0000f9"/><stop offset=".759" stop-color="#0007ff"/><stop offset=".77" stop-color="#0028ff"/><stop offset=".781" stop-color="#0050ff"/><stop offset=".786" stop-color="#006bff"/><stop offset=".792" stop-color="#00b7ff"/><stop offset=".797" stop-color="#00faff"/><stop offset=".803" stop-color="#00fffa"/><stop offset=".851" stop-color="#00ffbd"/><stop offset=".932" stop-color="#00ff7a"/><stop offset=".965" stop-color="#00ff6e"/><stop offset="1" stop-color="#00ff6e"/></linearGradient><linearGradient id="c57"><stop offset="0" stop-color="#00ff6e"/><stop offset=".024" stop-color="#00ff64"/><stop offset=".035" stop-color="#08ff5d"/><stop offset=".062" stop-color="#41ff40"/><stop offset=".138" stop-color="#adff0e"/><stop offset=".154" stop-color="#d4ff00"/><stop offset=".165" stop-color="#ff0"/><stop offset=".203" stop-color="#ffda00"/><stop offset=".214" stop-color="#ffa000"/><stop offset=".23" stop-color="#f80"/><stop offset=".235" stop-color="#ff7600"/><stop offset=".246" stop-color="#ff4200"/><stop offset=".257" stop-color="#ff2000"/><stop offset=".278" stop-color="#ff0400"/><stop offset=".3" stop-color="#f00000"/><stop offset=".332" stop-color="#e30000"/><stop offset=".359" stop-color="#fe0000"/><stop offset=".37" stop-color="#f10"/><stop offset=".381" stop-color="#ff2c00"/><stop offset=".408" stop-color="#ff9a00"/><stop offset=".435" stop-color="#fffc00"/><stop offset=".441" stop-color="#e5ff00"/><stop offset=".451" stop-color="#8eff19"/><stop offset=".462" stop-color="#34ff46"/><stop offset=".468" stop-color="#00ff64"/><stop offset=".484" stop-color="#00ffbd"/><stop offset=".495" stop-color="#00fbff"/><stop offset=".511" stop-color="#00b0ff"/><stop offset=".532" stop-color="#0057ff"/><stop offset=".549" stop-color="#002cff"/><stop offset=".57" stop-color="#0004ff"/><stop offset=".614" stop-color="#00c"/><stop offset=".673" stop-color="#000092"/><stop offset=".678" stop-color="#000092"/><stop offset=".695" stop-color="#0000a3"/><stop offset=".754" stop-color="#0000f3"/><stop offset=".759" stop-color="#0001ff"/><stop offset=".765" stop-color="#0010ff"/><stop offset=".776" stop-color="#0034ff"/><stop offset=".786" stop-color="#0064ff"/><stop offset=".797" stop-color="#00faff"/><stop offset=".803" stop-color="#00fffa"/><stop offset=".851" stop-color="#00ffbd"/><stop offset=".932" stop-color="#00ff7a"/><stop offset=".965" stop-color="#00ff6e"/><stop offset="1" stop-color="#00ff6e"/></linearGradient><linearGradient id="c58"><stop offset="0" stop-color="#00ff6e"/><stop offset=".024" stop-color="#00ff64"/><stop offset=".035" stop-color="#08ff5d"/><stop offset=".062" stop-color="#41ff3f"/><stop offset=".138" stop-color="#adff0e"/><stop offset=".154" stop-color="#d4ff00"/><stop offset=".165" stop-color="#ff0"/><stop offset=".203" stop-color="#ffda00"/><stop offset=".208" stop-color="#ffb700"/><stop offset=".214" stop-color="#ff9f00"/><stop offset=".23" stop-color="#ff8700"/><stop offset=".235" stop-color="#ff7300"/><stop offset=".246" stop-color="#ff3b00"/><stop offset=".257" stop-color="#ff1b00"/><stop offset=".278" stop-color="#f00"/><stop offset=".3" stop-color="#ec0000"/><stop offset=".332" stop-color="#de0000"/><stop offset=".359" stop-color="#fa0000"/><stop offset=".37" stop-color="#ff0d00"/><stop offset=".381" stop-color="#ff2700"/><stop offset=".408" stop-color="#ff9a00"/><stop offset=".435" stop-color="#fffc00"/><stop offset=".441" stop-color="#e5ff00"/><stop offset=".451" stop-color="#8eff19"/><stop offset=".462" stop-color="#34ff46"/><stop offset=".468" stop-color="#00ff64"/><stop offset=".495" stop-color="#00fbff"/><stop offset=".511" stop-color="#00afff"/><stop offset=".532" stop-color="#0054ff"/><stop offset=".549" stop-color="#0029ff"/><stop offset=".57" stop-color="#0001ff"/><stop offset=".614" stop-color="#0000c9"/><stop offset=".673" stop-color="#00008c"/><stop offset=".678" stop-color="#00008c"/><stop offset=".743" stop-color="#0000de"/><stop offset=".759" stop-color="#0000fb"/><stop offset=".765" stop-color="#000bff"/><stop offset=".776" stop-color="#002eff"/><stop offset=".786" stop-color="#005fff"/><stop offset=".797" stop-color="#00faff"/><stop offset=".803" stop-color="#00fffa"/><stop offset=".851" stop-color="#00ffbd"/><stop offset=".932" stop-color="#00ff7a"/><stop offset=".965" stop-color="#00ff6e"/><stop offset="1" stop-color="#00ff6e"/></linearGradient><linearGradient id="c59"><stop offset="0" stop-color="#00ff6e"/><stop offset=".024" stop-color="#00ff64"/><stop offset=".035" stop-color="#08ff5d"/><stop offset=".062" stop-color="#41ff3f"/><stop offset=".138" stop-color="#adff0e"/><stop offset=".154" stop-color="#d4ff00"/><stop offset=".165" stop-color="#ff0"/><stop offset=".203" stop-color="#ffda00"/><stop offset=".208" stop-color="#ffb600"/><stop offset=".214" stop-color="#ff9f00"/><stop offset=".23" stop-color="#ff8600"/><stop offset=".235" stop-color="#ff7200"/><stop offset=".246" stop-color="#ff3600"/><stop offset=".257" stop-color="#ff1700"/><stop offset=".273" stop-color="#ff0200"/><stop offset=".3" stop-color="#e70000"/><stop offset=".332" stop-color="#d60000"/><stop offset=".354" stop-color="#ed0000"/><stop offset=".365" stop-color="#f00"/><stop offset=".37" stop-color="#ff0a00"/><stop offset=".381" stop-color="#ff2400"/><stop offset=".408" stop-color="#f90"/><stop offset=".435" stop-color="#fffc00"/><stop offset=".441" stop-color="#e5ff00"/><stop offset=".451" stop-color="#8eff19"/><stop offset=".462" stop-color="#34ff46"/><stop offset=".468" stop-color="#00ff64"/><stop offset=".495" stop-color="#00fbff"/><stop offset=".532" stop-color="#0052ff"/><stop offset=".549" stop-color="#0027ff"/><stop offset=".57" stop-color="#0000fe"/><stop offset=".608" stop-color="#00c"/><stop offset=".673" stop-color="#000086"/><stop offset=".678" stop-color="#000086"/><stop offset=".743" stop-color="#0000db"/><stop offset=".759" stop-color="#0000f7"/><stop offset=".765" stop-color="#0007ff"/><stop offset=".77" stop-color="#0018ff"/><stop offset=".781" stop-color="#0040ff"/><stop offset=".786" stop-color="#005cff"/><stop offset=".797" stop-color="#00faff"/><stop offset=".803" stop-color="#00fffa"/><stop offset=".851" stop-color="#00ffbd"/><stop offset=".932" stop-color="#00ff7a"/><stop offset=".965" stop-color="#00ff6e"/><stop offset="1" stop-color="#00ff6e"/></linearGradient></defs><g transform="translate(322.60 183.70) scale(1.00054 0.99917)"><rect y="0" width="185" height="4" fill="url(#c0)"/><rect y="2" width="185" height="4" fill="url(#c1)"/><rect y="4" width="185" height="4" fill="url(#c2)"/><rect y="6" width="185" height="4" fill="url(#c3)"/><rect y="8" width="185" height="4" fill="url(#c4)"/><rect y="10" width="185" height="4" fill="url(#c5)"/><rect y="12" width="185" height="4" fill="url(#c6)"/><rect y="14" width="185" height="4" fill="url(#c7)"/><rect y="16" width="185" height="4" fill="url(#c8)"/><rect y="18" width="185" height="4" fill="url(#c9)"/><rect y="20" width="185" height="4" fill="url(#c10)"/><rect y="22" width="185" height="4" fill="url(#c11)"/><rect y="24" width="185" height="4" fill="url(#c12)"/><rect y="26" width="185" height="4" fill="url(#c13)"/><rect y="28" width="185" height="4" fill="url(#c14)"/><rect y="30" width="185" height="4" fill="url(#c15)"/><rect y="32" width="185" height="4" fill="url(#c16)"/><rect y="34" width="185" height="4" fill="url(#c17)"/><rect y="36" width="185" height="4" fill="url(#c18)"/><rect y="38" width="185" height="4" fill="url(#c19)"/><rect y="40" width="185" height="4" fill="url(#c20)"/><rect y="42" width="185" height="4" fill="url(#c21)"/><rect y="44" width="185" height="4" fill="url(#c22)"/><rect y="46" width="185" height="4" fill="url(#c23)"/><rect y="48" width="185" height="4" fill="url(#c24)"/><rect y="50" width="185" height="4" fill="url(#c25)"/><rect y="52" width="185" height="4" fill="url(#c26)"/><rect y="54" width="185" height="4" fill="url(#c27)"/><rect y="56" width="185" height="4" fill="url(#c28)"/><rect y="58" width="185" height="4" fill="url(#c29)"/><rect y="60" width="185" height="4" fill="url(#c30)"/><rect y="62" width="185" height="4" fill="url(#c31)"/><rect y="64" width="185" height="4" fill="url(#c32)"/><rect y="66" width="185" height="4" fill="url(#c33)"/><rect y="68" width="185" height="4" fill="url(#c34)"/><rect y="70" width="185" height="4" fill="url(#c35)"/><rect y="72" width="185" height="4" fill="url(#c36)"/><rect y="74" width="185" height="4" fill="url(#c37)"/><rect y="76" width="185" height="4" fill="url(#c38)"/><rect y="78" width="185" height="4" fill="url(#c39)"/><rect y="80" width="185" height="4" fill="url(#c40)"/><rect y="82" width="185" height="4" fill="url(#c41)"/><rect y="84" width="185" height="4" fill="url(#c42)"/><rect y="86" width="185" height="4" fill="url(#c43)"/><rect y="88" width="185" height="4" fill="url(#c44)"/><rect y="90" width="185" height="4" fill="url(#c45)"/><rect y="92" width="185" height="4" fill="url(#c46)"/><rect y="94" width="185" height="4" fill="url(#c47)"/><rect y="96" width="185" height="4" fill="url(#c48)"/><rect y="98" width="185" height="4" fill="url(#c49)"/><rect y="100" width="185" height="4" fill="url(#c50)"/><rect y="102" width="185" height="4" fill="url(#c51)"/><rect y="104" width="185" height="4" fill="url(#c52)"/><rect y="106" width="185" height="4" fill="url(#c53)"/><rect y="108" width="185" height="4" fill="url(#c54)"/><rect y="110" width="185" height="4" fill="url(#c55)"/><rect y="112" width="185" height="4" fill="url(#c56)"/><rect y="114" width="185" height="4" fill="url(#c57)"/><rect y="116" width="185" height="4" fill="url(#c58)"/><rect y="118" width="185" height="2" fill="url(#c59)"/><rect x="38.09" y="0" width="1.1" height="120" fill="#000" fill-opacity=".9"/><rect x="146.01" y="0" width="1.1" height="120" fill="#000" fill-opacity=".9"/></g><rect x="511.40" y="183.70" width="7.6" height="119.90" fill="url(#cbg)"/><path d="M322.60 203.68h1.8M507.70 203.68h-1.8M322.60 223.67h1.8M507.70 223.67h-1.8M322.60 243.65h1.8M507.70 243.65h-1.8M322.60 263.63h1.8M507.70 263.63h-1.8M322.60 283.62h1.8M507.70 283.62h-1.8M353.45 303.60v-1.8M353.45 183.70v1.8M384.30 303.60v-1.8M384.30 183.70v1.8M415.15 303.60v-1.8M415.15 183.70v1.8M446.00 303.60v-1.8M446.00 183.70v1.8M476.85 303.60v-1.8M476.85 183.70v1.8M511.40 280.34h1M519.00 280.34h-1M511.40 243.65h1M519.00 243.65h-1M511.40 206.96h1M519.00 206.96h-1" stroke="#262626" stroke-opacity=".55" stroke-width=".5" fill="none"/></svg>
<span class="yt" style="left:140.7px;top:5.5px">0.015</span>
<span class="yt" style="left:140.7px;top:25.5px">0.01</span>
<span class="yt" style="left:140.7px;top:45.5px">0.005</span>
<span class="yt" style="left:140.7px;top:65.4px">0</span>
<span class="yt" style="left:140.7px;top:85.4px">−0.005</span>
<span class="yt" style="left:140.7px;top:105.4px">−0.01</span>
<span class="yt" style="left:140.7px;top:125.4px">−0.015</span>
<span class="xt" style="left:162.7px;top:133.5px">−0.6</span>
<span class="xt" style="left:193.6px;top:133.5px">−0.4</span>
<span class="xt" style="left:224.5px;top:133.5px">−0.2</span>
<span class="xt" style="left:255.3px;top:133.5px">0</span>
<span class="xt" style="left:286.2px;top:133.5px">0.2</span>
<span class="xt" style="left:317.1px;top:133.5px">0.4</span>
<span class="ti" style="left:255.3px;top:-2.1px"><i>u</i><sub>1</sub></span>
<span class="xl" style="left:245.3px;top:141.9px"><i>x</i><sub>1</sub> (mm)</span>
<span class="yl" style="left:117.2px;top:63.5px"><i>x</i><sub>2</sub> (mm)</span>
<span class="ct" style="left:381.3px;top:29.3px">5× 10<sup>−6</sup></span>
<span class="ct" style="left:381.3px;top:65.9px">0</span>
<span class="ct" style="left:380.3px;top:103.1px">−5× 10<sup>−6</sup></span>
<span class="cap" style="left:256.7px;top:156.7px">(a)</span>
<span class="yt" style="left:0.8px;top:178.7px">0.015</span>
<span class="yt" style="left:0.8px;top:198.7px">0.01</span>
<span class="yt" style="left:0.8px;top:218.7px">0.005</span>
<span class="yt" style="left:0.8px;top:238.6px">0</span>
<span class="yt" style="left:0.8px;top:258.6px">−0.005</span>
<span class="yt" style="left:0.8px;top:278.6px">−0.01</span>
<span class="yt" style="left:0.8px;top:298.6px">−0.015</span>
<span class="xt" style="left:22.8px;top:306.7px">−0.6</span>
<span class="xt" style="left:53.7px;top:306.7px">−0.4</span>
<span class="xt" style="left:84.6px;top:306.7px">−0.2</span>
<span class="xt" style="left:115.4px;top:306.7px">0</span>
<span class="xt" style="left:146.3px;top:306.7px">0.2</span>
<span class="xt" style="left:177.2px;top:306.7px">0.4</span>
<span class="ti" style="left:115.4px;top:171.1px"><i>u</i><sub>1</sub></span>
<span class="xl" style="left:105.4px;top:315.1px"><i>x</i><sub>1</sub> (mm)</span>
<span class="yl" style="left:-22.7px;top:236.7px"><i>x</i><sub>2</sub> (mm)</span>
<span class="ct" style="left:241.4px;top:202.5px">5× 10<sup>−6</sup></span>
<span class="ct" style="left:241.4px;top:239.1px">0</span>
<span class="ct" style="left:240.4px;top:276.3px">−5× 10<sup>−6</sup></span>
<span class="cap" style="left:116.8px;top:329.9px">(b)</span>
<span class="yt" style="left:280.6px;top:178.7px">0.015</span>
<span class="yt" style="left:280.6px;top:198.7px">0.01</span>
<span class="yt" style="left:280.6px;top:218.7px">0.005</span>
<span class="yt" style="left:280.6px;top:238.6px">0</span>
<span class="yt" style="left:280.6px;top:258.6px">−0.005</span>
<span class="yt" style="left:280.6px;top:278.6px">−0.01</span>
<span class="yt" style="left:280.6px;top:298.6px">−0.015</span>
<span class="xt" style="left:302.6px;top:306.7px">−0.6</span>
<span class="xt" style="left:333.5px;top:306.7px">−0.4</span>
<span class="xt" style="left:364.4px;top:306.7px">−0.2</span>
<span class="xt" style="left:395.2px;top:306.7px">0</span>
<span class="xt" style="left:426.1px;top:306.7px">0.2</span>
<span class="xt" style="left:457.0px;top:306.7px">0.4</span>
<span class="ti" style="left:395.2px;top:171.1px"><i>u</i><sub>1</sub></span>
<span class="xl" style="left:385.2px;top:315.1px"><i>x</i><sub>1</sub> (mm)</span>
<span class="yl" style="left:257.1px;top:236.7px"><i>x</i><sub>2</sub> (mm)</span>
<span class="ct" style="left:521.2px;top:202.5px">5× 10<sup>−6</sup></span>
<span class="ct" style="left:521.2px;top:239.1px">0</span>
<span class="ct" style="left:520.2px;top:276.3px">−5× 10<sup>−6</sup></span>
<span class="cap" style="left:396.6px;top:329.9px">(c)</span>
</body></html>
